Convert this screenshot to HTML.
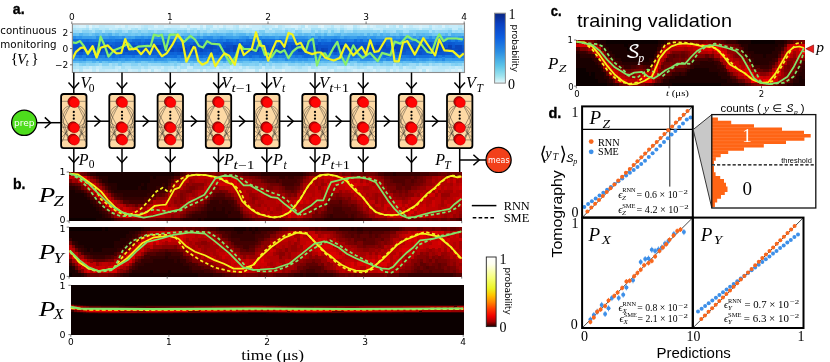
<!DOCTYPE html>
<html><head><meta charset="utf-8"><title>figure</title>
<style>html,body{margin:0;padding:0;background:#fff;}body{width:830px;height:362px;overflow:hidden;}svg{display:block;}</style>
</head><body>
<svg width="830" height="362" viewBox="0 0 830 362">
<rect width="830" height="362" fill="#fff"/>
<text x="12.8" y="13.5" font-family='"Liberation Sans", "DejaVu Sans", sans-serif' font-size="15.5" font-weight="bold" textLength="11.8" lengthAdjust="spacingAndGlyphs" stroke="#000" stroke-width="0.35">a.</text>
<g shape-rendering="crispEdges"><path fill="#c6ecfa" d="M72.4 24.5h3.6v3.3h-3.6zM92.0 24.5h3.6v3.3h-3.6zM105.1 24.5h10.1v3.3h-10.1zM157.4 24.5h6.8v3.3h-6.8zM170.4 24.5h10.1v3.3h-10.1zM216.2 24.5h3.6v3.3h-3.6zM252.1 24.5h10.1v3.3h-10.1zM271.7 24.5h3.6v3.3h-3.6zM297.9 24.5h3.6v3.3h-3.6zM307.7 24.5h3.6v3.3h-3.6zM324.0 24.5h6.8v3.3h-6.8zM356.7 24.5h3.6v3.3h-3.6zM366.5 24.5h3.6v3.3h-3.6zM435.1 24.5h3.6v3.3h-3.6zM448.2 24.5h10.1v3.3h-10.1zM88.7 27.5h3.6v3.3h-3.6zM108.3 27.5h3.6v3.3h-3.6zM127.9 27.5h3.6v3.3h-3.6zM147.6 27.5h3.6v3.3h-3.6zM186.8 27.5h3.6v3.3h-3.6zM252.1 27.5h6.8v3.3h-6.8zM268.5 27.5h3.6v3.3h-3.6zM294.6 27.5h3.6v3.3h-3.6zM301.1 27.5h3.6v3.3h-3.6zM307.7 27.5h3.6v3.3h-3.6zM346.9 27.5h6.8v3.3h-6.8zM373.0 27.5h6.8v3.3h-6.8zM418.8 27.5h3.6v3.3h-3.6zM431.8 27.5h3.6v3.3h-3.6zM451.4 27.5h6.8v3.3h-6.8zM88.7 66.1h3.6v3.3h-3.6zM95.3 66.1h3.6v3.3h-3.6zM118.1 66.1h3.6v3.3h-3.6zM160.6 66.1h3.6v3.3h-3.6zM186.8 66.1h6.8v3.3h-6.8zM216.2 66.1h3.6v3.3h-3.6zM229.2 66.1h3.6v3.3h-3.6zM239.0 66.1h3.6v3.3h-3.6zM261.9 66.1h3.6v3.3h-3.6zM307.7 66.1h3.6v3.3h-3.6zM337.1 66.1h6.8v3.3h-6.8zM346.9 66.1h3.6v3.3h-3.6zM366.5 66.1h6.8v3.3h-6.8zM402.4 66.1h3.6v3.3h-3.6zM422.0 66.1h10.1v3.3h-10.1zM454.7 66.1h3.6v3.3h-3.6zM72.4 69.0h3.6v3.3h-3.6zM105.1 69.0h10.1v3.3h-10.1zM131.2 69.0h6.8v3.3h-6.8zM144.3 69.0h3.6v3.3h-3.6zM167.2 69.0h6.8v3.3h-6.8zM193.3 69.0h3.6v3.3h-3.6zM209.6 69.0h3.6v3.3h-3.6zM219.4 69.0h3.6v3.3h-3.6zM235.8 69.0h3.6v3.3h-3.6zM271.7 69.0h3.6v3.3h-3.6zM284.8 69.0h6.8v3.3h-6.8zM294.6 69.0h3.6v3.3h-3.6zM314.2 69.0h3.6v3.3h-3.6zM350.1 69.0h3.6v3.3h-3.6zM363.2 69.0h3.6v3.3h-3.6zM369.7 69.0h3.6v3.3h-3.6zM402.4 69.0h16.6v3.3h-16.6zM448.2 69.0h3.6v3.3h-3.6z"/>
<path fill="#ceeffb" d="M75.7 24.5h3.6v3.3h-3.6zM95.3 24.5h3.6v3.3h-3.6zM118.1 24.5h3.6v3.3h-3.6zM127.9 24.5h6.8v3.3h-6.8zM137.8 24.5h3.6v3.3h-3.6zM167.2 24.5h3.6v3.3h-3.6zM226.0 24.5h6.8v3.3h-6.8zM242.3 24.5h3.6v3.3h-3.6zM248.8 24.5h3.6v3.3h-3.6zM284.8 24.5h6.8v3.3h-6.8zM333.8 24.5h6.8v3.3h-6.8zM343.6 24.5h3.6v3.3h-3.6zM373.0 24.5h3.6v3.3h-3.6zM405.7 24.5h3.6v3.3h-3.6zM412.2 24.5h6.8v3.3h-6.8zM422.0 24.5h6.8v3.3h-6.8zM431.8 24.5h3.6v3.3h-3.6zM461.2 24.5h3.6v3.3h-3.6zM75.7 69.0h3.6v3.3h-3.6zM114.9 69.0h3.6v3.3h-3.6zM127.9 69.0h3.6v3.3h-3.6zM141.0 69.0h3.6v3.3h-3.6zM157.4 69.0h3.6v3.3h-3.6zM173.7 69.0h3.6v3.3h-3.6zM180.2 69.0h3.6v3.3h-3.6zM196.6 69.0h3.6v3.3h-3.6zM212.9 69.0h6.8v3.3h-6.8zM226.0 69.0h3.6v3.3h-3.6zM232.5 69.0h3.6v3.3h-3.6zM242.3 69.0h3.6v3.3h-3.6zM261.9 69.0h3.6v3.3h-3.6zM268.5 69.0h3.6v3.3h-3.6zM275.0 69.0h6.8v3.3h-6.8zM317.5 69.0h3.6v3.3h-3.6zM327.3 69.0h3.6v3.3h-3.6zM356.7 69.0h3.6v3.3h-3.6zM379.5 69.0h6.8v3.3h-6.8zM395.9 69.0h3.6v3.3h-3.6zM428.6 69.0h3.6v3.3h-3.6zM444.9 69.0h3.6v3.3h-3.6zM454.7 69.0h3.6v3.3h-3.6z"/>
<path fill="#d6f2fc" d="M78.9 24.5h6.8v3.3h-6.8zM114.9 24.5h3.6v3.3h-3.6zM121.4 24.5h3.6v3.3h-3.6zM134.5 24.5h3.6v3.3h-3.6zM154.1 24.5h3.6v3.3h-3.6zM163.9 24.5h3.6v3.3h-3.6zM180.2 24.5h6.8v3.3h-6.8zM190.0 24.5h10.1v3.3h-10.1zM203.1 24.5h3.6v3.3h-3.6zM212.9 24.5h3.6v3.3h-3.6zM219.4 24.5h3.6v3.3h-3.6zM239.0 24.5h3.6v3.3h-3.6zM275.0 24.5h3.6v3.3h-3.6zM291.3 24.5h6.8v3.3h-6.8zM317.5 24.5h3.6v3.3h-3.6zM346.9 24.5h6.8v3.3h-6.8zM359.9 24.5h3.6v3.3h-3.6zM369.7 24.5h3.6v3.3h-3.6zM386.1 24.5h3.6v3.3h-3.6zM395.9 24.5h3.6v3.3h-3.6zM418.8 24.5h3.6v3.3h-3.6zM441.6 24.5h3.6v3.3h-3.6zM82.2 69.0h10.1v3.3h-10.1zM95.3 69.0h3.6v3.3h-3.6zM147.6 69.0h3.6v3.3h-3.6zM154.1 69.0h3.6v3.3h-3.6zM183.5 69.0h3.6v3.3h-3.6zM203.1 69.0h3.6v3.3h-3.6zM222.7 69.0h3.6v3.3h-3.6zM245.6 69.0h10.1v3.3h-10.1zM258.6 69.0h3.6v3.3h-3.6zM307.7 69.0h6.8v3.3h-6.8zM330.5 69.0h3.6v3.3h-3.6zM353.4 69.0h3.6v3.3h-3.6zM359.9 69.0h3.6v3.3h-3.6zM373.0 69.0h3.6v3.3h-3.6zM389.3 69.0h3.6v3.3h-3.6zM418.8 69.0h3.6v3.3h-3.6zM451.4 69.0h3.6v3.3h-3.6z"/>
<path fill="#bee9f9" d="M85.5 24.5h3.6v3.3h-3.6zM98.5 24.5h6.8v3.3h-6.8zM124.7 24.5h3.6v3.3h-3.6zM141.0 24.5h3.6v3.3h-3.6zM147.6 24.5h6.8v3.3h-6.8zM186.8 24.5h3.6v3.3h-3.6zM199.8 24.5h3.6v3.3h-3.6zM222.7 24.5h3.6v3.3h-3.6zM232.5 24.5h3.6v3.3h-3.6zM265.2 24.5h6.8v3.3h-6.8zM281.5 24.5h3.6v3.3h-3.6zM310.9 24.5h6.8v3.3h-6.8zM340.3 24.5h3.6v3.3h-3.6zM376.3 24.5h10.1v3.3h-10.1zM389.3 24.5h3.6v3.3h-3.6zM409.0 24.5h3.6v3.3h-3.6zM438.4 24.5h3.6v3.3h-3.6zM444.9 24.5h3.6v3.3h-3.6zM458.0 24.5h3.6v3.3h-3.6zM111.6 27.5h6.8v3.3h-6.8zM121.4 27.5h6.8v3.3h-6.8zM137.8 27.5h3.6v3.3h-3.6zM150.8 27.5h13.4v3.3h-13.4zM196.6 27.5h3.6v3.3h-3.6zM203.1 27.5h3.6v3.3h-3.6zM209.6 27.5h10.1v3.3h-10.1zM229.2 27.5h3.6v3.3h-3.6zM239.0 27.5h3.6v3.3h-3.6zM258.6 27.5h6.8v3.3h-6.8zM281.5 27.5h3.6v3.3h-3.6zM304.4 27.5h3.6v3.3h-3.6zM320.7 27.5h6.8v3.3h-6.8zM337.1 27.5h3.6v3.3h-3.6zM359.9 27.5h3.6v3.3h-3.6zM379.5 27.5h3.6v3.3h-3.6zM435.1 27.5h6.8v3.3h-6.8zM461.2 27.5h3.6v3.3h-3.6zM82.2 66.1h3.6v3.3h-3.6zM98.5 66.1h3.6v3.3h-3.6zM114.9 66.1h3.6v3.3h-3.6zM150.8 66.1h6.8v3.3h-6.8zM170.4 66.1h3.6v3.3h-3.6zM177.0 66.1h3.6v3.3h-3.6zM245.6 66.1h3.6v3.3h-3.6zM271.7 66.1h3.6v3.3h-3.6zM284.8 66.1h6.8v3.3h-6.8zM317.5 66.1h10.1v3.3h-10.1zM350.1 66.1h3.6v3.3h-3.6zM392.6 66.1h6.8v3.3h-6.8zM415.5 66.1h6.8v3.3h-6.8zM431.8 66.1h6.8v3.3h-6.8zM448.2 66.1h3.6v3.3h-3.6zM458.0 66.1h3.6v3.3h-3.6zM92.0 69.0h3.6v3.3h-3.6zM98.5 69.0h6.8v3.3h-6.8zM118.1 69.0h6.8v3.3h-6.8zM160.6 69.0h3.6v3.3h-3.6zM177.0 69.0h3.6v3.3h-3.6zM186.8 69.0h6.8v3.3h-6.8zM206.4 69.0h3.6v3.3h-3.6zM229.2 69.0h3.6v3.3h-3.6zM239.0 69.0h3.6v3.3h-3.6zM265.2 69.0h3.6v3.3h-3.6zM291.3 69.0h3.6v3.3h-3.6zM297.9 69.0h10.1v3.3h-10.1zM320.7 69.0h6.8v3.3h-6.8zM337.1 69.0h6.8v3.3h-6.8zM346.9 69.0h3.6v3.3h-3.6zM366.5 69.0h3.6v3.3h-3.6zM376.3 69.0h3.6v3.3h-3.6zM392.6 69.0h3.6v3.3h-3.6zM399.1 69.0h3.6v3.3h-3.6zM431.8 69.0h13.4v3.3h-13.4zM461.2 69.0h3.6v3.3h-3.6z"/>
<path fill="#def5fc" d="M88.7 24.5h3.6v3.3h-3.6zM245.6 24.5h3.6v3.3h-3.6zM304.4 24.5h3.6v3.3h-3.6zM320.7 24.5h3.6v3.3h-3.6zM363.2 24.5h3.6v3.3h-3.6zM402.4 24.5h3.6v3.3h-3.6zM281.5 69.0h3.6v3.3h-3.6zM425.3 69.0h3.6v3.3h-3.6zM458.0 69.0h3.6v3.3h-3.6z"/>
<path fill="#b5e6f8" d="M144.3 24.5h3.6v3.3h-3.6zM206.4 24.5h6.8v3.3h-6.8zM235.8 24.5h3.6v3.3h-3.6zM261.9 24.5h3.6v3.3h-3.6zM278.3 24.5h3.6v3.3h-3.6zM301.1 24.5h3.6v3.3h-3.6zM330.5 24.5h3.6v3.3h-3.6zM353.4 24.5h3.6v3.3h-3.6zM392.6 24.5h3.6v3.3h-3.6zM399.1 24.5h3.6v3.3h-3.6zM428.6 24.5h3.6v3.3h-3.6zM75.7 27.5h6.8v3.3h-6.8zM98.5 27.5h6.8v3.3h-6.8zM177.0 27.5h6.8v3.3h-6.8zM226.0 27.5h3.6v3.3h-3.6zM232.5 27.5h3.6v3.3h-3.6zM242.3 27.5h3.6v3.3h-3.6zM248.8 27.5h3.6v3.3h-3.6zM343.6 27.5h3.6v3.3h-3.6zM363.2 27.5h3.6v3.3h-3.6zM369.7 27.5h3.6v3.3h-3.6zM399.1 27.5h6.8v3.3h-6.8zM415.5 27.5h3.6v3.3h-3.6zM441.6 27.5h3.6v3.3h-3.6zM75.7 66.1h3.6v3.3h-3.6zM85.5 66.1h3.6v3.3h-3.6zM92.0 66.1h3.6v3.3h-3.6zM124.7 66.1h6.8v3.3h-6.8zM141.0 66.1h3.6v3.3h-3.6zM147.6 66.1h3.6v3.3h-3.6zM157.4 66.1h3.6v3.3h-3.6zM167.2 66.1h3.6v3.3h-3.6zM232.5 66.1h6.8v3.3h-6.8zM281.5 66.1h3.6v3.3h-3.6zM291.3 66.1h3.6v3.3h-3.6zM301.1 66.1h6.8v3.3h-6.8zM333.8 66.1h3.6v3.3h-3.6zM343.6 66.1h3.6v3.3h-3.6zM353.4 66.1h3.6v3.3h-3.6zM363.2 66.1h3.6v3.3h-3.6zM376.3 66.1h10.1v3.3h-10.1zM389.3 66.1h3.6v3.3h-3.6zM405.7 66.1h3.6v3.3h-3.6zM438.4 66.1h10.1v3.3h-10.1zM451.4 66.1h3.6v3.3h-3.6zM461.2 66.1h3.6v3.3h-3.6zM78.9 69.0h3.6v3.3h-3.6zM124.7 69.0h3.6v3.3h-3.6zM137.8 69.0h3.6v3.3h-3.6zM150.8 69.0h3.6v3.3h-3.6zM163.9 69.0h3.6v3.3h-3.6zM199.8 69.0h3.6v3.3h-3.6zM255.4 69.0h3.6v3.3h-3.6zM333.8 69.0h3.6v3.3h-3.6zM343.6 69.0h3.6v3.3h-3.6zM386.1 69.0h3.6v3.3h-3.6zM422.0 69.0h3.6v3.3h-3.6z"/>
<path fill="#ade3f7" d="M72.4 27.5h3.6v3.3h-3.6zM82.2 27.5h3.6v3.3h-3.6zM92.0 27.5h3.6v3.3h-3.6zM105.1 27.5h3.6v3.3h-3.6zM118.1 27.5h3.6v3.3h-3.6zM131.2 27.5h3.6v3.3h-3.6zM141.0 27.5h3.6v3.3h-3.6zM163.9 27.5h3.6v3.3h-3.6zM170.4 27.5h6.8v3.3h-6.8zM183.5 27.5h3.6v3.3h-3.6zM190.0 27.5h3.6v3.3h-3.6zM199.8 27.5h3.6v3.3h-3.6zM219.4 27.5h3.6v3.3h-3.6zM235.8 27.5h3.6v3.3h-3.6zM245.6 27.5h3.6v3.3h-3.6zM278.3 27.5h3.6v3.3h-3.6zM288.1 27.5h3.6v3.3h-3.6zM297.9 27.5h3.6v3.3h-3.6zM333.8 27.5h3.6v3.3h-3.6zM356.7 27.5h3.6v3.3h-3.6zM366.5 27.5h3.6v3.3h-3.6zM382.8 27.5h16.6v3.3h-16.6zM405.7 27.5h10.1v3.3h-10.1zM422.0 27.5h6.8v3.3h-6.8zM444.9 27.5h3.6v3.3h-3.6zM72.4 66.1h3.6v3.3h-3.6zM78.9 66.1h3.6v3.3h-3.6zM101.8 66.1h10.1v3.3h-10.1zM163.9 66.1h3.6v3.3h-3.6zM206.4 66.1h3.6v3.3h-3.6zM219.4 66.1h3.6v3.3h-3.6zM226.0 66.1h3.6v3.3h-3.6zM242.3 66.1h3.6v3.3h-3.6zM248.8 66.1h6.8v3.3h-6.8zM294.6 66.1h3.6v3.3h-3.6zM314.2 66.1h3.6v3.3h-3.6zM327.3 66.1h6.8v3.3h-6.8zM359.9 66.1h3.6v3.3h-3.6zM373.0 66.1h3.6v3.3h-3.6zM386.1 66.1h3.6v3.3h-3.6zM409.0 66.1h3.6v3.3h-3.6z"/>
<path fill="#a4dff6" d="M85.5 27.5h3.6v3.3h-3.6zM95.3 27.5h3.6v3.3h-3.6zM134.5 27.5h3.6v3.3h-3.6zM144.3 27.5h3.6v3.3h-3.6zM167.2 27.5h3.6v3.3h-3.6zM193.3 27.5h3.6v3.3h-3.6zM206.4 27.5h3.6v3.3h-3.6zM222.7 27.5h3.6v3.3h-3.6zM265.2 27.5h3.6v3.3h-3.6zM271.7 27.5h6.8v3.3h-6.8zM284.8 27.5h3.6v3.3h-3.6zM291.3 27.5h3.6v3.3h-3.6zM310.9 27.5h10.1v3.3h-10.1zM327.3 27.5h6.8v3.3h-6.8zM340.3 27.5h3.6v3.3h-3.6zM353.4 27.5h3.6v3.3h-3.6zM428.6 27.5h3.6v3.3h-3.6zM448.2 27.5h3.6v3.3h-3.6zM458.0 27.5h3.6v3.3h-3.6zM78.9 30.4h3.6v3.3h-3.6zM92.0 30.4h3.6v3.3h-3.6zM101.8 30.4h3.6v3.3h-3.6zM124.7 30.4h3.6v3.3h-3.6zM167.2 30.4h3.6v3.3h-3.6zM206.4 30.4h6.8v3.3h-6.8zM245.6 30.4h3.6v3.3h-3.6zM252.1 30.4h3.6v3.3h-3.6zM265.2 30.4h3.6v3.3h-3.6zM271.7 30.4h3.6v3.3h-3.6zM291.3 30.4h3.6v3.3h-3.6zM301.1 30.4h10.1v3.3h-10.1zM314.2 30.4h3.6v3.3h-3.6zM327.3 30.4h3.6v3.3h-3.6zM337.1 30.4h3.6v3.3h-3.6zM379.5 30.4h3.6v3.3h-3.6zM392.6 30.4h3.6v3.3h-3.6zM402.4 30.4h6.8v3.3h-6.8zM428.6 30.4h3.6v3.3h-3.6zM451.4 30.4h3.6v3.3h-3.6zM458.0 30.4h3.6v3.3h-3.6zM75.7 63.1h3.6v3.3h-3.6zM98.5 63.1h3.6v3.3h-3.6zM108.3 63.1h3.6v3.3h-3.6zM180.2 63.1h3.6v3.3h-3.6zM186.8 63.1h3.6v3.3h-3.6zM229.2 63.1h3.6v3.3h-3.6zM235.8 63.1h3.6v3.3h-3.6zM284.8 63.1h3.6v3.3h-3.6zM392.6 63.1h3.6v3.3h-3.6zM418.8 63.1h3.6v3.3h-3.6zM428.6 63.1h3.6v3.3h-3.6zM438.4 63.1h3.6v3.3h-3.6zM111.6 66.1h3.6v3.3h-3.6zM121.4 66.1h3.6v3.3h-3.6zM131.2 66.1h10.1v3.3h-10.1zM144.3 66.1h3.6v3.3h-3.6zM173.7 66.1h3.6v3.3h-3.6zM180.2 66.1h6.8v3.3h-6.8zM193.3 66.1h13.4v3.3h-13.4zM209.6 66.1h6.8v3.3h-6.8zM222.7 66.1h3.6v3.3h-3.6zM255.4 66.1h6.8v3.3h-6.8zM265.2 66.1h6.8v3.3h-6.8zM275.0 66.1h6.8v3.3h-6.8zM297.9 66.1h3.6v3.3h-3.6zM310.9 66.1h3.6v3.3h-3.6zM356.7 66.1h3.6v3.3h-3.6zM399.1 66.1h3.6v3.3h-3.6zM412.2 66.1h3.6v3.3h-3.6z"/>
<path fill="#9adaf6" d="M72.4 30.4h6.8v3.3h-6.8zM111.6 30.4h3.6v3.3h-3.6zM121.4 30.4h3.6v3.3h-3.6zM154.1 30.4h3.6v3.3h-3.6zM170.4 30.4h3.6v3.3h-3.6zM186.8 30.4h3.6v3.3h-3.6zM193.3 30.4h3.6v3.3h-3.6zM199.8 30.4h3.6v3.3h-3.6zM216.2 30.4h3.6v3.3h-3.6zM242.3 30.4h3.6v3.3h-3.6zM248.8 30.4h3.6v3.3h-3.6zM255.4 30.4h3.6v3.3h-3.6zM268.5 30.4h3.6v3.3h-3.6zM281.5 30.4h3.6v3.3h-3.6zM288.1 30.4h3.6v3.3h-3.6zM320.7 30.4h3.6v3.3h-3.6zM333.8 30.4h3.6v3.3h-3.6zM343.6 30.4h3.6v3.3h-3.6zM350.1 30.4h3.6v3.3h-3.6zM389.3 30.4h3.6v3.3h-3.6zM435.1 30.4h3.6v3.3h-3.6zM454.7 30.4h3.6v3.3h-3.6zM461.2 30.4h3.6v3.3h-3.6zM72.4 63.1h3.6v3.3h-3.6zM114.9 63.1h3.6v3.3h-3.6zM121.4 63.1h10.1v3.3h-10.1zM137.8 63.1h3.6v3.3h-3.6zM147.6 63.1h3.6v3.3h-3.6zM183.5 63.1h3.6v3.3h-3.6zM193.3 63.1h3.6v3.3h-3.6zM209.6 63.1h3.6v3.3h-3.6zM222.7 63.1h3.6v3.3h-3.6zM232.5 63.1h3.6v3.3h-3.6zM258.6 63.1h3.6v3.3h-3.6zM265.2 63.1h3.6v3.3h-3.6zM271.7 63.1h3.6v3.3h-3.6zM281.5 63.1h3.6v3.3h-3.6zM314.2 63.1h3.6v3.3h-3.6zM346.9 63.1h3.6v3.3h-3.6zM353.4 63.1h3.6v3.3h-3.6zM409.0 63.1h6.8v3.3h-6.8zM435.1 63.1h3.6v3.3h-3.6zM444.9 63.1h6.8v3.3h-6.8zM461.2 63.1h3.6v3.3h-3.6z"/>
<path fill="#86d2f4" d="M82.2 30.4h6.8v3.3h-6.8zM95.3 30.4h3.6v3.3h-3.6zM105.1 30.4h6.8v3.3h-6.8zM114.9 30.4h3.6v3.3h-3.6zM150.8 30.4h3.6v3.3h-3.6zM157.4 30.4h6.8v3.3h-6.8zM180.2 30.4h3.6v3.3h-3.6zM190.0 30.4h3.6v3.3h-3.6zM212.9 30.4h3.6v3.3h-3.6zM226.0 30.4h3.6v3.3h-3.6zM235.8 30.4h3.6v3.3h-3.6zM297.9 30.4h3.6v3.3h-3.6zM310.9 30.4h3.6v3.3h-3.6zM317.5 30.4h3.6v3.3h-3.6zM324.0 30.4h3.6v3.3h-3.6zM356.7 30.4h16.6v3.3h-16.6zM376.3 30.4h3.6v3.3h-3.6zM399.1 30.4h3.6v3.3h-3.6zM409.0 30.4h6.8v3.3h-6.8zM431.8 30.4h3.6v3.3h-3.6zM78.9 63.1h3.6v3.3h-3.6zM88.7 63.1h6.8v3.3h-6.8zM101.8 63.1h6.8v3.3h-6.8zM131.2 63.1h6.8v3.3h-6.8zM141.0 63.1h6.8v3.3h-6.8zM160.6 63.1h10.1v3.3h-10.1zM203.1 63.1h3.6v3.3h-3.6zM212.9 63.1h10.1v3.3h-10.1zM248.8 63.1h6.8v3.3h-6.8zM268.5 63.1h3.6v3.3h-3.6zM288.1 63.1h6.8v3.3h-6.8zM297.9 63.1h3.6v3.3h-3.6zM320.7 63.1h6.8v3.3h-6.8zM350.1 63.1h3.6v3.3h-3.6zM356.7 63.1h3.6v3.3h-3.6zM366.5 63.1h10.1v3.3h-10.1zM382.8 63.1h3.6v3.3h-3.6zM395.9 63.1h3.6v3.3h-3.6zM405.7 63.1h3.6v3.3h-3.6zM415.5 63.1h3.6v3.3h-3.6zM425.3 63.1h3.6v3.3h-3.6zM451.4 63.1h3.6v3.3h-3.6zM458.0 63.1h3.6v3.3h-3.6z"/>
<path fill="#90d6f5" d="M88.7 30.4h3.6v3.3h-3.6zM131.2 30.4h6.8v3.3h-6.8zM141.0 30.4h6.8v3.3h-6.8zM163.9 30.4h3.6v3.3h-3.6zM173.7 30.4h3.6v3.3h-3.6zM203.1 30.4h3.6v3.3h-3.6zM219.4 30.4h6.8v3.3h-6.8zM232.5 30.4h3.6v3.3h-3.6zM239.0 30.4h3.6v3.3h-3.6zM275.0 30.4h6.8v3.3h-6.8zM346.9 30.4h3.6v3.3h-3.6zM373.0 30.4h3.6v3.3h-3.6zM386.1 30.4h3.6v3.3h-3.6zM438.4 30.4h10.1v3.3h-10.1zM85.5 63.1h3.6v3.3h-3.6zM95.3 63.1h3.6v3.3h-3.6zM111.6 63.1h3.6v3.3h-3.6zM150.8 63.1h10.1v3.3h-10.1zM170.4 63.1h3.6v3.3h-3.6zM177.0 63.1h3.6v3.3h-3.6zM196.6 63.1h6.8v3.3h-6.8zM226.0 63.1h3.6v3.3h-3.6zM239.0 63.1h3.6v3.3h-3.6zM275.0 63.1h6.8v3.3h-6.8zM294.6 63.1h3.6v3.3h-3.6zM304.4 63.1h3.6v3.3h-3.6zM310.9 63.1h3.6v3.3h-3.6zM327.3 63.1h10.1v3.3h-10.1zM359.9 63.1h3.6v3.3h-3.6zM376.3 63.1h3.6v3.3h-3.6zM399.1 63.1h3.6v3.3h-3.6zM422.0 63.1h3.6v3.3h-3.6zM431.8 63.1h3.6v3.3h-3.6zM441.6 63.1h3.6v3.3h-3.6z"/>
<path fill="#7dcef3" d="M98.5 30.4h3.6v3.3h-3.6zM118.1 30.4h3.6v3.3h-3.6zM127.9 30.4h3.6v3.3h-3.6zM137.8 30.4h3.6v3.3h-3.6zM147.6 30.4h3.6v3.3h-3.6zM177.0 30.4h3.6v3.3h-3.6zM183.5 30.4h3.6v3.3h-3.6zM196.6 30.4h3.6v3.3h-3.6zM229.2 30.4h3.6v3.3h-3.6zM258.6 30.4h6.8v3.3h-6.8zM284.8 30.4h3.6v3.3h-3.6zM294.6 30.4h3.6v3.3h-3.6zM330.5 30.4h3.6v3.3h-3.6zM340.3 30.4h3.6v3.3h-3.6zM353.4 30.4h3.6v3.3h-3.6zM382.8 30.4h3.6v3.3h-3.6zM395.9 30.4h3.6v3.3h-3.6zM415.5 30.4h13.4v3.3h-13.4zM448.2 30.4h3.6v3.3h-3.6zM82.2 63.1h3.6v3.3h-3.6zM118.1 63.1h3.6v3.3h-3.6zM173.7 63.1h3.6v3.3h-3.6zM190.0 63.1h3.6v3.3h-3.6zM206.4 63.1h3.6v3.3h-3.6zM242.3 63.1h6.8v3.3h-6.8zM255.4 63.1h3.6v3.3h-3.6zM261.9 63.1h3.6v3.3h-3.6zM301.1 63.1h3.6v3.3h-3.6zM307.7 63.1h3.6v3.3h-3.6zM317.5 63.1h3.6v3.3h-3.6zM337.1 63.1h10.1v3.3h-10.1zM363.2 63.1h3.6v3.3h-3.6zM379.5 63.1h3.6v3.3h-3.6zM386.1 63.1h6.8v3.3h-6.8zM402.4 63.1h3.6v3.3h-3.6zM454.7 63.1h3.6v3.3h-3.6z"/>
<path fill="#63bff1" d="M72.4 33.4h3.6v3.3h-3.6zM82.2 33.4h6.8v3.3h-6.8zM92.0 33.4h3.6v3.3h-3.6zM98.5 33.4h3.6v3.3h-3.6zM124.7 33.4h3.6v3.3h-3.6zM141.0 33.4h3.6v3.3h-3.6zM147.6 33.4h3.6v3.3h-3.6zM163.9 33.4h3.6v3.3h-3.6zM180.2 33.4h3.6v3.3h-3.6zM222.7 33.4h3.6v3.3h-3.6zM261.9 33.4h3.6v3.3h-3.6zM275.0 33.4h3.6v3.3h-3.6zM284.8 33.4h6.8v3.3h-6.8zM307.7 33.4h3.6v3.3h-3.6zM343.6 33.4h3.6v3.3h-3.6zM356.7 33.4h3.6v3.3h-3.6zM392.6 33.4h3.6v3.3h-3.6zM405.7 33.4h3.6v3.3h-3.6zM428.6 33.4h3.6v3.3h-3.6zM438.4 33.4h6.8v3.3h-6.8zM105.1 60.1h3.6v3.3h-3.6zM111.6 60.1h6.8v3.3h-6.8zM124.7 60.1h6.8v3.3h-6.8zM167.2 60.1h3.6v3.3h-3.6zM190.0 60.1h3.6v3.3h-3.6zM229.2 60.1h3.6v3.3h-3.6zM235.8 60.1h3.6v3.3h-3.6zM248.8 60.1h3.6v3.3h-3.6zM261.9 60.1h3.6v3.3h-3.6zM281.5 60.1h3.6v3.3h-3.6zM301.1 60.1h3.6v3.3h-3.6zM314.2 60.1h3.6v3.3h-3.6zM320.7 60.1h3.6v3.3h-3.6zM327.3 60.1h3.6v3.3h-3.6zM366.5 60.1h3.6v3.3h-3.6zM395.9 60.1h3.6v3.3h-3.6zM402.4 60.1h3.6v3.3h-3.6zM425.3 60.1h3.6v3.3h-3.6zM431.8 60.1h3.6v3.3h-3.6zM454.7 60.1h10.1v3.3h-10.1z"/>
<path fill="#6bc4f1" d="M75.7 33.4h3.6v3.3h-3.6zM111.6 33.4h3.6v3.3h-3.6zM121.4 33.4h3.6v3.3h-3.6zM127.9 33.4h3.6v3.3h-3.6zM134.5 33.4h3.6v3.3h-3.6zM144.3 33.4h3.6v3.3h-3.6zM190.0 33.4h6.8v3.3h-6.8zM206.4 33.4h3.6v3.3h-3.6zM232.5 33.4h3.6v3.3h-3.6zM245.6 33.4h3.6v3.3h-3.6zM252.1 33.4h3.6v3.3h-3.6zM265.2 33.4h3.6v3.3h-3.6zM271.7 33.4h3.6v3.3h-3.6zM278.3 33.4h6.8v3.3h-6.8zM291.3 33.4h6.8v3.3h-6.8zM301.1 33.4h3.6v3.3h-3.6zM320.7 33.4h3.6v3.3h-3.6zM330.5 33.4h3.6v3.3h-3.6zM340.3 33.4h3.6v3.3h-3.6zM369.7 33.4h3.6v3.3h-3.6zM376.3 33.4h3.6v3.3h-3.6zM389.3 33.4h3.6v3.3h-3.6zM395.9 33.4h3.6v3.3h-3.6zM402.4 33.4h3.6v3.3h-3.6zM85.5 60.1h6.8v3.3h-6.8zM95.3 60.1h3.6v3.3h-3.6zM101.8 60.1h3.6v3.3h-3.6zM118.1 60.1h3.6v3.3h-3.6zM131.2 60.1h3.6v3.3h-3.6zM144.3 60.1h3.6v3.3h-3.6zM170.4 60.1h3.6v3.3h-3.6zM196.6 60.1h3.6v3.3h-3.6zM206.4 60.1h10.1v3.3h-10.1zM219.4 60.1h3.6v3.3h-3.6zM226.0 60.1h3.6v3.3h-3.6zM242.3 60.1h6.8v3.3h-6.8zM330.5 60.1h3.6v3.3h-3.6zM373.0 60.1h3.6v3.3h-3.6zM386.1 60.1h6.8v3.3h-6.8zM428.6 60.1h3.6v3.3h-3.6z"/>
<path fill="#54b5ef" d="M78.9 33.4h3.6v3.3h-3.6zM95.3 33.4h3.6v3.3h-3.6zM101.8 33.4h3.6v3.3h-3.6zM150.8 33.4h3.6v3.3h-3.6zM160.6 33.4h3.6v3.3h-3.6zM173.7 33.4h3.6v3.3h-3.6zM186.8 33.4h3.6v3.3h-3.6zM216.2 33.4h3.6v3.3h-3.6zM226.0 33.4h6.8v3.3h-6.8zM239.0 33.4h6.8v3.3h-6.8zM255.4 33.4h3.6v3.3h-3.6zM314.2 33.4h3.6v3.3h-3.6zM324.0 33.4h3.6v3.3h-3.6zM337.1 33.4h3.6v3.3h-3.6zM366.5 33.4h3.6v3.3h-3.6zM373.0 33.4h3.6v3.3h-3.6zM386.1 33.4h3.6v3.3h-3.6zM399.1 33.4h3.6v3.3h-3.6zM415.5 33.4h3.6v3.3h-3.6zM422.0 33.4h3.6v3.3h-3.6zM444.9 33.4h3.6v3.3h-3.6zM454.7 33.4h6.8v3.3h-6.8zM78.9 60.1h3.6v3.3h-3.6zM92.0 60.1h3.6v3.3h-3.6zM108.3 60.1h3.6v3.3h-3.6zM121.4 60.1h3.6v3.3h-3.6zM134.5 60.1h3.6v3.3h-3.6zM154.1 60.1h3.6v3.3h-3.6zM160.6 60.1h3.6v3.3h-3.6zM186.8 60.1h3.6v3.3h-3.6zM193.3 60.1h3.6v3.3h-3.6zM232.5 60.1h3.6v3.3h-3.6zM258.6 60.1h3.6v3.3h-3.6zM275.0 60.1h3.6v3.3h-3.6zM297.9 60.1h3.6v3.3h-3.6zM304.4 60.1h6.8v3.3h-6.8zM340.3 60.1h3.6v3.3h-3.6zM346.9 60.1h3.6v3.3h-3.6zM356.7 60.1h10.1v3.3h-10.1zM399.1 60.1h3.6v3.3h-3.6zM422.0 60.1h3.6v3.3h-3.6zM435.1 60.1h3.6v3.3h-3.6zM441.6 60.1h3.6v3.3h-3.6zM448.2 60.1h3.6v3.3h-3.6z"/>
<path fill="#73c9f2" d="M88.7 33.4h3.6v3.3h-3.6zM118.1 33.4h3.6v3.3h-3.6zM131.2 33.4h3.6v3.3h-3.6zM137.8 33.4h3.6v3.3h-3.6zM170.4 33.4h3.6v3.3h-3.6zM177.0 33.4h3.6v3.3h-3.6zM199.8 33.4h3.6v3.3h-3.6zM258.6 33.4h3.6v3.3h-3.6zM268.5 33.4h3.6v3.3h-3.6zM310.9 33.4h3.6v3.3h-3.6zM327.3 33.4h3.6v3.3h-3.6zM363.2 33.4h3.6v3.3h-3.6zM412.2 33.4h3.6v3.3h-3.6zM431.8 33.4h6.8v3.3h-6.8zM448.2 33.4h3.6v3.3h-3.6zM141.0 60.1h3.6v3.3h-3.6zM173.7 60.1h3.6v3.3h-3.6zM252.1 60.1h6.8v3.3h-6.8zM268.5 60.1h3.6v3.3h-3.6zM343.6 60.1h3.6v3.3h-3.6zM350.1 60.1h6.8v3.3h-6.8zM382.8 60.1h3.6v3.3h-3.6z"/>
<path fill="#5cbaf0" d="M105.1 33.4h3.6v3.3h-3.6zM114.9 33.4h3.6v3.3h-3.6zM154.1 33.4h6.8v3.3h-6.8zM167.2 33.4h3.6v3.3h-3.6zM183.5 33.4h3.6v3.3h-3.6zM196.6 33.4h3.6v3.3h-3.6zM203.1 33.4h3.6v3.3h-3.6zM209.6 33.4h6.8v3.3h-6.8zM219.4 33.4h3.6v3.3h-3.6zM235.8 33.4h3.6v3.3h-3.6zM248.8 33.4h3.6v3.3h-3.6zM297.9 33.4h3.6v3.3h-3.6zM304.4 33.4h3.6v3.3h-3.6zM317.5 33.4h3.6v3.3h-3.6zM333.8 33.4h3.6v3.3h-3.6zM346.9 33.4h10.1v3.3h-10.1zM359.9 33.4h3.6v3.3h-3.6zM382.8 33.4h3.6v3.3h-3.6zM409.0 33.4h3.6v3.3h-3.6zM418.8 33.4h3.6v3.3h-3.6zM425.3 33.4h3.6v3.3h-3.6zM461.2 33.4h3.6v3.3h-3.6zM72.4 60.1h6.8v3.3h-6.8zM82.2 60.1h3.6v3.3h-3.6zM137.8 60.1h3.6v3.3h-3.6zM147.6 60.1h6.8v3.3h-6.8zM157.4 60.1h3.6v3.3h-3.6zM177.0 60.1h3.6v3.3h-3.6zM183.5 60.1h3.6v3.3h-3.6zM199.8 60.1h3.6v3.3h-3.6zM216.2 60.1h3.6v3.3h-3.6zM239.0 60.1h3.6v3.3h-3.6zM265.2 60.1h3.6v3.3h-3.6zM271.7 60.1h3.6v3.3h-3.6zM278.3 60.1h3.6v3.3h-3.6zM284.8 60.1h6.8v3.3h-6.8zM294.6 60.1h3.6v3.3h-3.6zM310.9 60.1h3.6v3.3h-3.6zM317.5 60.1h3.6v3.3h-3.6zM324.0 60.1h3.6v3.3h-3.6zM333.8 60.1h6.8v3.3h-6.8zM369.7 60.1h3.6v3.3h-3.6zM405.7 60.1h6.8v3.3h-6.8zM418.8 60.1h3.6v3.3h-3.6zM438.4 60.1h3.6v3.3h-3.6zM444.9 60.1h3.6v3.3h-3.6zM451.4 60.1h3.6v3.3h-3.6z"/>
<path fill="#4db0ee" d="M108.3 33.4h3.6v3.3h-3.6zM379.5 33.4h3.6v3.3h-3.6zM451.4 33.4h3.6v3.3h-3.6zM98.5 60.1h3.6v3.3h-3.6zM163.9 60.1h3.6v3.3h-3.6zM180.2 60.1h3.6v3.3h-3.6zM203.1 60.1h3.6v3.3h-3.6zM222.7 60.1h3.6v3.3h-3.6zM291.3 60.1h3.6v3.3h-3.6zM376.3 60.1h6.8v3.3h-6.8zM392.6 60.1h3.6v3.3h-3.6zM412.2 60.1h6.8v3.3h-6.8z"/>
<path fill="#298fe9" d="M72.4 36.4h3.6v3.3h-3.6zM95.3 36.4h3.6v3.3h-3.6zM108.3 36.4h6.8v3.3h-6.8zM121.4 36.4h3.6v3.3h-3.6zM141.0 36.4h3.6v3.3h-3.6zM147.6 36.4h3.6v3.3h-3.6zM157.4 36.4h3.6v3.3h-3.6zM180.2 36.4h3.6v3.3h-3.6zM206.4 36.4h6.8v3.3h-6.8zM219.4 36.4h3.6v3.3h-3.6zM245.6 36.4h3.6v3.3h-3.6zM255.4 36.4h6.8v3.3h-6.8zM310.9 36.4h3.6v3.3h-3.6zM317.5 36.4h3.6v3.3h-3.6zM333.8 36.4h3.6v3.3h-3.6zM399.1 36.4h6.8v3.3h-6.8zM428.6 36.4h3.6v3.3h-3.6zM438.4 36.4h3.6v3.3h-3.6zM461.2 36.4h3.6v3.3h-3.6zM82.2 57.2h3.6v3.3h-3.6zM95.3 57.2h3.6v3.3h-3.6zM111.6 57.2h6.8v3.3h-6.8zM154.1 57.2h3.6v3.3h-3.6zM177.0 57.2h3.6v3.3h-3.6zM196.6 57.2h3.6v3.3h-3.6zM209.6 57.2h3.6v3.3h-3.6zM222.7 57.2h3.6v3.3h-3.6zM252.1 57.2h3.6v3.3h-3.6zM261.9 57.2h3.6v3.3h-3.6zM317.5 57.2h3.6v3.3h-3.6zM340.3 57.2h3.6v3.3h-3.6zM350.1 57.2h3.6v3.3h-3.6zM359.9 57.2h10.1v3.3h-10.1zM376.3 57.2h6.8v3.3h-6.8zM389.3 57.2h3.6v3.3h-3.6zM399.1 57.2h6.8v3.3h-6.8zM409.0 57.2h3.6v3.3h-3.6z"/>
<path fill="#349aeb" d="M75.7 36.4h3.6v3.3h-3.6zM101.8 36.4h6.8v3.3h-6.8zM118.1 36.4h3.6v3.3h-3.6zM144.3 36.4h3.6v3.3h-3.6zM186.8 36.4h6.8v3.3h-6.8zM216.2 36.4h3.6v3.3h-3.6zM222.7 36.4h3.6v3.3h-3.6zM239.0 36.4h3.6v3.3h-3.6zM252.1 36.4h3.6v3.3h-3.6zM261.9 36.4h3.6v3.3h-3.6zM268.5 36.4h6.8v3.3h-6.8zM278.3 36.4h6.8v3.3h-6.8zM291.3 36.4h3.6v3.3h-3.6zM304.4 36.4h3.6v3.3h-3.6zM346.9 36.4h3.6v3.3h-3.6zM359.9 36.4h3.6v3.3h-3.6zM386.1 36.4h6.8v3.3h-6.8zM444.9 36.4h6.8v3.3h-6.8zM458.0 36.4h3.6v3.3h-3.6zM72.4 57.2h3.6v3.3h-3.6zM78.9 57.2h3.6v3.3h-3.6zM92.0 57.2h3.6v3.3h-3.6zM98.5 57.2h3.6v3.3h-3.6zM108.3 57.2h3.6v3.3h-3.6zM118.1 57.2h3.6v3.3h-3.6zM127.9 57.2h3.6v3.3h-3.6zM134.5 57.2h16.6v3.3h-16.6zM163.9 57.2h3.6v3.3h-3.6zM170.4 57.2h6.8v3.3h-6.8zM180.2 57.2h3.6v3.3h-3.6zM190.0 57.2h3.6v3.3h-3.6zM203.1 57.2h3.6v3.3h-3.6zM248.8 57.2h3.6v3.3h-3.6zM288.1 57.2h6.8v3.3h-6.8zM301.1 57.2h3.6v3.3h-3.6zM373.0 57.2h3.6v3.3h-3.6zM382.8 57.2h3.6v3.3h-3.6zM395.9 57.2h3.6v3.3h-3.6zM418.8 57.2h3.6v3.3h-3.6zM425.3 57.2h3.6v3.3h-3.6zM431.8 57.2h3.6v3.3h-3.6zM438.4 57.2h3.6v3.3h-3.6zM451.4 57.2h10.1v3.3h-10.1z"/>
<path fill="#2f95ea" d="M78.9 36.4h3.6v3.3h-3.6zM98.5 36.4h3.6v3.3h-3.6zM114.9 36.4h3.6v3.3h-3.6zM134.5 36.4h6.8v3.3h-6.8zM150.8 36.4h6.8v3.3h-6.8zM160.6 36.4h10.1v3.3h-10.1zM196.6 36.4h3.6v3.3h-3.6zM203.1 36.4h3.6v3.3h-3.6zM242.3 36.4h3.6v3.3h-3.6zM265.2 36.4h3.6v3.3h-3.6zM294.6 36.4h10.1v3.3h-10.1zM324.0 36.4h10.1v3.3h-10.1zM337.1 36.4h3.6v3.3h-3.6zM343.6 36.4h3.6v3.3h-3.6zM356.7 36.4h3.6v3.3h-3.6zM363.2 36.4h3.6v3.3h-3.6zM369.7 36.4h6.8v3.3h-6.8zM392.6 36.4h3.6v3.3h-3.6zM412.2 36.4h3.6v3.3h-3.6zM418.8 36.4h3.6v3.3h-3.6zM435.1 36.4h3.6v3.3h-3.6zM441.6 36.4h3.6v3.3h-3.6zM101.8 57.2h6.8v3.3h-6.8zM124.7 57.2h3.6v3.3h-3.6zM157.4 57.2h6.8v3.3h-6.8zM193.3 57.2h3.6v3.3h-3.6zM199.8 57.2h3.6v3.3h-3.6zM216.2 57.2h6.8v3.3h-6.8zM229.2 57.2h3.6v3.3h-3.6zM255.4 57.2h6.8v3.3h-6.8zM265.2 57.2h3.6v3.3h-3.6zM297.9 57.2h3.6v3.3h-3.6zM304.4 57.2h3.6v3.3h-3.6zM327.3 57.2h10.1v3.3h-10.1zM343.6 57.2h6.8v3.3h-6.8zM369.7 57.2h3.6v3.3h-3.6zM392.6 57.2h3.6v3.3h-3.6zM405.7 57.2h3.6v3.3h-3.6zM412.2 57.2h3.6v3.3h-3.6zM422.0 57.2h3.6v3.3h-3.6zM435.1 57.2h3.6v3.3h-3.6zM461.2 57.2h3.6v3.3h-3.6z"/>
<path fill="#3aa0eb" d="M82.2 36.4h10.1v3.3h-10.1zM127.9 36.4h3.6v3.3h-3.6zM170.4 36.4h6.8v3.3h-6.8zM183.5 36.4h3.6v3.3h-3.6zM193.3 36.4h3.6v3.3h-3.6zM212.9 36.4h3.6v3.3h-3.6zM226.0 36.4h6.8v3.3h-6.8zM284.8 36.4h3.6v3.3h-3.6zM314.2 36.4h3.6v3.3h-3.6zM320.7 36.4h3.6v3.3h-3.6zM350.1 36.4h6.8v3.3h-6.8zM366.5 36.4h3.6v3.3h-3.6zM376.3 36.4h6.8v3.3h-6.8zM395.9 36.4h3.6v3.3h-3.6zM405.7 36.4h3.6v3.3h-3.6zM425.3 36.4h3.6v3.3h-3.6zM451.4 36.4h3.6v3.3h-3.6zM75.7 57.2h3.6v3.3h-3.6zM85.5 57.2h6.8v3.3h-6.8zM121.4 57.2h3.6v3.3h-3.6zM131.2 57.2h3.6v3.3h-3.6zM232.5 57.2h10.1v3.3h-10.1zM268.5 57.2h10.1v3.3h-10.1zM281.5 57.2h3.6v3.3h-3.6zM294.6 57.2h3.6v3.3h-3.6zM353.4 57.2h3.6v3.3h-3.6zM444.9 57.2h6.8v3.3h-6.8z"/>
<path fill="#3fa5ec" d="M92.0 36.4h3.6v3.3h-3.6zM124.7 36.4h3.6v3.3h-3.6zM131.2 36.4h3.6v3.3h-3.6zM177.0 36.4h3.6v3.3h-3.6zM199.8 36.4h3.6v3.3h-3.6zM232.5 36.4h6.8v3.3h-6.8zM248.8 36.4h3.6v3.3h-3.6zM275.0 36.4h3.6v3.3h-3.6zM288.1 36.4h3.6v3.3h-3.6zM307.7 36.4h3.6v3.3h-3.6zM340.3 36.4h3.6v3.3h-3.6zM382.8 36.4h3.6v3.3h-3.6zM409.0 36.4h3.6v3.3h-3.6zM415.5 36.4h3.6v3.3h-3.6zM422.0 36.4h3.6v3.3h-3.6zM431.8 36.4h3.6v3.3h-3.6zM454.7 36.4h3.6v3.3h-3.6zM150.8 57.2h3.6v3.3h-3.6zM167.2 57.2h3.6v3.3h-3.6zM183.5 57.2h6.8v3.3h-6.8zM212.9 57.2h3.6v3.3h-3.6zM226.0 57.2h3.6v3.3h-3.6zM242.3 57.2h6.8v3.3h-6.8zM278.3 57.2h3.6v3.3h-3.6zM307.7 57.2h6.8v3.3h-6.8zM320.7 57.2h6.8v3.3h-6.8zM356.7 57.2h3.6v3.3h-3.6zM415.5 57.2h3.6v3.3h-3.6zM428.6 57.2h3.6v3.3h-3.6z"/>
<path fill="#0f6ede" d="M72.4 39.3h6.8v3.3h-6.8zM85.5 39.3h3.6v3.3h-3.6zM134.5 39.3h6.8v3.3h-6.8zM144.3 39.3h13.4v3.3h-13.4zM163.9 39.3h3.6v3.3h-3.6zM173.7 39.3h3.6v3.3h-3.6zM183.5 39.3h3.6v3.3h-3.6zM199.8 39.3h3.6v3.3h-3.6zM226.0 39.3h3.6v3.3h-3.6zM245.6 39.3h3.6v3.3h-3.6zM261.9 39.3h3.6v3.3h-3.6zM278.3 39.3h3.6v3.3h-3.6zM314.2 39.3h3.6v3.3h-3.6zM330.5 39.3h6.8v3.3h-6.8zM353.4 39.3h3.6v3.3h-3.6zM359.9 39.3h3.6v3.3h-3.6zM382.8 39.3h3.6v3.3h-3.6zM405.7 39.3h3.6v3.3h-3.6zM412.2 39.3h6.8v3.3h-6.8zM422.0 39.3h3.6v3.3h-3.6zM438.4 39.3h3.6v3.3h-3.6zM444.9 39.3h6.8v3.3h-6.8zM454.7 39.3h3.6v3.3h-3.6zM461.2 39.3h3.6v3.3h-3.6zM85.5 54.2h3.6v3.3h-3.6zM105.1 54.2h3.6v3.3h-3.6zM111.6 54.2h3.6v3.3h-3.6zM118.1 54.2h3.6v3.3h-3.6zM144.3 54.2h3.6v3.3h-3.6zM163.9 54.2h3.6v3.3h-3.6zM173.7 54.2h3.6v3.3h-3.6zM199.8 54.2h3.6v3.3h-3.6zM219.4 54.2h3.6v3.3h-3.6zM232.5 54.2h3.6v3.3h-3.6zM258.6 54.2h3.6v3.3h-3.6zM307.7 54.2h3.6v3.3h-3.6zM320.7 54.2h3.6v3.3h-3.6zM340.3 54.2h3.6v3.3h-3.6zM369.7 54.2h6.8v3.3h-6.8zM382.8 54.2h3.6v3.3h-3.6zM399.1 54.2h3.6v3.3h-3.6zM412.2 54.2h3.6v3.3h-3.6zM435.1 54.2h3.6v3.3h-3.6zM441.6 54.2h3.6v3.3h-3.6z"/>
<path fill="#1677e1" d="M78.9 39.3h3.6v3.3h-3.6zM88.7 39.3h3.6v3.3h-3.6zM98.5 39.3h3.6v3.3h-3.6zM105.1 39.3h6.8v3.3h-6.8zM124.7 39.3h3.6v3.3h-3.6zM141.0 39.3h3.6v3.3h-3.6zM180.2 39.3h3.6v3.3h-3.6zM186.8 39.3h6.8v3.3h-6.8zM196.6 39.3h3.6v3.3h-3.6zM203.1 39.3h3.6v3.3h-3.6zM216.2 39.3h6.8v3.3h-6.8zM229.2 39.3h3.6v3.3h-3.6zM284.8 39.3h3.6v3.3h-3.6zM324.0 39.3h3.6v3.3h-3.6zM340.3 39.3h6.8v3.3h-6.8zM389.3 39.3h3.6v3.3h-3.6zM441.6 39.3h3.6v3.3h-3.6zM108.3 54.2h3.6v3.3h-3.6zM114.9 54.2h3.6v3.3h-3.6zM121.4 54.2h3.6v3.3h-3.6zM150.8 54.2h6.8v3.3h-6.8zM183.5 54.2h6.8v3.3h-6.8zM203.1 54.2h3.6v3.3h-3.6zM212.9 54.2h3.6v3.3h-3.6zM226.0 54.2h3.6v3.3h-3.6zM242.3 54.2h6.8v3.3h-6.8zM252.1 54.2h3.6v3.3h-3.6zM265.2 54.2h6.8v3.3h-6.8zM275.0 54.2h3.6v3.3h-3.6zM294.6 54.2h3.6v3.3h-3.6zM317.5 54.2h3.6v3.3h-3.6zM337.1 54.2h3.6v3.3h-3.6zM350.1 54.2h3.6v3.3h-3.6zM363.2 54.2h6.8v3.3h-6.8zM405.7 54.2h3.6v3.3h-3.6zM415.5 54.2h3.6v3.3h-3.6zM428.6 54.2h3.6v3.3h-3.6zM458.0 54.2h3.6v3.3h-3.6z"/>
<path fill="#1372e0" d="M82.2 39.3h3.6v3.3h-3.6zM101.8 39.3h3.6v3.3h-3.6zM114.9 39.3h10.1v3.3h-10.1zM131.2 39.3h3.6v3.3h-3.6zM157.4 39.3h6.8v3.3h-6.8zM167.2 39.3h6.8v3.3h-6.8zM235.8 39.3h3.6v3.3h-3.6zM248.8 39.3h3.6v3.3h-3.6zM265.2 39.3h10.1v3.3h-10.1zM294.6 39.3h3.6v3.3h-3.6zM310.9 39.3h3.6v3.3h-3.6zM320.7 39.3h3.6v3.3h-3.6zM337.1 39.3h3.6v3.3h-3.6zM366.5 39.3h6.8v3.3h-6.8zM386.1 39.3h3.6v3.3h-3.6zM402.4 39.3h3.6v3.3h-3.6zM78.9 54.2h3.6v3.3h-3.6zM88.7 54.2h3.6v3.3h-3.6zM131.2 54.2h3.6v3.3h-3.6zM141.0 54.2h3.6v3.3h-3.6zM167.2 54.2h6.8v3.3h-6.8zM180.2 54.2h3.6v3.3h-3.6zM206.4 54.2h3.6v3.3h-3.6zM216.2 54.2h3.6v3.3h-3.6zM229.2 54.2h3.6v3.3h-3.6zM235.8 54.2h6.8v3.3h-6.8zM261.9 54.2h3.6v3.3h-3.6zM301.1 54.2h3.6v3.3h-3.6zM310.9 54.2h3.6v3.3h-3.6zM353.4 54.2h3.6v3.3h-3.6zM376.3 54.2h3.6v3.3h-3.6zM395.9 54.2h3.6v3.3h-3.6zM409.0 54.2h3.6v3.3h-3.6zM418.8 54.2h10.1v3.3h-10.1zM451.4 54.2h3.6v3.3h-3.6z"/>
<path fill="#197ce3" d="M92.0 39.3h6.8v3.3h-6.8zM111.6 39.3h3.6v3.3h-3.6zM177.0 39.3h3.6v3.3h-3.6zM193.3 39.3h3.6v3.3h-3.6zM206.4 39.3h6.8v3.3h-6.8zM232.5 39.3h3.6v3.3h-3.6zM252.1 39.3h3.6v3.3h-3.6zM258.6 39.3h3.6v3.3h-3.6zM291.3 39.3h3.6v3.3h-3.6zM301.1 39.3h6.8v3.3h-6.8zM356.7 39.3h3.6v3.3h-3.6zM373.0 39.3h6.8v3.3h-6.8zM399.1 39.3h3.6v3.3h-3.6zM425.3 39.3h3.6v3.3h-3.6zM451.4 39.3h3.6v3.3h-3.6zM75.7 54.2h3.6v3.3h-3.6zM98.5 54.2h3.6v3.3h-3.6zM124.7 54.2h6.8v3.3h-6.8zM147.6 54.2h3.6v3.3h-3.6zM196.6 54.2h3.6v3.3h-3.6zM209.6 54.2h3.6v3.3h-3.6zM222.7 54.2h3.6v3.3h-3.6zM255.4 54.2h3.6v3.3h-3.6zM281.5 54.2h10.1v3.3h-10.1zM324.0 54.2h13.4v3.3h-13.4zM346.9 54.2h3.6v3.3h-3.6zM356.7 54.2h3.6v3.3h-3.6zM379.5 54.2h3.6v3.3h-3.6zM389.3 54.2h6.8v3.3h-6.8zM402.4 54.2h3.6v3.3h-3.6zM431.8 54.2h3.6v3.3h-3.6zM438.4 54.2h3.6v3.3h-3.6zM444.9 54.2h6.8v3.3h-6.8zM461.2 54.2h3.6v3.3h-3.6z"/>
<path fill="#1d80e5" d="M127.9 39.3h3.6v3.3h-3.6zM212.9 39.3h3.6v3.3h-3.6zM222.7 39.3h3.6v3.3h-3.6zM239.0 39.3h6.8v3.3h-6.8zM255.4 39.3h3.6v3.3h-3.6zM275.0 39.3h3.6v3.3h-3.6zM281.5 39.3h3.6v3.3h-3.6zM288.1 39.3h3.6v3.3h-3.6zM297.9 39.3h3.6v3.3h-3.6zM307.7 39.3h3.6v3.3h-3.6zM317.5 39.3h3.6v3.3h-3.6zM327.3 39.3h3.6v3.3h-3.6zM346.9 39.3h6.8v3.3h-6.8zM363.2 39.3h3.6v3.3h-3.6zM379.5 39.3h3.6v3.3h-3.6zM392.6 39.3h6.8v3.3h-6.8zM409.0 39.3h3.6v3.3h-3.6zM418.8 39.3h3.6v3.3h-3.6zM428.6 39.3h10.1v3.3h-10.1zM458.0 39.3h3.6v3.3h-3.6zM72.4 54.2h3.6v3.3h-3.6zM82.2 54.2h3.6v3.3h-3.6zM95.3 54.2h3.6v3.3h-3.6zM101.8 54.2h3.6v3.3h-3.6zM134.5 54.2h6.8v3.3h-6.8zM160.6 54.2h3.6v3.3h-3.6zM177.0 54.2h3.6v3.3h-3.6zM190.0 54.2h6.8v3.3h-6.8zM271.7 54.2h3.6v3.3h-3.6zM278.3 54.2h3.6v3.3h-3.6zM291.3 54.2h3.6v3.3h-3.6zM297.9 54.2h3.6v3.3h-3.6zM343.6 54.2h3.6v3.3h-3.6zM359.9 54.2h3.6v3.3h-3.6zM454.7 54.2h3.6v3.3h-3.6z"/>
<path fill="#0e66da" d="M72.4 42.3h3.6v3.3h-3.6zM108.3 42.3h3.6v3.3h-3.6zM134.5 42.3h3.6v3.3h-3.6zM141.0 42.3h3.6v3.3h-3.6zM157.4 42.3h3.6v3.3h-3.6zM167.2 42.3h3.6v3.3h-3.6zM183.5 42.3h3.6v3.3h-3.6zM190.0 42.3h3.6v3.3h-3.6zM203.1 42.3h6.8v3.3h-6.8zM216.2 42.3h6.8v3.3h-6.8zM232.5 42.3h3.6v3.3h-3.6zM242.3 42.3h3.6v3.3h-3.6zM252.1 42.3h3.6v3.3h-3.6zM265.2 42.3h6.8v3.3h-6.8zM310.9 42.3h6.8v3.3h-6.8zM373.0 42.3h3.6v3.3h-3.6zM392.6 42.3h3.6v3.3h-3.6zM399.1 42.3h3.6v3.3h-3.6zM425.3 42.3h3.6v3.3h-3.6zM431.8 42.3h3.6v3.3h-3.6zM461.2 42.3h3.6v3.3h-3.6zM82.2 51.2h3.6v3.3h-3.6zM114.9 51.2h3.6v3.3h-3.6zM167.2 51.2h3.6v3.3h-3.6zM173.7 51.2h3.6v3.3h-3.6zM206.4 51.2h3.6v3.3h-3.6zM229.2 51.2h3.6v3.3h-3.6zM261.9 51.2h3.6v3.3h-3.6zM271.7 51.2h3.6v3.3h-3.6zM291.3 51.2h3.6v3.3h-3.6zM317.5 51.2h3.6v3.3h-3.6zM330.5 51.2h3.6v3.3h-3.6zM337.1 51.2h3.6v3.3h-3.6zM353.4 51.2h3.6v3.3h-3.6zM373.0 51.2h3.6v3.3h-3.6zM392.6 51.2h3.6v3.3h-3.6z"/>
<path fill="#0c5ed5" d="M75.7 42.3h3.6v3.3h-3.6zM88.7 42.3h3.6v3.3h-3.6zM144.3 42.3h3.6v3.3h-3.6zM170.4 42.3h3.6v3.3h-3.6zM177.0 42.3h6.8v3.3h-6.8zM199.8 42.3h3.6v3.3h-3.6zM209.6 42.3h3.6v3.3h-3.6zM261.9 42.3h3.6v3.3h-3.6zM284.8 42.3h3.6v3.3h-3.6zM291.3 42.3h10.1v3.3h-10.1zM307.7 42.3h3.6v3.3h-3.6zM324.0 42.3h6.8v3.3h-6.8zM363.2 42.3h3.6v3.3h-3.6zM409.0 42.3h3.6v3.3h-3.6zM444.9 42.3h3.6v3.3h-3.6zM72.4 51.2h6.8v3.3h-6.8zM88.7 51.2h3.6v3.3h-3.6zM101.8 51.2h3.6v3.3h-3.6zM111.6 51.2h3.6v3.3h-3.6zM124.7 51.2h3.6v3.3h-3.6zM141.0 51.2h3.6v3.3h-3.6zM147.6 51.2h3.6v3.3h-3.6zM154.1 51.2h6.8v3.3h-6.8zM163.9 51.2h3.6v3.3h-3.6zM177.0 51.2h3.6v3.3h-3.6zM186.8 51.2h3.6v3.3h-3.6zM196.6 51.2h3.6v3.3h-3.6zM203.1 51.2h3.6v3.3h-3.6zM212.9 51.2h3.6v3.3h-3.6zM222.7 51.2h3.6v3.3h-3.6zM232.5 51.2h6.8v3.3h-6.8zM242.3 51.2h3.6v3.3h-3.6zM255.4 51.2h3.6v3.3h-3.6zM275.0 51.2h3.6v3.3h-3.6zM297.9 51.2h3.6v3.3h-3.6zM343.6 51.2h3.6v3.3h-3.6zM350.1 51.2h3.6v3.3h-3.6zM366.5 51.2h6.8v3.3h-6.8zM382.8 51.2h3.6v3.3h-3.6zM389.3 51.2h3.6v3.3h-3.6zM425.3 51.2h3.6v3.3h-3.6zM454.7 51.2h3.6v3.3h-3.6z"/>
<path fill="#0b5bd3" d="M78.9 42.3h3.6v3.3h-3.6zM92.0 42.3h3.6v3.3h-3.6zM98.5 42.3h3.6v3.3h-3.6zM114.9 42.3h6.8v3.3h-6.8zM124.7 42.3h10.1v3.3h-10.1zM137.8 42.3h3.6v3.3h-3.6zM147.6 42.3h3.6v3.3h-3.6zM163.9 42.3h3.6v3.3h-3.6zM196.6 42.3h3.6v3.3h-3.6zM229.2 42.3h3.6v3.3h-3.6zM248.8 42.3h3.6v3.3h-3.6zM255.4 42.3h6.8v3.3h-6.8zM288.1 42.3h3.6v3.3h-3.6zM343.6 42.3h3.6v3.3h-3.6zM350.1 42.3h10.1v3.3h-10.1zM376.3 42.3h3.6v3.3h-3.6zM438.4 42.3h3.6v3.3h-3.6zM451.4 42.3h3.6v3.3h-3.6zM92.0 45.3h3.6v3.3h-3.6zM147.6 45.3h3.6v3.3h-3.6zM170.4 45.3h3.6v3.3h-3.6zM252.1 45.3h6.8v3.3h-6.8zM261.9 45.3h3.6v3.3h-3.6zM268.5 45.3h3.6v3.3h-3.6zM337.1 45.3h3.6v3.3h-3.6zM415.5 45.3h3.6v3.3h-3.6zM72.4 48.2h3.6v3.3h-3.6zM111.6 48.2h3.6v3.3h-3.6zM167.2 48.2h3.6v3.3h-3.6zM212.9 48.2h3.6v3.3h-3.6zM346.9 48.2h3.6v3.3h-3.6zM389.3 48.2h6.8v3.3h-6.8zM405.7 48.2h3.6v3.3h-3.6zM418.8 48.2h3.6v3.3h-3.6zM95.3 51.2h3.6v3.3h-3.6zM108.3 51.2h3.6v3.3h-3.6zM190.0 51.2h3.6v3.3h-3.6zM199.8 51.2h3.6v3.3h-3.6zM239.0 51.2h3.6v3.3h-3.6zM245.6 51.2h3.6v3.3h-3.6zM268.5 51.2h3.6v3.3h-3.6zM278.3 51.2h3.6v3.3h-3.6zM301.1 51.2h13.4v3.3h-13.4zM324.0 51.2h3.6v3.3h-3.6zM333.8 51.2h3.6v3.3h-3.6zM346.9 51.2h3.6v3.3h-3.6zM376.3 51.2h6.8v3.3h-6.8zM395.9 51.2h3.6v3.3h-3.6zM402.4 51.2h3.6v3.3h-3.6zM415.5 51.2h3.6v3.3h-3.6zM422.0 51.2h3.6v3.3h-3.6zM444.9 51.2h6.8v3.3h-6.8zM458.0 51.2h6.8v3.3h-6.8z"/>
<path fill="#0a57d1" d="M82.2 42.3h6.8v3.3h-6.8zM95.3 42.3h3.6v3.3h-3.6zM105.1 42.3h3.6v3.3h-3.6zM121.4 42.3h3.6v3.3h-3.6zM150.8 42.3h3.6v3.3h-3.6zM160.6 42.3h3.6v3.3h-3.6zM173.7 42.3h3.6v3.3h-3.6zM193.3 42.3h3.6v3.3h-3.6zM212.9 42.3h3.6v3.3h-3.6zM222.7 42.3h6.8v3.3h-6.8zM239.0 42.3h3.6v3.3h-3.6zM278.3 42.3h3.6v3.3h-3.6zM304.4 42.3h3.6v3.3h-3.6zM317.5 42.3h3.6v3.3h-3.6zM330.5 42.3h3.6v3.3h-3.6zM337.1 42.3h3.6v3.3h-3.6zM346.9 42.3h3.6v3.3h-3.6zM359.9 42.3h3.6v3.3h-3.6zM369.7 42.3h3.6v3.3h-3.6zM382.8 42.3h3.6v3.3h-3.6zM389.3 42.3h3.6v3.3h-3.6zM395.9 42.3h3.6v3.3h-3.6zM418.8 42.3h3.6v3.3h-3.6zM428.6 42.3h3.6v3.3h-3.6zM441.6 42.3h3.6v3.3h-3.6zM448.2 42.3h3.6v3.3h-3.6zM72.4 45.3h10.1v3.3h-10.1zM85.5 45.3h3.6v3.3h-3.6zM98.5 45.3h3.6v3.3h-3.6zM111.6 45.3h10.1v3.3h-10.1zM124.7 45.3h3.6v3.3h-3.6zM141.0 45.3h3.6v3.3h-3.6zM150.8 45.3h3.6v3.3h-3.6zM173.7 45.3h3.6v3.3h-3.6zM183.5 45.3h6.8v3.3h-6.8zM196.6 45.3h3.6v3.3h-3.6zM216.2 45.3h3.6v3.3h-3.6zM222.7 45.3h3.6v3.3h-3.6zM239.0 45.3h3.6v3.3h-3.6zM248.8 45.3h3.6v3.3h-3.6zM258.6 45.3h3.6v3.3h-3.6zM275.0 45.3h3.6v3.3h-3.6zM281.5 45.3h3.6v3.3h-3.6zM288.1 45.3h3.6v3.3h-3.6zM307.7 45.3h6.8v3.3h-6.8zM327.3 45.3h3.6v3.3h-3.6zM343.6 45.3h3.6v3.3h-3.6zM359.9 45.3h3.6v3.3h-3.6zM369.7 45.3h3.6v3.3h-3.6zM386.1 45.3h6.8v3.3h-6.8zM412.2 45.3h3.6v3.3h-3.6zM431.8 45.3h3.6v3.3h-3.6zM444.9 45.3h3.6v3.3h-3.6zM451.4 45.3h3.6v3.3h-3.6zM461.2 45.3h3.6v3.3h-3.6zM82.2 48.2h6.8v3.3h-6.8zM131.2 48.2h3.6v3.3h-3.6zM150.8 48.2h3.6v3.3h-3.6zM157.4 48.2h3.6v3.3h-3.6zM186.8 48.2h3.6v3.3h-3.6zM206.4 48.2h3.6v3.3h-3.6zM216.2 48.2h3.6v3.3h-3.6zM245.6 48.2h3.6v3.3h-3.6zM258.6 48.2h3.6v3.3h-3.6zM288.1 48.2h3.6v3.3h-3.6zM294.6 48.2h3.6v3.3h-3.6zM310.9 48.2h3.6v3.3h-3.6zM327.3 48.2h3.6v3.3h-3.6zM337.1 48.2h3.6v3.3h-3.6zM350.1 48.2h3.6v3.3h-3.6zM359.9 48.2h3.6v3.3h-3.6zM373.0 48.2h6.8v3.3h-6.8zM409.0 48.2h3.6v3.3h-3.6zM415.5 48.2h3.6v3.3h-3.6zM422.0 48.2h3.6v3.3h-3.6zM441.6 48.2h3.6v3.3h-3.6zM78.9 51.2h3.6v3.3h-3.6zM85.5 51.2h3.6v3.3h-3.6zM98.5 51.2h3.6v3.3h-3.6zM121.4 51.2h3.6v3.3h-3.6zM127.9 51.2h10.1v3.3h-10.1zM144.3 51.2h3.6v3.3h-3.6zM150.8 51.2h3.6v3.3h-3.6zM183.5 51.2h3.6v3.3h-3.6zM193.3 51.2h3.6v3.3h-3.6zM209.6 51.2h3.6v3.3h-3.6zM216.2 51.2h3.6v3.3h-3.6zM226.0 51.2h3.6v3.3h-3.6zM265.2 51.2h3.6v3.3h-3.6zM284.8 51.2h6.8v3.3h-6.8zM356.7 51.2h10.1v3.3h-10.1zM399.1 51.2h3.6v3.3h-3.6zM412.2 51.2h3.6v3.3h-3.6zM428.6 51.2h16.6v3.3h-16.6z"/>
<path fill="#0d62d7" d="M101.8 42.3h3.6v3.3h-3.6zM111.6 42.3h3.6v3.3h-3.6zM154.1 42.3h3.6v3.3h-3.6zM186.8 42.3h3.6v3.3h-3.6zM235.8 42.3h3.6v3.3h-3.6zM245.6 42.3h3.6v3.3h-3.6zM271.7 42.3h6.8v3.3h-6.8zM281.5 42.3h3.6v3.3h-3.6zM301.1 42.3h3.6v3.3h-3.6zM320.7 42.3h3.6v3.3h-3.6zM333.8 42.3h3.6v3.3h-3.6zM340.3 42.3h3.6v3.3h-3.6zM366.5 42.3h3.6v3.3h-3.6zM379.5 42.3h3.6v3.3h-3.6zM386.1 42.3h3.6v3.3h-3.6zM402.4 42.3h6.8v3.3h-6.8zM412.2 42.3h6.8v3.3h-6.8zM422.0 42.3h3.6v3.3h-3.6zM435.1 42.3h3.6v3.3h-3.6zM454.7 42.3h6.8v3.3h-6.8zM118.1 51.2h3.6v3.3h-3.6zM137.8 51.2h3.6v3.3h-3.6zM160.6 51.2h3.6v3.3h-3.6zM170.4 51.2h3.6v3.3h-3.6zM180.2 51.2h3.6v3.3h-3.6zM219.4 51.2h3.6v3.3h-3.6zM248.8 51.2h6.8v3.3h-6.8zM258.6 51.2h3.6v3.3h-3.6zM281.5 51.2h3.6v3.3h-3.6zM294.6 51.2h3.6v3.3h-3.6zM314.2 51.2h3.6v3.3h-3.6zM320.7 51.2h3.6v3.3h-3.6zM327.3 51.2h3.6v3.3h-3.6zM340.3 51.2h3.6v3.3h-3.6zM386.1 51.2h3.6v3.3h-3.6zM405.7 51.2h6.8v3.3h-6.8zM451.4 51.2h3.6v3.3h-3.6z"/>
<path fill="#0a52cb" d="M82.2 45.3h3.6v3.3h-3.6zM101.8 45.3h6.8v3.3h-6.8zM177.0 45.3h6.8v3.3h-6.8zM193.3 45.3h3.6v3.3h-3.6zM203.1 45.3h3.6v3.3h-3.6zM219.4 45.3h3.6v3.3h-3.6zM242.3 45.3h6.8v3.3h-6.8zM265.2 45.3h3.6v3.3h-3.6zM271.7 45.3h3.6v3.3h-3.6zM317.5 45.3h10.1v3.3h-10.1zM330.5 45.3h6.8v3.3h-6.8zM356.7 45.3h3.6v3.3h-3.6zM366.5 45.3h3.6v3.3h-3.6zM399.1 45.3h10.1v3.3h-10.1zM428.6 45.3h3.6v3.3h-3.6zM435.1 45.3h3.6v3.3h-3.6zM75.7 48.2h3.6v3.3h-3.6zM92.0 48.2h3.6v3.3h-3.6zM101.8 48.2h3.6v3.3h-3.6zM121.4 48.2h3.6v3.3h-3.6zM127.9 48.2h3.6v3.3h-3.6zM137.8 48.2h3.6v3.3h-3.6zM154.1 48.2h3.6v3.3h-3.6zM160.6 48.2h3.6v3.3h-3.6zM173.7 48.2h3.6v3.3h-3.6zM190.0 48.2h3.6v3.3h-3.6zM196.6 48.2h3.6v3.3h-3.6zM203.1 48.2h3.6v3.3h-3.6zM229.2 48.2h3.6v3.3h-3.6zM239.0 48.2h3.6v3.3h-3.6zM252.1 48.2h3.6v3.3h-3.6zM265.2 48.2h6.8v3.3h-6.8zM275.0 48.2h3.6v3.3h-3.6zM291.3 48.2h3.6v3.3h-3.6zM301.1 48.2h3.6v3.3h-3.6zM307.7 48.2h3.6v3.3h-3.6zM317.5 48.2h3.6v3.3h-3.6zM343.6 48.2h3.6v3.3h-3.6zM353.4 48.2h6.8v3.3h-6.8zM363.2 48.2h6.8v3.3h-6.8zM379.5 48.2h6.8v3.3h-6.8zM399.1 48.2h6.8v3.3h-6.8zM461.2 48.2h3.6v3.3h-3.6zM92.0 51.2h3.6v3.3h-3.6zM105.1 51.2h3.6v3.3h-3.6zM418.8 51.2h3.6v3.3h-3.6z"/>
<path fill="#094dc4" d="M88.7 45.3h3.6v3.3h-3.6zM131.2 45.3h10.1v3.3h-10.1zM160.6 45.3h6.8v3.3h-6.8zM199.8 45.3h3.6v3.3h-3.6zM206.4 45.3h3.6v3.3h-3.6zM212.9 45.3h3.6v3.3h-3.6zM226.0 45.3h6.8v3.3h-6.8zM235.8 45.3h3.6v3.3h-3.6zM278.3 45.3h3.6v3.3h-3.6zM284.8 45.3h3.6v3.3h-3.6zM291.3 45.3h3.6v3.3h-3.6zM297.9 45.3h6.8v3.3h-6.8zM314.2 45.3h3.6v3.3h-3.6zM346.9 45.3h3.6v3.3h-3.6zM363.2 45.3h3.6v3.3h-3.6zM373.0 45.3h3.6v3.3h-3.6zM379.5 45.3h6.8v3.3h-6.8zM409.0 45.3h3.6v3.3h-3.6zM422.0 45.3h6.8v3.3h-6.8zM438.4 45.3h3.6v3.3h-3.6zM88.7 48.2h3.6v3.3h-3.6zM95.3 48.2h3.6v3.3h-3.6zM114.9 48.2h3.6v3.3h-3.6zM134.5 48.2h3.6v3.3h-3.6zM147.6 48.2h3.6v3.3h-3.6zM177.0 48.2h3.6v3.3h-3.6zM209.6 48.2h3.6v3.3h-3.6zM219.4 48.2h3.6v3.3h-3.6zM235.8 48.2h3.6v3.3h-3.6zM242.3 48.2h3.6v3.3h-3.6zM278.3 48.2h10.1v3.3h-10.1zM304.4 48.2h3.6v3.3h-3.6zM386.1 48.2h3.6v3.3h-3.6zM425.3 48.2h3.6v3.3h-3.6zM431.8 48.2h3.6v3.3h-3.6zM438.4 48.2h3.6v3.3h-3.6zM451.4 48.2h6.8v3.3h-6.8z"/>
<path fill="#0847be" d="M95.3 45.3h3.6v3.3h-3.6zM108.3 45.3h3.6v3.3h-3.6zM121.4 45.3h3.6v3.3h-3.6zM127.9 45.3h3.6v3.3h-3.6zM144.3 45.3h3.6v3.3h-3.6zM209.6 45.3h3.6v3.3h-3.6zM294.6 45.3h3.6v3.3h-3.6zM350.1 45.3h6.8v3.3h-6.8zM376.3 45.3h3.6v3.3h-3.6zM395.9 45.3h3.6v3.3h-3.6zM441.6 45.3h3.6v3.3h-3.6zM454.7 45.3h6.8v3.3h-6.8zM105.1 48.2h3.6v3.3h-3.6zM118.1 48.2h3.6v3.3h-3.6zM124.7 48.2h3.6v3.3h-3.6zM141.0 48.2h6.8v3.3h-6.8zM163.9 48.2h3.6v3.3h-3.6zM170.4 48.2h3.6v3.3h-3.6zM183.5 48.2h3.6v3.3h-3.6zM193.3 48.2h3.6v3.3h-3.6zM199.8 48.2h3.6v3.3h-3.6zM222.7 48.2h6.8v3.3h-6.8zM255.4 48.2h3.6v3.3h-3.6zM261.9 48.2h3.6v3.3h-3.6zM297.9 48.2h3.6v3.3h-3.6zM324.0 48.2h3.6v3.3h-3.6zM330.5 48.2h3.6v3.3h-3.6zM340.3 48.2h3.6v3.3h-3.6zM369.7 48.2h3.6v3.3h-3.6zM395.9 48.2h3.6v3.3h-3.6zM412.2 48.2h3.6v3.3h-3.6zM428.6 48.2h3.6v3.3h-3.6zM458.0 48.2h3.6v3.3h-3.6z"/>
<path fill="#0842b8" d="M154.1 45.3h6.8v3.3h-6.8zM167.2 45.3h3.6v3.3h-3.6zM190.0 45.3h3.6v3.3h-3.6zM232.5 45.3h3.6v3.3h-3.6zM304.4 45.3h3.6v3.3h-3.6zM340.3 45.3h3.6v3.3h-3.6zM392.6 45.3h3.6v3.3h-3.6zM418.8 45.3h3.6v3.3h-3.6zM448.2 45.3h3.6v3.3h-3.6zM78.9 48.2h3.6v3.3h-3.6zM98.5 48.2h3.6v3.3h-3.6zM108.3 48.2h3.6v3.3h-3.6zM180.2 48.2h3.6v3.3h-3.6zM232.5 48.2h3.6v3.3h-3.6zM248.8 48.2h3.6v3.3h-3.6zM271.7 48.2h3.6v3.3h-3.6zM314.2 48.2h3.6v3.3h-3.6zM320.7 48.2h3.6v3.3h-3.6zM333.8 48.2h3.6v3.3h-3.6zM435.1 48.2h3.6v3.3h-3.6zM444.9 48.2h6.8v3.3h-6.8z"/>
<path fill="#0e6adc" d="M92.0 54.2h3.6v3.3h-3.6zM157.4 54.2h3.6v3.3h-3.6zM248.8 54.2h3.6v3.3h-3.6zM304.4 54.2h3.6v3.3h-3.6zM314.2 54.2h3.6v3.3h-3.6zM386.1 54.2h3.6v3.3h-3.6z"/>
<path fill="#248ae8" d="M206.4 57.2h3.6v3.3h-3.6zM284.8 57.2h3.6v3.3h-3.6zM314.2 57.2h3.6v3.3h-3.6zM337.1 57.2h3.6v3.3h-3.6zM386.1 57.2h3.6v3.3h-3.6zM441.6 57.2h3.6v3.3h-3.6z"/></g>
<polyline points="72.5,42.3 76.0,43.0 80.0,41.1 84.0,46.2 87.9,54.2 92.6,47.0 96.6,57.4 100.6,36.7 104.6,45.4 108.5,56.6 114.0,50.2 120.5,47.8 128.4,43.5 133.2,49.4 138.0,46.7 147.5,45.9 150.6,46.2 153.9,34.6 158.6,35.9 161.8,34.6 165.8,50.2 169.7,34.6 177.7,34.6 184.0,41.9 190.4,35.9 195.0,39.5 199.0,46.0 203.0,47.6 207.2,41.1 211.3,43.6 219.4,44.4 224.3,53.3 230.8,63.9 235.7,56.6 239.7,44.4 243.8,49.0 251.1,49.0 256.0,50.9 260.0,41.1 264.9,55.0 268.2,53.3 271.4,57.4 276.3,50.1 280.4,52.5 284.4,50.1 288.5,58.2 292.6,51.7 297.4,47.6 301.5,46.8 305.6,51.7 308.8,41.1 312.9,38.7 317.0,65.5 321.0,54.1 325.0,53.3 328.0,58.0 333.0,48.7 337.3,41.9 341.5,56.3 345.7,64.7 353.3,45.3 357.5,52.9 362.6,57.9 370.2,52.9 377.7,61.3 382.0,52.9 390.4,55.4 394.6,41.6 400.5,43.6 407.3,36.0 412.3,39.4 415.7,39.9 420.7,43.6 427.5,52.0 431.7,52.9 436.0,40.2 439.3,34.3 443.5,41.1 447.7,38.5 456.2,38.5 462.9,39.4" fill="none" stroke="#86ee6c" stroke-width="2.2" stroke-linejoin="round"/>
<polyline points="72.5,59.0 76.0,51.8 80.7,47.8 84.0,47.3 87.9,53.4 92.6,46.2 96.6,57.4 100.6,47.8 107.7,45.4 112.5,50.2 116.5,53.4 121.3,53.0 125.2,39.0 129.2,49.4 136.4,48.6 141.1,54.2 145.9,48.6 149.9,54.2 153.9,44.6 161.8,56.2 166.6,53.4 172.9,43.8 177.7,34.6 182.5,41.5 186.4,61.7 193.6,47.0 195.0,47.6 198.3,60.7 202.3,64.7 207.2,62.3 211.3,53.3 215.3,66.3 219.4,59.8 224.3,53.3 229.1,55.8 234.8,64.7 239.7,44.4 243.8,55.0 251.9,48.5 256.0,32.2 260.0,45.7 264.1,46.0 268.2,60.7 273.0,48.5 276.3,41.1 280.4,41.1 284.4,46.8 288.5,33.0 292.6,34.6 296.6,44.4 300.7,42.8 305.6,51.7 312.1,54.1 317.0,52.5 321.0,52.5 325.0,57.4 328.0,58.8 333.9,60.5 339.8,58.0 345.7,44.5 353.3,55.4 361.7,47.0 366.0,54.6 370.2,40.2 374.4,52.0 378.6,51.2 386.2,38.5 391.2,38.5 394.6,61.3 398.8,61.3 403.0,42.8 407.3,41.1 414.8,54.6 423.3,38.2 429.2,47.0 435.1,55.4 439.3,39.4 444.4,50.4 452.8,51.2 459.5,57.1 463.8,53.4" fill="none" stroke="#f4f41c" stroke-width="2.2" stroke-linejoin="round"/>
<rect x="72.4" y="24.0" width="392.1" height="48.5" fill="none" stroke="#8c8c8c" stroke-width="1.1"/>
<text x="71.8" y="19.6" font-family='"DejaVu Sans", "Liberation Sans", sans-serif' font-size="9" text-anchor="middle">0</text>
<line x1="71.8" y1="21.5" x2="71.8" y2="24" stroke="#555" stroke-width="0.8"/>
<text x="169.9" y="19.6" font-family='"DejaVu Sans", "Liberation Sans", sans-serif' font-size="9" text-anchor="middle">1</text>
<line x1="169.9" y1="21.5" x2="169.9" y2="24" stroke="#555" stroke-width="0.8"/>
<text x="268.0" y="19.6" font-family='"DejaVu Sans", "Liberation Sans", sans-serif' font-size="9" text-anchor="middle">2</text>
<line x1="268.0" y1="21.5" x2="268.0" y2="24" stroke="#555" stroke-width="0.8"/>
<text x="366.1" y="19.6" font-family='"DejaVu Sans", "Liberation Sans", sans-serif' font-size="9" text-anchor="middle">3</text>
<line x1="366.1" y1="21.5" x2="366.1" y2="24" stroke="#555" stroke-width="0.8"/>
<text x="464.2" y="19.6" font-family='"DejaVu Sans", "Liberation Sans", sans-serif' font-size="9" text-anchor="middle">4</text>
<line x1="464.2" y1="21.5" x2="464.2" y2="24" stroke="#555" stroke-width="0.8"/>
<text x="68.3" y="35.8" font-family='"DejaVu Sans", "Liberation Sans", sans-serif' font-size="9" text-anchor="end">2</text>
<text x="68.3" y="51.7" font-family='"DejaVu Sans", "Liberation Sans", sans-serif' font-size="9" text-anchor="end">0</text>
<text x="68.3" y="68.2" font-family='"DejaVu Sans", "Liberation Sans", sans-serif' font-size="9" text-anchor="end">−2</text>
<line x1="70" y1="32.4" x2="72.4" y2="32.4" stroke="#555" stroke-width="0.8"/>
<line x1="70" y1="48.6" x2="72.4" y2="48.6" stroke="#555" stroke-width="0.8"/>
<line x1="70" y1="64.8" x2="72.4" y2="64.8" stroke="#555" stroke-width="0.8"/>
<text x="0.3" y="34.3" font-family='"DejaVu Sans", "Liberation Sans", sans-serif' font-size="10" textLength="56.3" lengthAdjust="spacingAndGlyphs">continuous</text>
<text x="0.3" y="47.6" font-family='"DejaVu Sans", "Liberation Sans", sans-serif' font-size="10" textLength="56.3" lengthAdjust="spacingAndGlyphs">monitoring</text>
<text x="10.8" y="63.2" font-family='"Liberation Serif", "DejaVu Serif", serif' font-size="15.5">{</text>
<text x="17.0" y="63.8" font-family='"Liberation Serif", "DejaVu Serif", serif' font-size="15.5" font-style="italic">V</text>
<text x="25.8" y="65.7" font-family='"Liberation Serif", "DejaVu Serif", serif' font-size="10.5" font-style="italic">t</text>
<text x="31.2" y="63.2" font-family='"Liberation Serif", "DejaVu Serif", serif' font-size="15.5">}</text>
<defs><linearGradient id="gb" x1="0" y1="0" x2="0" y2="1"><stop offset="0" stop-color="#0a2580"/><stop offset="0.15" stop-color="#0a3fc0"/><stop offset="0.35" stop-color="#0d5fe0"/><stop offset="0.55" stop-color="#2a8de2"/><stop offset="0.75" stop-color="#5cc4e8"/><stop offset="0.9" stop-color="#a0e4ee"/><stop offset="1" stop-color="#e4f8fc"/></linearGradient>
<linearGradient id="gh" x1="0" y1="0" x2="0" y2="1"><stop offset="0" stop-color="#ffffff"/><stop offset="0.1" stop-color="#fffff0"/><stop offset="0.3" stop-color="#f6ff78"/><stop offset="0.45" stop-color="#ecf424"/><stop offset="0.55" stop-color="#ffc400"/><stop offset="0.65" stop-color="#ff8400"/><stop offset="0.75" stop-color="#ff3800"/><stop offset="0.85" stop-color="#f00000"/><stop offset="0.93" stop-color="#a80000"/><stop offset="1" stop-color="#200000"/></linearGradient></defs>
<rect x="494.6" y="13.2" width="10.8" height="69.9" fill="url(#gb)" stroke="#8c8c8c" stroke-width="1"/>
<text x="508.4" y="18.6" font-family='"Liberation Serif", "DejaVu Serif", serif' font-size="14">1</text>
<text x="508.0" y="88.6" font-family='"Liberation Serif", "DejaVu Serif", serif' font-size="14">0</text>
<text x="0.0" y="0.0" font-family='"DejaVu Sans", "Liberation Sans", sans-serif' font-size="9" textLength="47.4" lengthAdjust="spacingAndGlyphs" transform="translate(511.8,24.6) rotate(90)">probability</text>
<line x1="73.8" y1="72.5" x2="73.8" y2="94" stroke="#000" stroke-width="1.5"/>
<polyline points="68.5,82.6 73.8,88.4 79.1,82.6" fill="none" stroke="#000" stroke-width="1.5"/>
<line x1="73.8" y1="148" x2="73.8" y2="172.3" stroke="#000" stroke-width="1.5"/>
<polyline points="68.5,156.6 73.8,162.4 79.1,156.6" fill="none" stroke="#000" stroke-width="1.5"/>
<line x1="86.5" y1="121.2" x2="109.3" y2="121.2" stroke="#000" stroke-width="1.5"/>
<polyline points="94.4,115.9 100.2,121.2 94.4,126.5" fill="none" stroke="#000" stroke-width="1.5"/>
<rect x="61.1" y="94" width="25.4" height="54.2" rx="2.6" fill="#fdd9a5" stroke="#000" stroke-width="1.8"/>
<g fill="none" stroke="#1a1a1a" stroke-width="0.4"><line x1="61.9" y1="101.3" x2="85.7" y2="101.3"/><line x1="61.9" y1="127.2" x2="85.7" y2="127.2"/><line x1="61.9" y1="139.9" x2="85.7" y2="139.9"/><path d="M70.3 105.5 Q63.2 107.0 62.2 113.0"/><path d="M70.3 105.5 Q63.2 112.0 62.2 118.0"/><path d="M70.3 105.5 Q63.6 117.0 62.6 123.0"/><path d="M62.2 113 L68.8 126 M62.2 118 L68.8 138.5 M62.6 123 L68.8 127"/><path d="M62.0 124 L69.3 141.5 M62.0 142 L69.3 124.5 M62.0 131 L68.8 136.5 M62.0 137 L68.8 130"/><path d="M77.3 105.5 Q84.4 107.0 85.4 113.0"/><path d="M77.3 105.5 Q84.4 112.0 85.4 118.0"/><path d="M77.3 105.5 Q84.0 117.0 85.0 123.0"/><path d="M85.4 113 L78.8 126 M85.4 118 L78.8 138.5 M85.0 123 L78.8 127"/><path d="M85.6 124 L78.3 141.5 M85.6 142 L78.3 124.5 M85.6 131 L78.8 136.5 M85.6 137 L78.8 130"/></g>
<circle cx="73.0" cy="101.7" r="5.1" fill="#d00000" stroke="#500000" stroke-width="0.7"/>
<circle cx="74.5" cy="102.7" r="5.0" fill="#ff0505" stroke="#900000" stroke-width="0.3"/>
<circle cx="73.0" cy="126.9" r="5.1" fill="#d00000" stroke="#500000" stroke-width="0.7"/>
<circle cx="74.5" cy="127.9" r="5.0" fill="#ff0505" stroke="#900000" stroke-width="0.3"/>
<circle cx="73.0" cy="139.2" r="5.1" fill="#d00000" stroke="#500000" stroke-width="0.7"/>
<circle cx="74.5" cy="140.2" r="5.0" fill="#ff0505" stroke="#900000" stroke-width="0.3"/>
<circle cx="73.8" cy="111.9" r="1.1" fill="#000"/>
<circle cx="73.8" cy="115.3" r="1.1" fill="#000"/>
<circle cx="73.8" cy="118.7" r="1.1" fill="#000"/>
<line x1="122.0" y1="72.5" x2="122.0" y2="94" stroke="#000" stroke-width="1.5"/>
<polyline points="116.7,82.6 122.0,88.4 127.3,82.6" fill="none" stroke="#000" stroke-width="1.5"/>
<line x1="122.0" y1="148" x2="122.0" y2="172.3" stroke="#000" stroke-width="1.5"/>
<polyline points="116.7,156.6 122.0,162.4 127.3,156.6" fill="none" stroke="#000" stroke-width="1.5"/>
<line x1="134.7" y1="121.2" x2="157.6" y2="121.2" stroke="#000" stroke-width="1.5"/>
<polyline points="142.7,115.9 148.5,121.2 142.7,126.5" fill="none" stroke="#000" stroke-width="1.5"/>
<rect x="109.3" y="94" width="25.4" height="54.2" rx="2.6" fill="#fdd9a5" stroke="#000" stroke-width="1.8"/>
<g fill="none" stroke="#1a1a1a" stroke-width="0.4"><line x1="110.1" y1="101.3" x2="133.9" y2="101.3"/><line x1="110.1" y1="127.2" x2="133.9" y2="127.2"/><line x1="110.1" y1="139.9" x2="133.9" y2="139.9"/><path d="M118.5 105.5 Q111.4 107.0 110.4 113.0"/><path d="M118.5 105.5 Q111.4 112.0 110.4 118.0"/><path d="M118.5 105.5 Q111.8 117.0 110.8 123.0"/><path d="M110.4 113 L117.0 126 M110.4 118 L117.0 138.5 M110.8 123 L117.0 127"/><path d="M110.2 124 L117.5 141.5 M110.2 142 L117.5 124.5 M110.2 131 L117.0 136.5 M110.2 137 L117.0 130"/><path d="M125.5 105.5 Q132.6 107.0 133.6 113.0"/><path d="M125.5 105.5 Q132.6 112.0 133.6 118.0"/><path d="M125.5 105.5 Q132.2 117.0 133.2 123.0"/><path d="M133.6 113 L127.0 126 M133.6 118 L127.0 138.5 M133.2 123 L127.0 127"/><path d="M133.8 124 L126.5 141.5 M133.8 142 L126.5 124.5 M133.8 131 L127.0 136.5 M133.8 137 L127.0 130"/></g>
<circle cx="121.2" cy="101.7" r="5.1" fill="#d00000" stroke="#500000" stroke-width="0.7"/>
<circle cx="122.7" cy="102.7" r="5.0" fill="#ff0505" stroke="#900000" stroke-width="0.3"/>
<circle cx="121.2" cy="126.9" r="5.1" fill="#d00000" stroke="#500000" stroke-width="0.7"/>
<circle cx="122.7" cy="127.9" r="5.0" fill="#ff0505" stroke="#900000" stroke-width="0.3"/>
<circle cx="121.2" cy="139.2" r="5.1" fill="#d00000" stroke="#500000" stroke-width="0.7"/>
<circle cx="122.7" cy="140.2" r="5.0" fill="#ff0505" stroke="#900000" stroke-width="0.3"/>
<circle cx="122.0" cy="111.9" r="1.1" fill="#000"/>
<circle cx="122.0" cy="115.3" r="1.1" fill="#000"/>
<circle cx="122.0" cy="118.7" r="1.1" fill="#000"/>
<line x1="170.3" y1="72.5" x2="170.3" y2="94" stroke="#000" stroke-width="1.5"/>
<polyline points="165.0,82.6 170.3,88.4 175.6,82.6" fill="none" stroke="#000" stroke-width="1.5"/>
<line x1="170.3" y1="148" x2="170.3" y2="172.3" stroke="#000" stroke-width="1.5"/>
<polyline points="165.0,156.6 170.3,162.4 175.6,156.6" fill="none" stroke="#000" stroke-width="1.5"/>
<line x1="183.0" y1="121.2" x2="205.8" y2="121.2" stroke="#000" stroke-width="1.5"/>
<polyline points="190.9,115.9 196.7,121.2 190.9,126.5" fill="none" stroke="#000" stroke-width="1.5"/>
<rect x="157.6" y="94" width="25.4" height="54.2" rx="2.6" fill="#fdd9a5" stroke="#000" stroke-width="1.8"/>
<g fill="none" stroke="#1a1a1a" stroke-width="0.4"><line x1="158.4" y1="101.3" x2="182.2" y2="101.3"/><line x1="158.4" y1="127.2" x2="182.2" y2="127.2"/><line x1="158.4" y1="139.9" x2="182.2" y2="139.9"/><path d="M166.8 105.5 Q159.7 107.0 158.7 113.0"/><path d="M166.8 105.5 Q159.7 112.0 158.7 118.0"/><path d="M166.8 105.5 Q160.1 117.0 159.1 123.0"/><path d="M158.7 113 L165.3 126 M158.7 118 L165.3 138.5 M159.1 123 L165.3 127"/><path d="M158.5 124 L165.8 141.5 M158.5 142 L165.8 124.5 M158.5 131 L165.3 136.5 M158.5 137 L165.3 130"/><path d="M173.8 105.5 Q180.9 107.0 181.9 113.0"/><path d="M173.8 105.5 Q180.9 112.0 181.9 118.0"/><path d="M173.8 105.5 Q180.5 117.0 181.5 123.0"/><path d="M181.9 113 L175.3 126 M181.9 118 L175.3 138.5 M181.5 123 L175.3 127"/><path d="M182.1 124 L174.8 141.5 M182.1 142 L174.8 124.5 M182.1 131 L175.3 136.5 M182.1 137 L175.3 130"/></g>
<circle cx="169.5" cy="101.7" r="5.1" fill="#d00000" stroke="#500000" stroke-width="0.7"/>
<circle cx="171.0" cy="102.7" r="5.0" fill="#ff0505" stroke="#900000" stroke-width="0.3"/>
<circle cx="169.5" cy="126.9" r="5.1" fill="#d00000" stroke="#500000" stroke-width="0.7"/>
<circle cx="171.0" cy="127.9" r="5.0" fill="#ff0505" stroke="#900000" stroke-width="0.3"/>
<circle cx="169.5" cy="139.2" r="5.1" fill="#d00000" stroke="#500000" stroke-width="0.7"/>
<circle cx="171.0" cy="140.2" r="5.0" fill="#ff0505" stroke="#900000" stroke-width="0.3"/>
<circle cx="170.3" cy="111.9" r="1.1" fill="#000"/>
<circle cx="170.3" cy="115.3" r="1.1" fill="#000"/>
<circle cx="170.3" cy="118.7" r="1.1" fill="#000"/>
<line x1="218.5" y1="72.5" x2="218.5" y2="94" stroke="#000" stroke-width="1.5"/>
<polyline points="213.2,82.6 218.5,88.4 223.8,82.6" fill="none" stroke="#000" stroke-width="1.5"/>
<line x1="218.5" y1="148" x2="218.5" y2="172.3" stroke="#000" stroke-width="1.5"/>
<polyline points="213.2,156.6 218.5,162.4 223.8,156.6" fill="none" stroke="#000" stroke-width="1.5"/>
<line x1="231.2" y1="121.2" x2="254.1" y2="121.2" stroke="#000" stroke-width="1.5"/>
<polyline points="239.1,115.9 244.9,121.2 239.1,126.5" fill="none" stroke="#000" stroke-width="1.5"/>
<rect x="205.8" y="94" width="25.4" height="54.2" rx="2.6" fill="#fdd9a5" stroke="#000" stroke-width="1.8"/>
<g fill="none" stroke="#1a1a1a" stroke-width="0.4"><line x1="206.6" y1="101.3" x2="230.4" y2="101.3"/><line x1="206.6" y1="127.2" x2="230.4" y2="127.2"/><line x1="206.6" y1="139.9" x2="230.4" y2="139.9"/><path d="M215.0 105.5 Q207.9 107.0 206.9 113.0"/><path d="M215.0 105.5 Q207.9 112.0 206.9 118.0"/><path d="M215.0 105.5 Q208.3 117.0 207.3 123.0"/><path d="M206.9 113 L213.5 126 M206.9 118 L213.5 138.5 M207.3 123 L213.5 127"/><path d="M206.7 124 L214.0 141.5 M206.7 142 L214.0 124.5 M206.7 131 L213.5 136.5 M206.7 137 L213.5 130"/><path d="M222.0 105.5 Q229.1 107.0 230.1 113.0"/><path d="M222.0 105.5 Q229.1 112.0 230.1 118.0"/><path d="M222.0 105.5 Q228.7 117.0 229.7 123.0"/><path d="M230.1 113 L223.5 126 M230.1 118 L223.5 138.5 M229.7 123 L223.5 127"/><path d="M230.3 124 L223.0 141.5 M230.3 142 L223.0 124.5 M230.3 131 L223.5 136.5 M230.3 137 L223.5 130"/></g>
<circle cx="217.7" cy="101.7" r="5.1" fill="#d00000" stroke="#500000" stroke-width="0.7"/>
<circle cx="219.2" cy="102.7" r="5.0" fill="#ff0505" stroke="#900000" stroke-width="0.3"/>
<circle cx="217.7" cy="126.9" r="5.1" fill="#d00000" stroke="#500000" stroke-width="0.7"/>
<circle cx="219.2" cy="127.9" r="5.0" fill="#ff0505" stroke="#900000" stroke-width="0.3"/>
<circle cx="217.7" cy="139.2" r="5.1" fill="#d00000" stroke="#500000" stroke-width="0.7"/>
<circle cx="219.2" cy="140.2" r="5.0" fill="#ff0505" stroke="#900000" stroke-width="0.3"/>
<circle cx="218.5" cy="111.9" r="1.1" fill="#000"/>
<circle cx="218.5" cy="115.3" r="1.1" fill="#000"/>
<circle cx="218.5" cy="118.7" r="1.1" fill="#000"/>
<line x1="266.8" y1="72.5" x2="266.8" y2="94" stroke="#000" stroke-width="1.5"/>
<polyline points="261.5,82.6 266.8,88.4 272.1,82.6" fill="none" stroke="#000" stroke-width="1.5"/>
<line x1="266.8" y1="148" x2="266.8" y2="172.3" stroke="#000" stroke-width="1.5"/>
<polyline points="261.5,156.6 266.8,162.4 272.1,156.6" fill="none" stroke="#000" stroke-width="1.5"/>
<line x1="279.5" y1="121.2" x2="302.3" y2="121.2" stroke="#000" stroke-width="1.5"/>
<polyline points="287.4,115.9 293.2,121.2 287.4,126.5" fill="none" stroke="#000" stroke-width="1.5"/>
<rect x="254.1" y="94" width="25.4" height="54.2" rx="2.6" fill="#fdd9a5" stroke="#000" stroke-width="1.8"/>
<g fill="none" stroke="#1a1a1a" stroke-width="0.4"><line x1="254.9" y1="101.3" x2="278.7" y2="101.3"/><line x1="254.9" y1="127.2" x2="278.7" y2="127.2"/><line x1="254.9" y1="139.9" x2="278.7" y2="139.9"/><path d="M263.3 105.5 Q256.2 107.0 255.2 113.0"/><path d="M263.3 105.5 Q256.2 112.0 255.2 118.0"/><path d="M263.3 105.5 Q256.6 117.0 255.6 123.0"/><path d="M255.2 113 L261.8 126 M255.2 118 L261.8 138.5 M255.6 123 L261.8 127"/><path d="M255.0 124 L262.3 141.5 M255.0 142 L262.3 124.5 M255.0 131 L261.8 136.5 M255.0 137 L261.8 130"/><path d="M270.3 105.5 Q277.4 107.0 278.4 113.0"/><path d="M270.3 105.5 Q277.4 112.0 278.4 118.0"/><path d="M270.3 105.5 Q277.0 117.0 278.0 123.0"/><path d="M278.4 113 L271.8 126 M278.4 118 L271.8 138.5 M278.0 123 L271.8 127"/><path d="M278.6 124 L271.3 141.5 M278.6 142 L271.3 124.5 M278.6 131 L271.8 136.5 M278.6 137 L271.8 130"/></g>
<circle cx="266.0" cy="101.7" r="5.1" fill="#d00000" stroke="#500000" stroke-width="0.7"/>
<circle cx="267.5" cy="102.7" r="5.0" fill="#ff0505" stroke="#900000" stroke-width="0.3"/>
<circle cx="266.0" cy="126.9" r="5.1" fill="#d00000" stroke="#500000" stroke-width="0.7"/>
<circle cx="267.5" cy="127.9" r="5.0" fill="#ff0505" stroke="#900000" stroke-width="0.3"/>
<circle cx="266.0" cy="139.2" r="5.1" fill="#d00000" stroke="#500000" stroke-width="0.7"/>
<circle cx="267.5" cy="140.2" r="5.0" fill="#ff0505" stroke="#900000" stroke-width="0.3"/>
<circle cx="266.8" cy="111.9" r="1.1" fill="#000"/>
<circle cx="266.8" cy="115.3" r="1.1" fill="#000"/>
<circle cx="266.8" cy="118.7" r="1.1" fill="#000"/>
<line x1="315.0" y1="72.5" x2="315.0" y2="94" stroke="#000" stroke-width="1.5"/>
<polyline points="309.7,82.6 315.0,88.4 320.3,82.6" fill="none" stroke="#000" stroke-width="1.5"/>
<line x1="315.0" y1="148" x2="315.0" y2="172.3" stroke="#000" stroke-width="1.5"/>
<polyline points="309.7,156.6 315.0,162.4 320.3,156.6" fill="none" stroke="#000" stroke-width="1.5"/>
<line x1="327.7" y1="121.2" x2="350.5" y2="121.2" stroke="#000" stroke-width="1.5"/>
<polyline points="335.6,115.9 341.4,121.2 335.6,126.5" fill="none" stroke="#000" stroke-width="1.5"/>
<rect x="302.3" y="94" width="25.4" height="54.2" rx="2.6" fill="#fdd9a5" stroke="#000" stroke-width="1.8"/>
<g fill="none" stroke="#1a1a1a" stroke-width="0.4"><line x1="303.1" y1="101.3" x2="326.9" y2="101.3"/><line x1="303.1" y1="127.2" x2="326.9" y2="127.2"/><line x1="303.1" y1="139.9" x2="326.9" y2="139.9"/><path d="M311.5 105.5 Q304.4 107.0 303.4 113.0"/><path d="M311.5 105.5 Q304.4 112.0 303.4 118.0"/><path d="M311.5 105.5 Q304.8 117.0 303.8 123.0"/><path d="M303.4 113 L310.0 126 M303.4 118 L310.0 138.5 M303.8 123 L310.0 127"/><path d="M303.2 124 L310.5 141.5 M303.2 142 L310.5 124.5 M303.2 131 L310.0 136.5 M303.2 137 L310.0 130"/><path d="M318.5 105.5 Q325.6 107.0 326.6 113.0"/><path d="M318.5 105.5 Q325.6 112.0 326.6 118.0"/><path d="M318.5 105.5 Q325.2 117.0 326.2 123.0"/><path d="M326.6 113 L320.0 126 M326.6 118 L320.0 138.5 M326.2 123 L320.0 127"/><path d="M326.8 124 L319.5 141.5 M326.8 142 L319.5 124.5 M326.8 131 L320.0 136.5 M326.8 137 L320.0 130"/></g>
<circle cx="314.2" cy="101.7" r="5.1" fill="#d00000" stroke="#500000" stroke-width="0.7"/>
<circle cx="315.7" cy="102.7" r="5.0" fill="#ff0505" stroke="#900000" stroke-width="0.3"/>
<circle cx="314.2" cy="126.9" r="5.1" fill="#d00000" stroke="#500000" stroke-width="0.7"/>
<circle cx="315.7" cy="127.9" r="5.0" fill="#ff0505" stroke="#900000" stroke-width="0.3"/>
<circle cx="314.2" cy="139.2" r="5.1" fill="#d00000" stroke="#500000" stroke-width="0.7"/>
<circle cx="315.7" cy="140.2" r="5.0" fill="#ff0505" stroke="#900000" stroke-width="0.3"/>
<circle cx="315.0" cy="111.9" r="1.1" fill="#000"/>
<circle cx="315.0" cy="115.3" r="1.1" fill="#000"/>
<circle cx="315.0" cy="118.7" r="1.1" fill="#000"/>
<line x1="363.2" y1="72.5" x2="363.2" y2="94" stroke="#000" stroke-width="1.5"/>
<polyline points="357.9,82.6 363.2,88.4 368.5,82.6" fill="none" stroke="#000" stroke-width="1.5"/>
<line x1="363.2" y1="148" x2="363.2" y2="172.3" stroke="#000" stroke-width="1.5"/>
<polyline points="357.9,156.6 363.2,162.4 368.5,156.6" fill="none" stroke="#000" stroke-width="1.5"/>
<line x1="375.9" y1="121.2" x2="398.8" y2="121.2" stroke="#000" stroke-width="1.5"/>
<polyline points="383.9,115.9 389.7,121.2 383.9,126.5" fill="none" stroke="#000" stroke-width="1.5"/>
<rect x="350.5" y="94" width="25.4" height="54.2" rx="2.6" fill="#fdd9a5" stroke="#000" stroke-width="1.8"/>
<g fill="none" stroke="#1a1a1a" stroke-width="0.4"><line x1="351.3" y1="101.3" x2="375.1" y2="101.3"/><line x1="351.3" y1="127.2" x2="375.1" y2="127.2"/><line x1="351.3" y1="139.9" x2="375.1" y2="139.9"/><path d="M359.7 105.5 Q352.6 107.0 351.6 113.0"/><path d="M359.7 105.5 Q352.6 112.0 351.6 118.0"/><path d="M359.7 105.5 Q353.0 117.0 352.0 123.0"/><path d="M351.6 113 L358.2 126 M351.6 118 L358.2 138.5 M352.0 123 L358.2 127"/><path d="M351.4 124 L358.7 141.5 M351.4 142 L358.7 124.5 M351.4 131 L358.2 136.5 M351.4 137 L358.2 130"/><path d="M366.7 105.5 Q373.8 107.0 374.8 113.0"/><path d="M366.7 105.5 Q373.8 112.0 374.8 118.0"/><path d="M366.7 105.5 Q373.4 117.0 374.4 123.0"/><path d="M374.8 113 L368.2 126 M374.8 118 L368.2 138.5 M374.4 123 L368.2 127"/><path d="M375.0 124 L367.7 141.5 M375.0 142 L367.7 124.5 M375.0 131 L368.2 136.5 M375.0 137 L368.2 130"/></g>
<circle cx="362.4" cy="101.7" r="5.1" fill="#d00000" stroke="#500000" stroke-width="0.7"/>
<circle cx="363.9" cy="102.7" r="5.0" fill="#ff0505" stroke="#900000" stroke-width="0.3"/>
<circle cx="362.4" cy="126.9" r="5.1" fill="#d00000" stroke="#500000" stroke-width="0.7"/>
<circle cx="363.9" cy="127.9" r="5.0" fill="#ff0505" stroke="#900000" stroke-width="0.3"/>
<circle cx="362.4" cy="139.2" r="5.1" fill="#d00000" stroke="#500000" stroke-width="0.7"/>
<circle cx="363.9" cy="140.2" r="5.0" fill="#ff0505" stroke="#900000" stroke-width="0.3"/>
<circle cx="363.2" cy="111.9" r="1.1" fill="#000"/>
<circle cx="363.2" cy="115.3" r="1.1" fill="#000"/>
<circle cx="363.2" cy="118.7" r="1.1" fill="#000"/>
<line x1="411.5" y1="72.5" x2="411.5" y2="94" stroke="#000" stroke-width="1.5"/>
<polyline points="406.2,82.6 411.5,88.4 416.8,82.6" fill="none" stroke="#000" stroke-width="1.5"/>
<line x1="411.5" y1="148" x2="411.5" y2="172.3" stroke="#000" stroke-width="1.5"/>
<polyline points="406.2,156.6 411.5,162.4 416.8,156.6" fill="none" stroke="#000" stroke-width="1.5"/>
<line x1="424.2" y1="121.2" x2="447.0" y2="121.2" stroke="#000" stroke-width="1.5"/>
<polyline points="432.1,115.9 437.9,121.2 432.1,126.5" fill="none" stroke="#000" stroke-width="1.5"/>
<rect x="398.8" y="94" width="25.4" height="54.2" rx="2.6" fill="#fdd9a5" stroke="#000" stroke-width="1.8"/>
<g fill="none" stroke="#1a1a1a" stroke-width="0.4"><line x1="399.6" y1="101.3" x2="423.4" y2="101.3"/><line x1="399.6" y1="127.2" x2="423.4" y2="127.2"/><line x1="399.6" y1="139.9" x2="423.4" y2="139.9"/><path d="M408.0 105.5 Q400.9 107.0 399.9 113.0"/><path d="M408.0 105.5 Q400.9 112.0 399.9 118.0"/><path d="M408.0 105.5 Q401.3 117.0 400.3 123.0"/><path d="M399.9 113 L406.5 126 M399.9 118 L406.5 138.5 M400.3 123 L406.5 127"/><path d="M399.7 124 L407.0 141.5 M399.7 142 L407.0 124.5 M399.7 131 L406.5 136.5 M399.7 137 L406.5 130"/><path d="M415.0 105.5 Q422.1 107.0 423.1 113.0"/><path d="M415.0 105.5 Q422.1 112.0 423.1 118.0"/><path d="M415.0 105.5 Q421.7 117.0 422.7 123.0"/><path d="M423.1 113 L416.5 126 M423.1 118 L416.5 138.5 M422.7 123 L416.5 127"/><path d="M423.3 124 L416.0 141.5 M423.3 142 L416.0 124.5 M423.3 131 L416.5 136.5 M423.3 137 L416.5 130"/></g>
<circle cx="410.7" cy="101.7" r="5.1" fill="#d00000" stroke="#500000" stroke-width="0.7"/>
<circle cx="412.2" cy="102.7" r="5.0" fill="#ff0505" stroke="#900000" stroke-width="0.3"/>
<circle cx="410.7" cy="126.9" r="5.1" fill="#d00000" stroke="#500000" stroke-width="0.7"/>
<circle cx="412.2" cy="127.9" r="5.0" fill="#ff0505" stroke="#900000" stroke-width="0.3"/>
<circle cx="410.7" cy="139.2" r="5.1" fill="#d00000" stroke="#500000" stroke-width="0.7"/>
<circle cx="412.2" cy="140.2" r="5.0" fill="#ff0505" stroke="#900000" stroke-width="0.3"/>
<circle cx="411.5" cy="111.9" r="1.1" fill="#000"/>
<circle cx="411.5" cy="115.3" r="1.1" fill="#000"/>
<circle cx="411.5" cy="118.7" r="1.1" fill="#000"/>
<line x1="459.7" y1="72.5" x2="459.7" y2="94" stroke="#000" stroke-width="1.5"/>
<polyline points="454.4,82.6 459.7,88.4 465.0,82.6" fill="none" stroke="#000" stroke-width="1.5"/>
<line x1="459.7" y1="148" x2="459.7" y2="172.3" stroke="#000" stroke-width="1.5"/>
<rect x="447.0" y="94" width="25.4" height="54.2" rx="2.6" fill="#fdd9a5" stroke="#000" stroke-width="1.8"/>
<g fill="none" stroke="#1a1a1a" stroke-width="0.4"><line x1="447.8" y1="101.3" x2="471.6" y2="101.3"/><line x1="447.8" y1="127.2" x2="471.6" y2="127.2"/><line x1="447.8" y1="139.9" x2="471.6" y2="139.9"/><path d="M456.2 105.5 Q449.1 107.0 448.1 113.0"/><path d="M456.2 105.5 Q449.1 112.0 448.1 118.0"/><path d="M456.2 105.5 Q449.5 117.0 448.5 123.0"/><path d="M448.1 113 L454.7 126 M448.1 118 L454.7 138.5 M448.5 123 L454.7 127"/><path d="M447.9 124 L455.2 141.5 M447.9 142 L455.2 124.5 M447.9 131 L454.7 136.5 M447.9 137 L454.7 130"/><path d="M463.2 105.5 Q470.3 107.0 471.3 113.0"/><path d="M463.2 105.5 Q470.3 112.0 471.3 118.0"/><path d="M463.2 105.5 Q469.9 117.0 470.9 123.0"/><path d="M471.3 113 L464.7 126 M471.3 118 L464.7 138.5 M470.9 123 L464.7 127"/><path d="M471.5 124 L464.2 141.5 M471.5 142 L464.2 124.5 M471.5 131 L464.7 136.5 M471.5 137 L464.7 130"/></g>
<circle cx="458.9" cy="101.7" r="5.1" fill="#d00000" stroke="#500000" stroke-width="0.7"/>
<circle cx="460.4" cy="102.7" r="5.0" fill="#ff0505" stroke="#900000" stroke-width="0.3"/>
<circle cx="458.9" cy="126.9" r="5.1" fill="#d00000" stroke="#500000" stroke-width="0.7"/>
<circle cx="460.4" cy="127.9" r="5.0" fill="#ff0505" stroke="#900000" stroke-width="0.3"/>
<circle cx="458.9" cy="139.2" r="5.1" fill="#d00000" stroke="#500000" stroke-width="0.7"/>
<circle cx="460.4" cy="140.2" r="5.0" fill="#ff0505" stroke="#900000" stroke-width="0.3"/>
<circle cx="459.7" cy="111.9" r="1.1" fill="#000"/>
<circle cx="459.7" cy="115.3" r="1.1" fill="#000"/>
<circle cx="459.7" cy="118.7" r="1.1" fill="#000"/>
<line x1="37" y1="122.7" x2="61" y2="122.7" stroke="#000" stroke-width="1.5"/>
<polyline points="44.8,117.4 50.6,122.7 44.8,128.0" fill="none" stroke="#000" stroke-width="1.5"/>
<circle cx="24.2" cy="122.8" r="12.6" fill="#4ddd1c" stroke="#000" stroke-width="1.2"/>
<text x="24.2" y="126.2" font-family='"DejaVu Sans", "Liberation Sans", sans-serif' font-size="9.5" fill="#fff" textLength="20.5" lengthAdjust="spacingAndGlyphs" text-anchor="middle">prep</text>
<line x1="459.7" y1="160" x2="486" y2="160" stroke="#000" stroke-width="1.5"/>
<polyline points="473.4,154.7 479.2,160.0 473.4,165.3" fill="none" stroke="#000" stroke-width="1.5"/>
<circle cx="498.6" cy="159.9" r="12.6" fill="#f2401a" stroke="#000" stroke-width="1.2"/>
<text x="498.8" y="163.0" font-family='"DejaVu Sans", "Liberation Sans", sans-serif' font-size="8.5" fill="#fff" textLength="21.5" lengthAdjust="spacingAndGlyphs" text-anchor="middle">meas</text>
<text x="80.4" y="88.4" font-family='"Liberation Serif", "DejaVu Serif", serif' font-size="16" font-style="italic">V</text><text x="88.8" y="91.6" font-family='"Liberation Serif", "DejaVu Serif", serif' font-size="11.5">0</text>
<text x="221.6" y="88.4" font-family='"Liberation Serif", "DejaVu Serif", serif' font-size="16" font-style="italic">V</text><text x="231.4" y="91.6" font-family='"Liberation Serif", "DejaVu Serif", serif' font-size="11.5" textLength="21.0" lengthAdjust="spacingAndGlyphs"><tspan font-style="italic">t</tspan>−1</text>
<text x="271.4" y="88.4" font-family='"Liberation Serif", "DejaVu Serif", serif' font-size="16" font-style="italic">V</text><text x="282.0" y="91.6" font-family='"Liberation Serif", "DejaVu Serif", serif' font-size="11.5" font-style="italic">t</text>
<text x="319.2" y="88.4" font-family='"Liberation Serif", "DejaVu Serif", serif' font-size="16" font-style="italic">V</text><text x="329.2" y="91.6" font-family='"Liberation Serif", "DejaVu Serif", serif' font-size="11.5" textLength="20.0" lengthAdjust="spacingAndGlyphs"><tspan font-style="italic">t</tspan>+1</text>
<text x="466.0" y="88.4" font-family='"Liberation Serif", "DejaVu Serif", serif' font-size="16" font-style="italic">V</text><text x="476.4" y="91.6" font-family='"Liberation Serif", "DejaVu Serif", serif' font-size="11.5" font-style="italic">T</text>
<text x="78.8" y="164.9" font-family='"Liberation Serif", "DejaVu Serif", serif' font-size="16" font-style="italic">P</text><text x="88.8" y="168.3" font-family='"Liberation Serif", "DejaVu Serif", serif' font-size="11.5">0</text>
<text x="223.9" y="164.9" font-family='"Liberation Serif", "DejaVu Serif", serif' font-size="16" font-style="italic">P</text><text x="233.6" y="169.4" font-family='"Liberation Serif", "DejaVu Serif", serif' font-size="11.5" textLength="21.0" lengthAdjust="spacingAndGlyphs"><tspan font-style="italic">t</tspan>−1</text>
<text x="273.1" y="164.9" font-family='"Liberation Serif", "DejaVu Serif", serif' font-size="16" font-style="italic">P</text><text x="283.6" y="169.4" font-family='"Liberation Serif", "DejaVu Serif", serif' font-size="11.5" font-style="italic">t</text>
<text x="321.0" y="164.9" font-family='"Liberation Serif", "DejaVu Serif", serif' font-size="16" font-style="italic">P</text><text x="330.6" y="169.4" font-family='"Liberation Serif", "DejaVu Serif", serif' font-size="11.5" textLength="19.5" lengthAdjust="spacingAndGlyphs"><tspan font-style="italic">t</tspan>+1</text>
<text x="435.2" y="164.9" font-family='"Liberation Serif", "DejaVu Serif", serif' font-size="16" font-style="italic">P</text><text x="444.2" y="168.6" font-family='"Liberation Serif", "DejaVu Serif", serif' font-size="11.5" font-style="italic">T</text>
<text x="13.0" y="189.2" font-family='"Liberation Sans", "DejaVu Sans", sans-serif' font-size="15.5" font-weight="bold" textLength="12.5" lengthAdjust="spacingAndGlyphs" stroke="#000" stroke-width="0.35">b.</text>
<g shape-rendering="crispEdges"><path fill="#7a0000" d="M69.1 172.0h6.3v3.8h-6.3zM78.1 172.0h3.3v3.8h-3.3zM210.0 172.0h3.3v3.8h-3.3zM216.0 172.0h3.3v3.8h-3.3zM221.9 172.0h3.3v3.8h-3.3zM332.8 172.0h3.3v3.8h-3.3zM344.8 172.0h6.3v3.8h-6.3zM90.1 175.5h3.3v3.8h-3.3zM180.0 175.5h3.3v3.8h-3.3zM248.9 175.5h6.3v3.8h-6.3zM380.8 175.5h3.3v3.8h-3.3zM422.7 175.5h3.3v3.8h-3.3zM69.1 179.0h3.3v3.8h-3.3zM174.0 179.0h6.3v3.8h-6.3zM422.7 179.0h3.3v3.8h-3.3zM99.1 182.5h3.3v3.8h-3.3zM171.0 182.5h3.3v3.8h-3.3zM266.9 182.5h3.3v3.8h-3.3zM299.9 182.5h3.3v3.8h-3.3zM383.8 182.5h3.3v3.8h-3.3zM419.7 182.5h3.3v3.8h-3.3zM102.1 186.0h3.3v3.8h-3.3zM189.0 186.0h6.3v3.8h-6.3zM266.9 186.0h6.3v3.8h-6.3zM278.9 186.0h3.3v3.8h-3.3zM386.8 186.0h9.3v3.8h-9.3zM410.8 186.0h6.3v3.8h-6.3zM87.1 189.5h3.3v3.8h-3.3zM168.0 189.5h3.3v3.8h-3.3zM186.0 189.5h6.3v3.8h-6.3zM213.0 189.5h6.3v3.8h-6.3zM221.9 189.5h6.3v3.8h-6.3zM281.9 189.5h3.3v3.8h-3.3zM389.8 189.5h3.3v3.8h-3.3zM395.8 189.5h3.3v3.8h-3.3zM401.8 189.5h3.3v3.8h-3.3zM165.0 193.0h3.3v3.8h-3.3zM180.0 193.0h3.3v3.8h-3.3zM210.0 193.0h3.3v3.8h-3.3zM287.9 193.0h3.3v3.8h-3.3zM293.9 193.0h3.3v3.8h-3.3zM335.8 193.0h3.3v3.8h-3.3zM398.8 193.0h3.3v3.8h-3.3zM404.8 193.0h3.3v3.8h-3.3zM180.0 196.5h3.3v3.8h-3.3zM207.0 196.5h3.3v3.8h-3.3zM329.8 196.5h6.3v3.8h-6.3zM341.8 196.5h3.3v3.8h-3.3zM347.8 196.5h3.3v3.8h-3.3zM120.0 200.0h3.3v3.8h-3.3zM347.8 200.0h3.3v3.8h-3.3zM102.1 203.5h3.3v3.8h-3.3zM126.0 203.5h3.3v3.8h-3.3zM132.0 203.5h3.3v3.8h-3.3zM138.0 203.5h3.3v3.8h-3.3zM105.1 207.0h3.3v3.8h-3.3zM192.0 207.0h3.3v3.8h-3.3zM239.9 207.0h3.3v3.8h-3.3zM323.8 207.0h3.3v3.8h-3.3zM356.8 207.0h3.3v3.8h-3.3zM180.0 214.0h3.3v3.8h-3.3zM245.9 214.0h3.3v3.8h-3.3zM365.8 214.0h3.3v3.8h-3.3zM132.0 217.5h9.3v3.8h-9.3zM386.8 217.5h3.3v3.8h-3.3zM392.8 217.5h9.3v3.8h-9.3zM404.8 217.5h3.3v3.8h-3.3z"/>
<path fill="#6c0000" d="M75.1 172.0h3.3v3.8h-3.3zM81.1 172.0h3.3v3.8h-3.3zM186.0 172.0h6.3v3.8h-6.3zM195.0 172.0h15.3v3.8h-15.3zM224.9 172.0h9.3v3.8h-9.3zM317.8 172.0h3.3v3.8h-3.3zM323.8 172.0h9.3v3.8h-9.3zM335.8 172.0h3.3v3.8h-3.3zM341.8 172.0h3.3v3.8h-3.3zM353.8 172.0h9.3v3.8h-9.3zM365.8 172.0h9.3v3.8h-9.3zM440.7 172.0h6.3v3.8h-6.3zM449.7 172.0h12.3v3.8h-12.3zM254.9 175.5h3.3v3.8h-3.3zM302.9 175.5h3.3v3.8h-3.3zM419.7 175.5h3.3v3.8h-3.3zM96.1 179.0h3.3v3.8h-3.3zM260.9 179.0h3.3v3.8h-3.3zM383.8 179.0h6.3v3.8h-6.3zM416.7 179.0h6.3v3.8h-6.3zM78.1 182.5h3.3v3.8h-3.3zM269.9 182.5h9.3v3.8h-9.3zM386.8 182.5h9.3v3.8h-9.3zM413.7 182.5h6.3v3.8h-6.3zM81.1 186.0h3.3v3.8h-3.3zM281.9 186.0h3.3v3.8h-3.3zM296.9 186.0h3.3v3.8h-3.3zM401.8 186.0h3.3v3.8h-3.3zM218.9 189.5h3.3v3.8h-3.3zM284.9 189.5h6.3v3.8h-6.3zM293.9 189.5h3.3v3.8h-3.3zM392.8 189.5h3.3v3.8h-3.3zM398.8 189.5h3.3v3.8h-3.3zM404.8 189.5h3.3v3.8h-3.3zM224.9 193.0h6.3v3.8h-6.3zM153.0 196.5h3.3v3.8h-3.3zM335.8 196.5h6.3v3.8h-6.3zM147.0 200.0h3.3v3.8h-3.3zM204.0 200.0h3.3v3.8h-3.3zM326.8 200.0h3.3v3.8h-3.3zM341.8 200.0h6.3v3.8h-6.3zM141.0 203.5h3.3v3.8h-3.3zM198.0 203.5h6.3v3.8h-6.3zM236.9 203.5h3.3v3.8h-3.3zM347.8 203.5h3.3v3.8h-3.3zM353.8 203.5h3.3v3.8h-3.3zM195.0 207.0h3.3v3.8h-3.3zM108.1 210.5h3.3v3.8h-3.3zM186.0 210.5h3.3v3.8h-3.3zM314.8 210.5h3.3v3.8h-3.3zM320.8 210.5h3.3v3.8h-3.3zM359.8 210.5h3.3v3.8h-3.3zM111.1 214.0h3.3v3.8h-3.3zM183.0 214.0h3.3v3.8h-3.3zM242.9 214.0h3.3v3.8h-3.3zM311.9 214.0h9.3v3.8h-9.3zM362.8 214.0h3.3v3.8h-3.3zM123.0 217.5h9.3v3.8h-9.3zM141.0 217.5h15.3v3.8h-15.3zM269.9 217.5h3.3v3.8h-3.3zM275.9 217.5h3.3v3.8h-3.3zM284.9 217.5h6.3v3.8h-6.3zM296.9 217.5h3.3v3.8h-3.3zM377.8 217.5h9.3v3.8h-9.3zM389.8 217.5h3.3v3.8h-3.3zM401.8 217.5h3.3v3.8h-3.3zM407.8 217.5h18.3v3.8h-18.3zM428.7 217.5h3.3v3.8h-3.3zM437.7 217.5h3.3v3.8h-3.3zM446.7 217.5h3.3v3.8h-3.3z"/>
<path fill="#5e0000" d="M84.1 172.0h3.3v3.8h-3.3zM192.0 172.0h3.3v3.8h-3.3zM233.9 172.0h6.3v3.8h-6.3zM311.9 172.0h6.3v3.8h-6.3zM320.8 172.0h3.3v3.8h-3.3zM350.8 172.0h3.3v3.8h-3.3zM362.8 172.0h3.3v3.8h-3.3zM374.8 172.0h3.3v3.8h-3.3zM437.7 172.0h3.3v3.8h-3.3zM446.7 172.0h3.3v3.8h-3.3zM93.1 175.5h3.3v3.8h-3.3zM257.9 175.5h3.3v3.8h-3.3zM383.8 175.5h6.3v3.8h-6.3zM410.8 175.5h3.3v3.8h-3.3zM416.7 175.5h3.3v3.8h-3.3zM263.9 179.0h3.3v3.8h-3.3zM299.9 179.0h3.3v3.8h-3.3zM389.8 179.0h3.3v3.8h-3.3zM404.8 179.0h6.3v3.8h-6.3zM413.7 179.0h3.3v3.8h-3.3zM75.1 182.5h3.3v3.8h-3.3zM278.9 182.5h3.3v3.8h-3.3zM395.8 182.5h6.3v3.8h-6.3zM404.8 182.5h9.3v3.8h-9.3zM168.0 186.0h3.3v3.8h-3.3zM293.9 186.0h3.3v3.8h-3.3zM395.8 186.0h6.3v3.8h-6.3zM404.8 186.0h6.3v3.8h-6.3zM290.9 189.5h3.3v3.8h-3.3zM90.1 193.0h3.3v3.8h-3.3zM111.1 193.0h3.3v3.8h-3.3zM156.0 193.0h3.3v3.8h-3.3zM162.0 193.0h3.3v3.8h-3.3zM213.0 193.0h3.3v3.8h-3.3zM114.1 196.5h3.3v3.8h-3.3zM150.0 196.5h3.3v3.8h-3.3zM230.9 196.5h3.3v3.8h-3.3zM96.1 200.0h3.3v3.8h-3.3zM233.9 200.0h3.3v3.8h-3.3zM329.8 200.0h9.3v3.8h-9.3zM135.0 203.5h3.3v3.8h-3.3zM326.8 203.5h3.3v3.8h-3.3zM341.8 203.5h6.3v3.8h-6.3zM350.8 203.5h3.3v3.8h-3.3zM198.0 207.0h3.3v3.8h-3.3zM350.8 207.0h6.3v3.8h-6.3zM189.0 210.5h3.3v3.8h-3.3zM239.9 210.5h3.3v3.8h-3.3zM323.8 210.5h3.3v3.8h-3.3zM356.8 210.5h3.3v3.8h-3.3zM320.8 214.0h3.3v3.8h-3.3zM356.8 214.0h6.3v3.8h-6.3zM120.0 217.5h3.3v3.8h-3.3zM156.0 217.5h9.3v3.8h-9.3zM254.9 217.5h15.3v3.8h-15.3zM272.9 217.5h3.3v3.8h-3.3zM278.9 217.5h6.3v3.8h-6.3zM290.9 217.5h6.3v3.8h-6.3zM299.9 217.5h3.3v3.8h-3.3zM371.8 217.5h6.3v3.8h-6.3zM425.7 217.5h3.3v3.8h-3.3zM431.7 217.5h6.3v3.8h-6.3zM440.7 217.5h6.3v3.8h-6.3zM449.7 217.5h6.3v3.8h-6.3z"/>
<path fill="#420000" d="M87.1 172.0h3.3v3.8h-3.3zM180.0 172.0h3.3v3.8h-3.3zM242.9 172.0h6.3v3.8h-6.3zM305.9 172.0h3.3v3.8h-3.3zM377.8 172.0h6.3v3.8h-6.3zM419.7 172.0h9.3v3.8h-9.3zM96.1 175.5h3.3v3.8h-3.3zM269.9 175.5h9.3v3.8h-9.3zM284.9 175.5h3.3v3.8h-3.3zM293.9 175.5h6.3v3.8h-6.3zM99.1 179.0h3.3v3.8h-3.3zM275.9 179.0h3.3v3.8h-3.3zM281.9 179.0h15.3v3.8h-15.3zM69.1 182.5h3.3v3.8h-3.3zM168.0 182.5h3.3v3.8h-3.3zM281.9 182.5h12.3v3.8h-12.3zM78.1 186.0h3.3v3.8h-3.3zM159.0 189.5h9.3v3.8h-9.3zM87.1 193.0h3.3v3.8h-3.3zM114.1 193.0h3.3v3.8h-3.3zM153.0 193.0h3.3v3.8h-3.3zM90.1 196.5h3.3v3.8h-3.3zM120.0 196.5h3.3v3.8h-3.3zM144.0 196.5h6.3v3.8h-6.3zM213.0 196.5h12.3v3.8h-12.3zM129.0 200.0h15.3v3.8h-15.3zM218.9 200.0h3.3v3.8h-3.3zM227.9 200.0h6.3v3.8h-6.3zM230.9 203.5h3.3v3.8h-3.3zM204.0 207.0h3.3v3.8h-3.3zM233.9 207.0h3.3v3.8h-3.3zM332.8 207.0h9.3v3.8h-9.3zM105.1 210.5h3.3v3.8h-3.3zM195.0 210.5h6.3v3.8h-6.3zM332.8 210.5h12.3v3.8h-12.3zM108.1 214.0h3.3v3.8h-3.3zM189.0 214.0h3.3v3.8h-3.3zM239.9 214.0h3.3v3.8h-3.3zM326.8 214.0h3.3v3.8h-3.3zM332.8 214.0h15.3v3.8h-15.3zM350.8 214.0h3.3v3.8h-3.3zM114.1 217.5h3.3v3.8h-3.3zM171.0 217.5h9.3v3.8h-9.3zM248.9 217.5h3.3v3.8h-3.3zM308.9 217.5h6.3v3.8h-6.3zM362.8 217.5h9.3v3.8h-9.3zM458.7 217.5h3.3v3.8h-3.3z"/>
<path fill="#270000" d="M90.1 172.0h6.3v3.8h-6.3zM174.0 172.0h6.3v3.8h-6.3zM260.9 172.0h42.3v3.8h-42.3zM392.8 172.0h3.3v3.8h-3.3zM99.1 175.5h9.3v3.8h-9.3zM150.0 175.5h3.3v3.8h-3.3zM156.0 175.5h15.3v3.8h-15.3zM102.1 179.0h6.3v3.8h-6.3zM150.0 179.0h18.3v3.8h-18.3zM108.1 182.5h9.3v3.8h-9.3zM141.0 182.5h3.3v3.8h-3.3zM147.0 182.5h15.3v3.8h-15.3zM165.0 182.5h3.3v3.8h-3.3zM69.1 186.0h6.3v3.8h-6.3zM111.1 186.0h6.3v3.8h-6.3zM138.0 186.0h3.3v3.8h-3.3zM147.0 186.0h9.3v3.8h-9.3zM75.1 189.5h6.3v3.8h-6.3zM114.1 189.5h36.3v3.8h-36.3zM84.1 193.0h3.3v3.8h-3.3zM123.0 193.0h24.3v3.8h-24.3zM87.1 196.5h3.3v3.8h-3.3zM90.1 200.0h3.3v3.8h-3.3zM93.1 203.5h3.3v3.8h-3.3zM96.1 207.0h3.3v3.8h-3.3zM213.0 207.0h3.3v3.8h-3.3zM221.9 207.0h3.3v3.8h-3.3zM99.1 210.5h3.3v3.8h-3.3zM207.0 210.5h18.3v3.8h-18.3zM227.9 210.5h3.3v3.8h-3.3zM102.1 214.0h3.3v3.8h-3.3zM207.0 214.0h21.3v3.8h-21.3zM111.1 217.5h3.3v3.8h-3.3zM183.0 217.5h15.3v3.8h-15.3zM201.0 217.5h3.3v3.8h-3.3zM239.9 217.5h3.3v3.8h-3.3zM323.8 217.5h30.3v3.8h-30.3z"/>
<path fill="#190000" d="M96.1 172.0h78.2v3.8h-78.2zM108.1 175.5h42.3v3.8h-42.3zM153.0 175.5h3.3v3.8h-3.3zM108.1 179.0h42.3v3.8h-42.3zM117.1 182.5h24.3v3.8h-24.3zM144.0 182.5h3.3v3.8h-3.3zM117.1 186.0h21.3v3.8h-21.3zM141.0 186.0h6.3v3.8h-6.3zM69.1 189.5h6.3v3.8h-6.3zM69.1 193.0h15.3v3.8h-15.3zM69.1 196.5h18.3v3.8h-18.3zM69.1 200.0h21.3v3.8h-21.3zM69.1 203.5h24.3v3.8h-24.3zM69.1 207.0h27.3v3.8h-27.3zM69.1 210.5h30.3v3.8h-30.3zM69.1 214.0h33.3v3.8h-33.3zM96.1 217.5h15.3v3.8h-15.3zM198.0 217.5h3.3v3.8h-3.3zM204.0 217.5h36.3v3.8h-36.3z"/>
<path fill="#500000" d="M183.0 172.0h3.3v3.8h-3.3zM239.9 172.0h3.3v3.8h-3.3zM308.9 172.0h3.3v3.8h-3.3zM428.7 172.0h9.3v3.8h-9.3zM174.0 175.5h6.3v3.8h-6.3zM260.9 175.5h9.3v3.8h-9.3zM299.9 175.5h3.3v3.8h-3.3zM389.8 175.5h21.3v3.8h-21.3zM413.7 175.5h3.3v3.8h-3.3zM171.0 179.0h3.3v3.8h-3.3zM266.9 179.0h9.3v3.8h-9.3zM278.9 179.0h3.3v3.8h-3.3zM296.9 179.0h3.3v3.8h-3.3zM392.8 179.0h12.3v3.8h-12.3zM410.8 179.0h3.3v3.8h-3.3zM72.1 182.5h3.3v3.8h-3.3zM102.1 182.5h3.3v3.8h-3.3zM293.9 182.5h6.3v3.8h-6.3zM401.8 182.5h3.3v3.8h-3.3zM105.1 186.0h3.3v3.8h-3.3zM284.9 186.0h9.3v3.8h-9.3zM84.1 189.5h3.3v3.8h-3.3zM108.1 189.5h3.3v3.8h-3.3zM159.0 193.0h3.3v3.8h-3.3zM216.0 193.0h9.3v3.8h-9.3zM93.1 196.5h3.3v3.8h-3.3zM117.1 196.5h3.3v3.8h-3.3zM210.0 196.5h3.3v3.8h-3.3zM224.9 196.5h6.3v3.8h-6.3zM123.0 200.0h6.3v3.8h-6.3zM144.0 200.0h3.3v3.8h-3.3zM207.0 200.0h3.3v3.8h-3.3zM338.8 200.0h3.3v3.8h-3.3zM99.1 203.5h3.3v3.8h-3.3zM204.0 203.5h3.3v3.8h-3.3zM233.9 203.5h3.3v3.8h-3.3zM329.8 203.5h12.3v3.8h-12.3zM102.1 207.0h3.3v3.8h-3.3zM201.0 207.0h3.3v3.8h-3.3zM236.9 207.0h3.3v3.8h-3.3zM326.8 207.0h6.3v3.8h-6.3zM341.8 207.0h9.3v3.8h-9.3zM192.0 210.5h3.3v3.8h-3.3zM326.8 210.5h6.3v3.8h-6.3zM344.8 210.5h12.3v3.8h-12.3zM186.0 214.0h3.3v3.8h-3.3zM323.8 214.0h3.3v3.8h-3.3zM347.8 214.0h3.3v3.8h-3.3zM353.8 214.0h3.3v3.8h-3.3zM117.1 217.5h3.3v3.8h-3.3zM165.0 217.5h6.3v3.8h-6.3zM251.9 217.5h3.3v3.8h-3.3zM302.9 217.5h6.3v3.8h-6.3zM455.7 217.5h3.3v3.8h-3.3z"/>
<path fill="#880000" d="M213.0 172.0h3.3v3.8h-3.3zM218.9 172.0h3.3v3.8h-3.3zM338.8 172.0h3.3v3.8h-3.3zM242.9 175.5h6.3v3.8h-6.3zM305.9 175.5h3.3v3.8h-3.3zM377.8 175.5h3.3v3.8h-3.3zM425.7 175.5h6.3v3.8h-6.3zM251.9 179.0h9.3v3.8h-9.3zM302.9 179.0h3.3v3.8h-3.3zM186.0 182.5h3.3v3.8h-3.3zM192.0 182.5h12.3v3.8h-12.3zM263.9 182.5h3.3v3.8h-3.3zM422.7 182.5h3.3v3.8h-3.3zM84.1 186.0h3.3v3.8h-3.3zM171.0 186.0h3.3v3.8h-3.3zM186.0 186.0h3.3v3.8h-3.3zM195.0 186.0h3.3v3.8h-3.3zM216.0 186.0h3.3v3.8h-3.3zM272.9 186.0h6.3v3.8h-6.3zM299.9 186.0h3.3v3.8h-3.3zM416.7 186.0h3.3v3.8h-3.3zM105.1 189.5h3.3v3.8h-3.3zM180.0 189.5h6.3v3.8h-6.3zM278.9 189.5h3.3v3.8h-3.3zM296.9 189.5h3.3v3.8h-3.3zM407.8 189.5h3.3v3.8h-3.3zM183.0 193.0h3.3v3.8h-3.3zM230.9 193.0h3.3v3.8h-3.3zM284.9 193.0h3.3v3.8h-3.3zM290.9 193.0h3.3v3.8h-3.3zM329.8 193.0h6.3v3.8h-6.3zM338.8 193.0h3.3v3.8h-3.3zM392.8 193.0h6.3v3.8h-6.3zM401.8 193.0h3.3v3.8h-3.3zM407.8 193.0h6.3v3.8h-6.3zM96.1 196.5h3.3v3.8h-3.3zM156.0 196.5h9.3v3.8h-9.3zM183.0 196.5h3.3v3.8h-3.3zM233.9 196.5h3.3v3.8h-3.3zM251.9 196.5h3.3v3.8h-3.3zM344.8 196.5h3.3v3.8h-3.3zM401.8 196.5h3.3v3.8h-3.3zM99.1 200.0h3.3v3.8h-3.3zM150.0 200.0h3.3v3.8h-3.3zM174.0 200.0h3.3v3.8h-3.3zM180.0 200.0h3.3v3.8h-3.3zM198.0 200.0h3.3v3.8h-3.3zM350.8 200.0h6.3v3.8h-6.3zM129.0 203.5h3.3v3.8h-3.3zM144.0 203.5h3.3v3.8h-3.3zM195.0 203.5h3.3v3.8h-3.3zM323.8 203.5h3.3v3.8h-3.3zM356.8 203.5h3.3v3.8h-3.3zM186.0 207.0h6.3v3.8h-6.3zM314.8 207.0h6.3v3.8h-6.3zM359.8 207.0h3.3v3.8h-3.3zM183.0 210.5h3.3v3.8h-3.3zM242.9 210.5h3.3v3.8h-3.3zM317.8 210.5h3.3v3.8h-3.3zM362.8 210.5h3.3v3.8h-3.3zM171.0 214.0h3.3v3.8h-3.3zM248.9 214.0h3.3v3.8h-3.3zM458.7 214.0h3.3v3.8h-3.3z"/>
<path fill="#340000" d="M248.9 172.0h12.3v3.8h-12.3zM302.9 172.0h3.3v3.8h-3.3zM383.8 172.0h9.3v3.8h-9.3zM395.8 172.0h24.3v3.8h-24.3zM171.0 175.5h3.3v3.8h-3.3zM278.9 175.5h6.3v3.8h-6.3zM287.9 175.5h6.3v3.8h-6.3zM168.0 179.0h3.3v3.8h-3.3zM105.1 182.5h3.3v3.8h-3.3zM162.0 182.5h3.3v3.8h-3.3zM75.1 186.0h3.3v3.8h-3.3zM108.1 186.0h3.3v3.8h-3.3zM156.0 186.0h12.3v3.8h-12.3zM81.1 189.5h3.3v3.8h-3.3zM111.1 189.5h3.3v3.8h-3.3zM150.0 189.5h9.3v3.8h-9.3zM117.1 193.0h6.3v3.8h-6.3zM147.0 193.0h6.3v3.8h-6.3zM123.0 196.5h21.3v3.8h-21.3zM93.1 200.0h3.3v3.8h-3.3zM210.0 200.0h9.3v3.8h-9.3zM221.9 200.0h6.3v3.8h-6.3zM96.1 203.5h3.3v3.8h-3.3zM207.0 203.5h24.3v3.8h-24.3zM99.1 207.0h3.3v3.8h-3.3zM207.0 207.0h6.3v3.8h-6.3zM216.0 207.0h6.3v3.8h-6.3zM224.9 207.0h9.3v3.8h-9.3zM102.1 210.5h3.3v3.8h-3.3zM201.0 210.5h6.3v3.8h-6.3zM224.9 210.5h3.3v3.8h-3.3zM230.9 210.5h9.3v3.8h-9.3zM105.1 214.0h3.3v3.8h-3.3zM192.0 214.0h15.3v3.8h-15.3zM227.9 214.0h12.3v3.8h-12.3zM329.8 214.0h3.3v3.8h-3.3zM180.0 217.5h3.3v3.8h-3.3zM242.9 217.5h6.3v3.8h-6.3zM314.8 217.5h9.3v3.8h-9.3zM353.8 217.5h9.3v3.8h-9.3z"/>
<path fill="#ce0000" d="M69.1 175.5h3.3v3.8h-3.3zM323.8 175.5h9.3v3.8h-9.3zM341.8 175.5h3.3v3.8h-3.3zM78.1 179.0h6.3v3.8h-6.3zM213.0 179.0h6.3v3.8h-6.3zM227.9 179.0h6.3v3.8h-6.3zM332.8 179.0h9.3v3.8h-9.3zM344.8 179.0h3.3v3.8h-3.3zM350.8 179.0h3.3v3.8h-3.3zM356.8 179.0h3.3v3.8h-3.3zM368.8 179.0h3.3v3.8h-3.3zM446.7 179.0h3.3v3.8h-3.3zM452.7 179.0h3.3v3.8h-3.3zM84.1 182.5h6.3v3.8h-6.3zM93.1 182.5h3.3v3.8h-3.3zM218.9 182.5h15.3v3.8h-15.3zM236.9 182.5h3.3v3.8h-3.3zM332.8 182.5h3.3v3.8h-3.3zM341.8 182.5h12.3v3.8h-12.3zM356.8 182.5h3.3v3.8h-3.3zM362.8 182.5h3.3v3.8h-3.3zM87.1 186.0h9.3v3.8h-9.3zM236.9 186.0h3.3v3.8h-3.3zM323.8 186.0h3.3v3.8h-3.3zM344.8 186.0h6.3v3.8h-6.3zM353.8 186.0h3.3v3.8h-3.3zM437.7 186.0h3.3v3.8h-3.3zM458.7 186.0h3.3v3.8h-3.3zM93.1 189.5h3.3v3.8h-3.3zM236.9 189.5h3.3v3.8h-3.3zM302.9 189.5h3.3v3.8h-3.3zM350.8 189.5h3.3v3.8h-3.3zM434.7 189.5h3.3v3.8h-3.3zM96.1 193.0h3.3v3.8h-3.3zM428.7 193.0h6.3v3.8h-6.3zM275.9 196.5h3.3v3.8h-3.3zM302.9 196.5h3.3v3.8h-3.3zM314.8 196.5h3.3v3.8h-3.3zM419.7 196.5h6.3v3.8h-6.3zM455.7 196.5h6.3v3.8h-6.3zM105.1 200.0h9.3v3.8h-9.3zM165.0 200.0h3.3v3.8h-3.3zM287.9 200.0h3.3v3.8h-3.3zM293.9 200.0h3.3v3.8h-3.3zM305.9 200.0h3.3v3.8h-3.3zM386.8 200.0h3.3v3.8h-3.3zM416.7 200.0h3.3v3.8h-3.3zM431.7 200.0h3.3v3.8h-3.3zM455.7 200.0h3.3v3.8h-3.3zM105.1 203.5h3.3v3.8h-3.3zM111.1 203.5h3.3v3.8h-3.3zM153.0 203.5h6.3v3.8h-6.3zM245.9 203.5h3.3v3.8h-3.3zM281.9 203.5h3.3v3.8h-3.3zM383.8 203.5h6.3v3.8h-6.3zM392.8 203.5h9.3v3.8h-9.3zM404.8 203.5h3.3v3.8h-3.3zM416.7 203.5h3.3v3.8h-3.3zM422.7 203.5h3.3v3.8h-3.3zM431.7 203.5h3.3v3.8h-3.3zM446.7 203.5h3.3v3.8h-3.3zM123.0 207.0h3.3v3.8h-3.3zM147.0 207.0h9.3v3.8h-9.3zM168.0 207.0h3.3v3.8h-3.3zM284.9 207.0h6.3v3.8h-6.3zM293.9 207.0h3.3v3.8h-3.3zM383.8 207.0h3.3v3.8h-3.3zM392.8 207.0h3.3v3.8h-3.3zM401.8 207.0h3.3v3.8h-3.3zM419.7 207.0h6.3v3.8h-6.3zM120.0 210.5h3.3v3.8h-3.3zM135.0 210.5h3.3v3.8h-3.3zM144.0 210.5h3.3v3.8h-3.3zM156.0 210.5h9.3v3.8h-9.3zM254.9 210.5h3.3v3.8h-3.3zM281.9 210.5h3.3v3.8h-3.3zM287.9 210.5h3.3v3.8h-3.3zM380.8 210.5h3.3v3.8h-3.3zM386.8 210.5h3.3v3.8h-3.3zM392.8 210.5h3.3v3.8h-3.3zM398.8 210.5h6.3v3.8h-6.3zM416.7 210.5h3.3v3.8h-3.3zM422.7 210.5h3.3v3.8h-3.3zM123.0 214.0h3.3v3.8h-3.3zM132.0 214.0h3.3v3.8h-3.3zM266.9 214.0h3.3v3.8h-3.3zM296.9 214.0h3.3v3.8h-3.3zM386.8 214.0h9.3v3.8h-9.3zM398.8 214.0h3.3v3.8h-3.3zM416.7 214.0h9.3v3.8h-9.3z"/>
<path fill="#c00000" d="M72.1 175.5h3.3v3.8h-3.3zM78.1 175.5h3.3v3.8h-3.3zM198.0 175.5h12.3v3.8h-12.3zM216.0 175.5h6.3v3.8h-6.3zM227.9 175.5h3.3v3.8h-3.3zM314.8 175.5h9.3v3.8h-9.3zM332.8 175.5h6.3v3.8h-6.3zM350.8 175.5h3.3v3.8h-3.3zM359.8 175.5h3.3v3.8h-3.3zM368.8 175.5h3.3v3.8h-3.3zM446.7 175.5h3.3v3.8h-3.3zM458.7 175.5h3.3v3.8h-3.3zM183.0 179.0h6.3v3.8h-6.3zM210.0 179.0h3.3v3.8h-3.3zM218.9 179.0h6.3v3.8h-6.3zM323.8 179.0h3.3v3.8h-3.3zM353.8 179.0h3.3v3.8h-3.3zM362.8 179.0h3.3v3.8h-3.3zM374.8 179.0h3.3v3.8h-3.3zM90.1 182.5h3.3v3.8h-3.3zM207.0 182.5h9.3v3.8h-9.3zM239.9 182.5h6.3v3.8h-6.3zM311.9 182.5h3.3v3.8h-3.3zM329.8 182.5h3.3v3.8h-3.3zM338.8 182.5h3.3v3.8h-3.3zM359.8 182.5h3.3v3.8h-3.3zM365.8 182.5h3.3v3.8h-3.3zM374.8 182.5h6.3v3.8h-6.3zM434.7 182.5h3.3v3.8h-3.3zM452.7 182.5h3.3v3.8h-3.3zM458.7 182.5h3.3v3.8h-3.3zM204.0 186.0h3.3v3.8h-3.3zM230.9 186.0h3.3v3.8h-3.3zM254.9 186.0h3.3v3.8h-3.3zM314.8 186.0h3.3v3.8h-3.3zM329.8 186.0h3.3v3.8h-3.3zM338.8 186.0h6.3v3.8h-6.3zM371.8 186.0h3.3v3.8h-3.3zM431.7 186.0h6.3v3.8h-6.3zM443.7 186.0h3.3v3.8h-3.3zM452.7 186.0h6.3v3.8h-6.3zM96.1 189.5h3.3v3.8h-3.3zM102.1 189.5h3.3v3.8h-3.3zM201.0 189.5h9.3v3.8h-9.3zM242.9 189.5h3.3v3.8h-3.3zM251.9 189.5h6.3v3.8h-6.3zM260.9 189.5h3.3v3.8h-3.3zM314.8 189.5h3.3v3.8h-3.3zM323.8 189.5h3.3v3.8h-3.3zM359.8 189.5h3.3v3.8h-3.3zM377.8 189.5h3.3v3.8h-3.3zM452.7 189.5h3.3v3.8h-3.3zM105.1 193.0h3.3v3.8h-3.3zM198.0 193.0h3.3v3.8h-3.3zM204.0 193.0h3.3v3.8h-3.3zM260.9 193.0h3.3v3.8h-3.3zM269.9 193.0h3.3v3.8h-3.3zM302.9 193.0h9.3v3.8h-9.3zM314.8 193.0h6.3v3.8h-6.3zM323.8 193.0h3.3v3.8h-3.3zM353.8 193.0h3.3v3.8h-3.3zM362.8 193.0h3.3v3.8h-3.3zM419.7 193.0h3.3v3.8h-3.3zM437.7 193.0h3.3v3.8h-3.3zM458.7 193.0h3.3v3.8h-3.3zM99.1 196.5h12.3v3.8h-12.3zM189.0 196.5h6.3v3.8h-6.3zM239.9 196.5h3.3v3.8h-3.3zM296.9 196.5h6.3v3.8h-6.3zM305.9 196.5h3.3v3.8h-3.3zM311.9 196.5h3.3v3.8h-3.3zM317.8 196.5h6.3v3.8h-6.3zM356.8 196.5h6.3v3.8h-6.3zM365.8 196.5h3.3v3.8h-3.3zM410.8 196.5h9.3v3.8h-9.3zM425.7 196.5h3.3v3.8h-3.3zM434.7 196.5h6.3v3.8h-6.3zM452.7 196.5h3.3v3.8h-3.3zM102.1 200.0h3.3v3.8h-3.3zM186.0 200.0h3.3v3.8h-3.3zM242.9 200.0h3.3v3.8h-3.3zM275.9 200.0h9.3v3.8h-9.3zM302.9 200.0h3.3v3.8h-3.3zM308.9 200.0h6.3v3.8h-6.3zM320.8 200.0h3.3v3.8h-3.3zM362.8 200.0h3.3v3.8h-3.3zM368.8 200.0h6.3v3.8h-6.3zM392.8 200.0h9.3v3.8h-9.3zM407.8 200.0h3.3v3.8h-3.3zM413.7 200.0h3.3v3.8h-3.3zM422.7 200.0h3.3v3.8h-3.3zM434.7 200.0h6.3v3.8h-6.3zM443.7 200.0h3.3v3.8h-3.3zM117.1 203.5h6.3v3.8h-6.3zM159.0 203.5h6.3v3.8h-6.3zM183.0 203.5h3.3v3.8h-3.3zM284.9 203.5h3.3v3.8h-3.3zM314.8 203.5h3.3v3.8h-3.3zM374.8 203.5h6.3v3.8h-6.3zM413.7 203.5h3.3v3.8h-3.3zM419.7 203.5h3.3v3.8h-3.3zM428.7 203.5h3.3v3.8h-3.3zM434.7 203.5h3.3v3.8h-3.3zM449.7 203.5h3.3v3.8h-3.3zM458.7 203.5h3.3v3.8h-3.3zM126.0 207.0h3.3v3.8h-3.3zM156.0 207.0h3.3v3.8h-3.3zM171.0 207.0h6.3v3.8h-6.3zM248.9 207.0h3.3v3.8h-3.3zM263.9 207.0h3.3v3.8h-3.3zM269.9 207.0h3.3v3.8h-3.3zM281.9 207.0h3.3v3.8h-3.3zM290.9 207.0h3.3v3.8h-3.3zM296.9 207.0h6.3v3.8h-6.3zM368.8 207.0h3.3v3.8h-3.3zM389.8 207.0h3.3v3.8h-3.3zM410.8 207.0h3.3v3.8h-3.3zM416.7 207.0h3.3v3.8h-3.3zM425.7 207.0h12.3v3.8h-12.3zM440.7 207.0h9.3v3.8h-9.3zM129.0 210.5h3.3v3.8h-3.3zM138.0 210.5h3.3v3.8h-3.3zM147.0 210.5h6.3v3.8h-6.3zM165.0 210.5h3.3v3.8h-3.3zM260.9 210.5h3.3v3.8h-3.3zM266.9 210.5h3.3v3.8h-3.3zM284.9 210.5h3.3v3.8h-3.3zM296.9 210.5h3.3v3.8h-3.3zM302.9 210.5h3.3v3.8h-3.3zM374.8 210.5h3.3v3.8h-3.3zM383.8 210.5h3.3v3.8h-3.3zM389.8 210.5h3.3v3.8h-3.3zM395.8 210.5h3.3v3.8h-3.3zM404.8 210.5h3.3v3.8h-3.3zM419.7 210.5h3.3v3.8h-3.3zM428.7 210.5h3.3v3.8h-3.3zM437.7 210.5h3.3v3.8h-3.3zM443.7 210.5h3.3v3.8h-3.3zM129.0 214.0h3.3v3.8h-3.3zM135.0 214.0h3.3v3.8h-3.3zM141.0 214.0h3.3v3.8h-3.3zM147.0 214.0h6.3v3.8h-6.3zM269.9 214.0h9.3v3.8h-9.3zM281.9 214.0h3.3v3.8h-3.3zM290.9 214.0h6.3v3.8h-6.3zM299.9 214.0h3.3v3.8h-3.3zM395.8 214.0h3.3v3.8h-3.3zM404.8 214.0h3.3v3.8h-3.3zM413.7 214.0h3.3v3.8h-3.3zM428.7 214.0h6.3v3.8h-6.3z"/>
<path fill="#b20000" d="M75.1 175.5h3.3v3.8h-3.3zM183.0 175.5h15.3v3.8h-15.3zM233.9 175.5h3.3v3.8h-3.3zM353.8 175.5h6.3v3.8h-6.3zM362.8 175.5h3.3v3.8h-3.3zM437.7 175.5h3.3v3.8h-3.3zM452.7 175.5h6.3v3.8h-6.3zM195.0 179.0h9.3v3.8h-9.3zM207.0 179.0h3.3v3.8h-3.3zM236.9 179.0h6.3v3.8h-6.3zM245.9 179.0h3.3v3.8h-3.3zM311.9 179.0h3.3v3.8h-3.3zM317.8 179.0h3.3v3.8h-3.3zM326.8 179.0h3.3v3.8h-3.3zM371.8 179.0h3.3v3.8h-3.3zM431.7 179.0h3.3v3.8h-3.3zM437.7 179.0h3.3v3.8h-3.3zM443.7 179.0h3.3v3.8h-3.3zM449.7 179.0h3.3v3.8h-3.3zM458.7 179.0h3.3v3.8h-3.3zM180.0 182.5h6.3v3.8h-6.3zM216.0 182.5h3.3v3.8h-3.3zM245.9 182.5h6.3v3.8h-6.3zM305.9 182.5h6.3v3.8h-6.3zM317.8 182.5h3.3v3.8h-3.3zM368.8 182.5h3.3v3.8h-3.3zM437.7 182.5h12.3v3.8h-12.3zM455.7 182.5h3.3v3.8h-3.3zM96.1 186.0h3.3v3.8h-3.3zM174.0 186.0h3.3v3.8h-3.3zM180.0 186.0h3.3v3.8h-3.3zM207.0 186.0h3.3v3.8h-3.3zM224.9 186.0h6.3v3.8h-6.3zM233.9 186.0h3.3v3.8h-3.3zM239.9 186.0h15.3v3.8h-15.3zM302.9 186.0h12.3v3.8h-12.3zM320.8 186.0h3.3v3.8h-3.3zM332.8 186.0h6.3v3.8h-6.3zM350.8 186.0h3.3v3.8h-3.3zM356.8 186.0h6.3v3.8h-6.3zM368.8 186.0h3.3v3.8h-3.3zM374.8 186.0h6.3v3.8h-6.3zM425.7 186.0h6.3v3.8h-6.3zM440.7 186.0h3.3v3.8h-3.3zM446.7 186.0h6.3v3.8h-6.3zM198.0 189.5h3.3v3.8h-3.3zM230.9 189.5h6.3v3.8h-6.3zM263.9 189.5h3.3v3.8h-3.3zM299.9 189.5h3.3v3.8h-3.3zM305.9 189.5h9.3v3.8h-9.3zM317.8 189.5h3.3v3.8h-3.3zM326.8 189.5h3.3v3.8h-3.3zM332.8 189.5h6.3v3.8h-6.3zM341.8 189.5h3.3v3.8h-3.3zM347.8 189.5h3.3v3.8h-3.3zM353.8 189.5h3.3v3.8h-3.3zM362.8 189.5h15.3v3.8h-15.3zM380.8 189.5h6.3v3.8h-6.3zM422.7 189.5h3.3v3.8h-3.3zM440.7 189.5h3.3v3.8h-3.3zM455.7 189.5h6.3v3.8h-6.3zM168.0 193.0h9.3v3.8h-9.3zM239.9 193.0h9.3v3.8h-9.3zM257.9 193.0h3.3v3.8h-3.3zM263.9 193.0h3.3v3.8h-3.3zM272.9 193.0h6.3v3.8h-6.3zM296.9 193.0h3.3v3.8h-3.3zM311.9 193.0h3.3v3.8h-3.3zM356.8 193.0h6.3v3.8h-6.3zM368.8 193.0h3.3v3.8h-3.3zM389.8 193.0h3.3v3.8h-3.3zM422.7 193.0h6.3v3.8h-6.3zM449.7 193.0h9.3v3.8h-9.3zM168.0 196.5h3.3v3.8h-3.3zM204.0 196.5h3.3v3.8h-3.3zM242.9 196.5h6.3v3.8h-6.3zM260.9 196.5h6.3v3.8h-6.3zM269.9 196.5h6.3v3.8h-6.3zM278.9 196.5h6.3v3.8h-6.3zM308.9 196.5h3.3v3.8h-3.3zM323.8 196.5h3.3v3.8h-3.3zM362.8 196.5h3.3v3.8h-3.3zM377.8 196.5h3.3v3.8h-3.3zM386.8 196.5h3.3v3.8h-3.3zM428.7 196.5h6.3v3.8h-6.3zM446.7 196.5h6.3v3.8h-6.3zM114.1 200.0h3.3v3.8h-3.3zM153.0 200.0h3.3v3.8h-3.3zM162.0 200.0h3.3v3.8h-3.3zM168.0 200.0h3.3v3.8h-3.3zM192.0 200.0h3.3v3.8h-3.3zM239.9 200.0h3.3v3.8h-3.3zM254.9 200.0h3.3v3.8h-3.3zM263.9 200.0h12.3v3.8h-12.3zM290.9 200.0h3.3v3.8h-3.3zM296.9 200.0h3.3v3.8h-3.3zM314.8 200.0h6.3v3.8h-6.3zM323.8 200.0h3.3v3.8h-3.3zM365.8 200.0h3.3v3.8h-3.3zM377.8 200.0h3.3v3.8h-3.3zM383.8 200.0h3.3v3.8h-3.3zM389.8 200.0h3.3v3.8h-3.3zM410.8 200.0h3.3v3.8h-3.3zM419.7 200.0h3.3v3.8h-3.3zM425.7 200.0h6.3v3.8h-6.3zM446.7 200.0h9.3v3.8h-9.3zM114.1 203.5h3.3v3.8h-3.3zM150.0 203.5h3.3v3.8h-3.3zM171.0 203.5h3.3v3.8h-3.3zM180.0 203.5h3.3v3.8h-3.3zM186.0 203.5h3.3v3.8h-3.3zM239.9 203.5h6.3v3.8h-6.3zM248.9 203.5h3.3v3.8h-3.3zM260.9 203.5h3.3v3.8h-3.3zM266.9 203.5h12.3v3.8h-12.3zM290.9 203.5h3.3v3.8h-3.3zM296.9 203.5h12.3v3.8h-12.3zM311.9 203.5h3.3v3.8h-3.3zM362.8 203.5h9.3v3.8h-9.3zM389.8 203.5h3.3v3.8h-3.3zM401.8 203.5h3.3v3.8h-3.3zM407.8 203.5h6.3v3.8h-6.3zM425.7 203.5h3.3v3.8h-3.3zM437.7 203.5h3.3v3.8h-3.3zM443.7 203.5h3.3v3.8h-3.3zM108.1 207.0h3.3v3.8h-3.3zM120.0 207.0h3.3v3.8h-3.3zM129.0 207.0h3.3v3.8h-3.3zM138.0 207.0h3.3v3.8h-3.3zM177.0 207.0h6.3v3.8h-6.3zM245.9 207.0h3.3v3.8h-3.3zM254.9 207.0h9.3v3.8h-9.3zM272.9 207.0h3.3v3.8h-3.3zM305.9 207.0h3.3v3.8h-3.3zM377.8 207.0h6.3v3.8h-6.3zM386.8 207.0h3.3v3.8h-3.3zM398.8 207.0h3.3v3.8h-3.3zM404.8 207.0h3.3v3.8h-3.3zM437.7 207.0h3.3v3.8h-3.3zM449.7 207.0h6.3v3.8h-6.3zM114.1 210.5h3.3v3.8h-3.3zM141.0 210.5h3.3v3.8h-3.3zM168.0 210.5h6.3v3.8h-6.3zM248.9 210.5h6.3v3.8h-6.3zM263.9 210.5h3.3v3.8h-3.3zM272.9 210.5h9.3v3.8h-9.3zM299.9 210.5h3.3v3.8h-3.3zM368.8 210.5h3.3v3.8h-3.3zM413.7 210.5h3.3v3.8h-3.3zM434.7 210.5h3.3v3.8h-3.3zM452.7 210.5h3.3v3.8h-3.3zM117.1 214.0h6.3v3.8h-6.3zM156.0 214.0h9.3v3.8h-9.3zM257.9 214.0h9.3v3.8h-9.3zM284.9 214.0h3.3v3.8h-3.3zM374.8 214.0h9.3v3.8h-9.3zM401.8 214.0h3.3v3.8h-3.3zM410.8 214.0h3.3v3.8h-3.3zM425.7 214.0h3.3v3.8h-3.3zM434.7 214.0h6.3v3.8h-6.3zM449.7 214.0h3.3v3.8h-3.3z"/>
<path fill="#ea0000" d="M81.1 175.5h3.3v3.8h-3.3zM224.9 179.0h3.3v3.8h-3.3zM99.1 189.5h3.3v3.8h-3.3zM123.0 210.5h3.3v3.8h-3.3zM126.0 214.0h3.3v3.8h-3.3zM138.0 214.0h3.3v3.8h-3.3zM144.0 214.0h3.3v3.8h-3.3z"/>
<path fill="#dc0000" d="M84.1 175.5h3.3v3.8h-3.3zM210.0 175.5h6.3v3.8h-6.3zM221.9 175.5h6.3v3.8h-6.3zM230.9 175.5h3.3v3.8h-3.3zM338.8 175.5h3.3v3.8h-3.3zM344.8 175.5h6.3v3.8h-6.3zM84.1 179.0h6.3v3.8h-6.3zM233.9 179.0h3.3v3.8h-3.3zM329.8 179.0h3.3v3.8h-3.3zM341.8 179.0h3.3v3.8h-3.3zM347.8 179.0h3.3v3.8h-3.3zM233.9 182.5h3.3v3.8h-3.3zM326.8 182.5h3.3v3.8h-3.3zM335.8 182.5h3.3v3.8h-3.3zM353.8 182.5h3.3v3.8h-3.3zM326.8 186.0h3.3v3.8h-3.3zM356.8 189.5h3.3v3.8h-3.3zM99.1 193.0h6.3v3.8h-6.3zM299.9 200.0h3.3v3.8h-3.3zM108.1 203.5h3.3v3.8h-3.3zM165.0 203.5h3.3v3.8h-3.3zM287.9 203.5h3.3v3.8h-3.3zM293.9 203.5h3.3v3.8h-3.3zM111.1 207.0h9.3v3.8h-9.3zM159.0 207.0h9.3v3.8h-9.3zM395.8 207.0h3.3v3.8h-3.3zM407.8 207.0h3.3v3.8h-3.3zM413.7 207.0h3.3v3.8h-3.3zM117.1 210.5h3.3v3.8h-3.3zM126.0 210.5h3.3v3.8h-3.3zM132.0 210.5h3.3v3.8h-3.3zM153.0 210.5h3.3v3.8h-3.3zM290.9 210.5h6.3v3.8h-6.3zM407.8 210.5h6.3v3.8h-6.3zM287.9 214.0h3.3v3.8h-3.3zM407.8 214.0h3.3v3.8h-3.3z"/>
<path fill="#a40000" d="M87.1 175.5h3.3v3.8h-3.3zM239.9 175.5h3.3v3.8h-3.3zM308.9 175.5h6.3v3.8h-6.3zM365.8 175.5h3.3v3.8h-3.3zM371.8 175.5h3.3v3.8h-3.3zM431.7 175.5h6.3v3.8h-6.3zM440.7 175.5h6.3v3.8h-6.3zM449.7 175.5h3.3v3.8h-3.3zM72.1 179.0h3.3v3.8h-3.3zM90.1 179.0h3.3v3.8h-3.3zM180.0 179.0h3.3v3.8h-3.3zM192.0 179.0h3.3v3.8h-3.3zM204.0 179.0h3.3v3.8h-3.3zM242.9 179.0h3.3v3.8h-3.3zM248.9 179.0h3.3v3.8h-3.3zM308.9 179.0h3.3v3.8h-3.3zM314.8 179.0h3.3v3.8h-3.3zM320.8 179.0h3.3v3.8h-3.3zM359.8 179.0h3.3v3.8h-3.3zM365.8 179.0h3.3v3.8h-3.3zM434.7 179.0h3.3v3.8h-3.3zM440.7 179.0h3.3v3.8h-3.3zM455.7 179.0h3.3v3.8h-3.3zM96.1 182.5h3.3v3.8h-3.3zM174.0 182.5h6.3v3.8h-6.3zM204.0 182.5h3.3v3.8h-3.3zM302.9 182.5h3.3v3.8h-3.3zM314.8 182.5h3.3v3.8h-3.3zM323.8 182.5h3.3v3.8h-3.3zM371.8 182.5h3.3v3.8h-3.3zM380.8 182.5h3.3v3.8h-3.3zM431.7 182.5h3.3v3.8h-3.3zM449.7 182.5h3.3v3.8h-3.3zM99.1 186.0h3.3v3.8h-3.3zM210.0 186.0h6.3v3.8h-6.3zM218.9 186.0h6.3v3.8h-6.3zM257.9 186.0h6.3v3.8h-6.3zM362.8 186.0h6.3v3.8h-6.3zM380.8 186.0h3.3v3.8h-3.3zM171.0 189.5h9.3v3.8h-9.3zM195.0 189.5h3.3v3.8h-3.3zM210.0 189.5h3.3v3.8h-3.3zM227.9 189.5h3.3v3.8h-3.3zM239.9 189.5h3.3v3.8h-3.3zM245.9 189.5h6.3v3.8h-6.3zM257.9 189.5h3.3v3.8h-3.3zM272.9 189.5h6.3v3.8h-6.3zM320.8 189.5h3.3v3.8h-3.3zM329.8 189.5h3.3v3.8h-3.3zM344.8 189.5h3.3v3.8h-3.3zM416.7 189.5h6.3v3.8h-6.3zM425.7 189.5h9.3v3.8h-9.3zM437.7 189.5h3.3v3.8h-3.3zM443.7 189.5h9.3v3.8h-9.3zM189.0 193.0h3.3v3.8h-3.3zM195.0 193.0h3.3v3.8h-3.3zM201.0 193.0h3.3v3.8h-3.3zM207.0 193.0h3.3v3.8h-3.3zM233.9 193.0h6.3v3.8h-6.3zM254.9 193.0h3.3v3.8h-3.3zM266.9 193.0h3.3v3.8h-3.3zM281.9 193.0h3.3v3.8h-3.3zM299.9 193.0h3.3v3.8h-3.3zM320.8 193.0h3.3v3.8h-3.3zM326.8 193.0h3.3v3.8h-3.3zM350.8 193.0h3.3v3.8h-3.3zM365.8 193.0h3.3v3.8h-3.3zM371.8 193.0h3.3v3.8h-3.3zM377.8 193.0h12.3v3.8h-12.3zM413.7 193.0h3.3v3.8h-3.3zM434.7 193.0h3.3v3.8h-3.3zM171.0 196.5h3.3v3.8h-3.3zM186.0 196.5h3.3v3.8h-3.3zM195.0 196.5h9.3v3.8h-9.3zM248.9 196.5h3.3v3.8h-3.3zM257.9 196.5h3.3v3.8h-3.3zM266.9 196.5h3.3v3.8h-3.3zM284.9 196.5h3.3v3.8h-3.3zM290.9 196.5h6.3v3.8h-6.3zM350.8 196.5h6.3v3.8h-6.3zM368.8 196.5h6.3v3.8h-6.3zM380.8 196.5h6.3v3.8h-6.3zM389.8 196.5h6.3v3.8h-6.3zM407.8 196.5h3.3v3.8h-3.3zM440.7 196.5h6.3v3.8h-6.3zM156.0 200.0h6.3v3.8h-6.3zM171.0 200.0h3.3v3.8h-3.3zM189.0 200.0h3.3v3.8h-3.3zM195.0 200.0h3.3v3.8h-3.3zM245.9 200.0h6.3v3.8h-6.3zM257.9 200.0h6.3v3.8h-6.3zM284.9 200.0h3.3v3.8h-3.3zM356.8 200.0h6.3v3.8h-6.3zM380.8 200.0h3.3v3.8h-3.3zM401.8 200.0h6.3v3.8h-6.3zM440.7 200.0h3.3v3.8h-3.3zM458.7 200.0h3.3v3.8h-3.3zM123.0 203.5h3.3v3.8h-3.3zM147.0 203.5h3.3v3.8h-3.3zM168.0 203.5h3.3v3.8h-3.3zM174.0 203.5h3.3v3.8h-3.3zM192.0 203.5h3.3v3.8h-3.3zM251.9 203.5h6.3v3.8h-6.3zM263.9 203.5h3.3v3.8h-3.3zM278.9 203.5h3.3v3.8h-3.3zM308.9 203.5h3.3v3.8h-3.3zM317.8 203.5h3.3v3.8h-3.3zM371.8 203.5h3.3v3.8h-3.3zM380.8 203.5h3.3v3.8h-3.3zM440.7 203.5h3.3v3.8h-3.3zM452.7 203.5h6.3v3.8h-6.3zM132.0 207.0h3.3v3.8h-3.3zM141.0 207.0h6.3v3.8h-6.3zM183.0 207.0h3.3v3.8h-3.3zM242.9 207.0h3.3v3.8h-3.3zM251.9 207.0h3.3v3.8h-3.3zM266.9 207.0h3.3v3.8h-3.3zM275.9 207.0h6.3v3.8h-6.3zM302.9 207.0h3.3v3.8h-3.3zM308.9 207.0h3.3v3.8h-3.3zM362.8 207.0h3.3v3.8h-3.3zM371.8 207.0h6.3v3.8h-6.3zM455.7 207.0h6.3v3.8h-6.3zM111.1 210.5h3.3v3.8h-3.3zM177.0 210.5h3.3v3.8h-3.3zM257.9 210.5h3.3v3.8h-3.3zM269.9 210.5h3.3v3.8h-3.3zM305.9 210.5h6.3v3.8h-6.3zM371.8 210.5h3.3v3.8h-3.3zM377.8 210.5h3.3v3.8h-3.3zM425.7 210.5h3.3v3.8h-3.3zM431.7 210.5h3.3v3.8h-3.3zM440.7 210.5h3.3v3.8h-3.3zM446.7 210.5h6.3v3.8h-6.3zM455.7 210.5h3.3v3.8h-3.3zM153.0 214.0h3.3v3.8h-3.3zM165.0 214.0h6.3v3.8h-6.3zM251.9 214.0h3.3v3.8h-3.3zM278.9 214.0h3.3v3.8h-3.3zM302.9 214.0h3.3v3.8h-3.3zM383.8 214.0h3.3v3.8h-3.3zM440.7 214.0h3.3v3.8h-3.3zM446.7 214.0h3.3v3.8h-3.3zM455.7 214.0h3.3v3.8h-3.3z"/>
<path fill="#960000" d="M236.9 175.5h3.3v3.8h-3.3zM374.8 175.5h3.3v3.8h-3.3zM75.1 179.0h3.3v3.8h-3.3zM93.1 179.0h3.3v3.8h-3.3zM189.0 179.0h3.3v3.8h-3.3zM305.9 179.0h3.3v3.8h-3.3zM377.8 179.0h6.3v3.8h-6.3zM425.7 179.0h6.3v3.8h-6.3zM81.1 182.5h3.3v3.8h-3.3zM189.0 182.5h3.3v3.8h-3.3zM251.9 182.5h12.3v3.8h-12.3zM320.8 182.5h3.3v3.8h-3.3zM425.7 182.5h6.3v3.8h-6.3zM177.0 186.0h3.3v3.8h-3.3zM183.0 186.0h3.3v3.8h-3.3zM198.0 186.0h6.3v3.8h-6.3zM263.9 186.0h3.3v3.8h-3.3zM317.8 186.0h3.3v3.8h-3.3zM383.8 186.0h3.3v3.8h-3.3zM419.7 186.0h6.3v3.8h-6.3zM90.1 189.5h3.3v3.8h-3.3zM192.0 189.5h3.3v3.8h-3.3zM266.9 189.5h6.3v3.8h-6.3zM338.8 189.5h3.3v3.8h-3.3zM386.8 189.5h3.3v3.8h-3.3zM410.8 189.5h6.3v3.8h-6.3zM93.1 193.0h3.3v3.8h-3.3zM108.1 193.0h3.3v3.8h-3.3zM177.0 193.0h3.3v3.8h-3.3zM186.0 193.0h3.3v3.8h-3.3zM192.0 193.0h3.3v3.8h-3.3zM248.9 193.0h6.3v3.8h-6.3zM278.9 193.0h3.3v3.8h-3.3zM341.8 193.0h9.3v3.8h-9.3zM374.8 193.0h3.3v3.8h-3.3zM416.7 193.0h3.3v3.8h-3.3zM440.7 193.0h9.3v3.8h-9.3zM111.1 196.5h3.3v3.8h-3.3zM165.0 196.5h3.3v3.8h-3.3zM174.0 196.5h6.3v3.8h-6.3zM236.9 196.5h3.3v3.8h-3.3zM254.9 196.5h3.3v3.8h-3.3zM287.9 196.5h3.3v3.8h-3.3zM326.8 196.5h3.3v3.8h-3.3zM374.8 196.5h3.3v3.8h-3.3zM395.8 196.5h6.3v3.8h-6.3zM404.8 196.5h3.3v3.8h-3.3zM117.1 200.0h3.3v3.8h-3.3zM177.0 200.0h3.3v3.8h-3.3zM183.0 200.0h3.3v3.8h-3.3zM201.0 200.0h3.3v3.8h-3.3zM236.9 200.0h3.3v3.8h-3.3zM251.9 200.0h3.3v3.8h-3.3zM374.8 200.0h3.3v3.8h-3.3zM177.0 203.5h3.3v3.8h-3.3zM189.0 203.5h3.3v3.8h-3.3zM257.9 203.5h3.3v3.8h-3.3zM320.8 203.5h3.3v3.8h-3.3zM359.8 203.5h3.3v3.8h-3.3zM135.0 207.0h3.3v3.8h-3.3zM311.9 207.0h3.3v3.8h-3.3zM320.8 207.0h3.3v3.8h-3.3zM365.8 207.0h3.3v3.8h-3.3zM174.0 210.5h3.3v3.8h-3.3zM180.0 210.5h3.3v3.8h-3.3zM245.9 210.5h3.3v3.8h-3.3zM311.9 210.5h3.3v3.8h-3.3zM365.8 210.5h3.3v3.8h-3.3zM458.7 210.5h3.3v3.8h-3.3zM114.1 214.0h3.3v3.8h-3.3zM174.0 214.0h6.3v3.8h-6.3zM254.9 214.0h3.3v3.8h-3.3zM305.9 214.0h6.3v3.8h-6.3zM368.8 214.0h6.3v3.8h-6.3zM443.7 214.0h3.3v3.8h-3.3zM452.7 214.0h3.3v3.8h-3.3z"/>
<path fill="#0b0000" d="M69.1 217.5h27.3v3.8h-27.3z"/></g>
<g shape-rendering="crispEdges"><path fill="#0b0000" d="M69.1 227.1h33.3v3.8h-33.3zM105.1 227.1h3.3v3.8h-3.3zM69.1 272.9h3.3v3.8h-3.3z"/>
<path fill="#190000" d="M102.1 227.1h3.3v3.8h-3.3zM108.1 227.1h33.3v3.8h-33.3zM233.9 227.1h12.3v3.8h-12.3zM248.9 227.1h3.3v3.8h-3.3zM254.9 227.1h3.3v3.8h-3.3zM69.1 230.6h60.2v3.8h-60.2zM69.1 234.1h57.2v3.8h-57.2zM72.1 237.7h48.3v3.8h-48.3zM78.1 241.2h36.3v3.8h-36.3zM84.1 244.7h30.3v3.8h-30.3zM87.1 248.2h3.3v3.8h-3.3zM93.1 248.2h9.3v3.8h-9.3zM69.1 265.8h3.3v3.8h-3.3zM69.1 269.4h6.3v3.8h-6.3zM150.0 269.4h3.3v3.8h-3.3zM168.0 269.4h3.3v3.8h-3.3zM72.1 272.9h9.3v3.8h-9.3zM129.0 272.9h69.2v3.8h-69.2z"/>
<path fill="#270000" d="M141.0 227.1h3.3v3.8h-3.3zM218.9 227.1h15.3v3.8h-15.3zM245.9 227.1h3.3v3.8h-3.3zM251.9 227.1h3.3v3.8h-3.3zM257.9 227.1h12.3v3.8h-12.3zM350.8 227.1h3.3v3.8h-3.3zM356.8 227.1h6.3v3.8h-6.3zM129.0 230.6h6.3v3.8h-6.3zM236.9 230.6h6.3v3.8h-6.3zM251.9 230.6h3.3v3.8h-3.3zM126.0 234.1h6.3v3.8h-6.3zM120.0 237.7h9.3v3.8h-9.3zM75.1 241.2h3.3v3.8h-3.3zM114.1 241.2h12.3v3.8h-12.3zM78.1 244.7h6.3v3.8h-6.3zM114.1 244.7h9.3v3.8h-9.3zM84.1 248.2h3.3v3.8h-3.3zM90.1 248.2h3.3v3.8h-3.3zM102.1 248.2h15.3v3.8h-15.3zM90.1 251.8h24.3v3.8h-24.3zM165.0 255.3h3.3v3.8h-3.3zM153.0 258.8h21.3v3.8h-21.3zM177.0 258.8h3.3v3.8h-3.3zM144.0 262.3h39.3v3.8h-39.3zM72.1 265.8h3.3v3.8h-3.3zM138.0 265.8h51.2v3.8h-51.2zM75.1 269.4h3.3v3.8h-3.3zM132.0 269.4h18.3v3.8h-18.3zM153.0 269.4h15.3v3.8h-15.3zM171.0 269.4h21.3v3.8h-21.3zM81.1 272.9h3.3v3.8h-3.3zM123.0 272.9h6.3v3.8h-6.3zM198.0 272.9h15.3v3.8h-15.3zM299.9 272.9h3.3v3.8h-3.3zM305.9 272.9h12.3v3.8h-12.3z"/>
<path fill="#340000" d="M144.0 227.1h6.3v3.8h-6.3zM216.0 227.1h3.3v3.8h-3.3zM269.9 227.1h9.3v3.8h-9.3zM338.8 227.1h12.3v3.8h-12.3zM353.8 227.1h3.3v3.8h-3.3zM362.8 227.1h27.3v3.8h-27.3zM135.0 230.6h3.3v3.8h-3.3zM230.9 230.6h6.3v3.8h-6.3zM242.9 230.6h9.3v3.8h-9.3zM254.9 230.6h6.3v3.8h-6.3zM132.0 234.1h3.3v3.8h-3.3zM230.9 234.1h24.3v3.8h-24.3zM69.1 237.7h3.3v3.8h-3.3zM129.0 237.7h3.3v3.8h-3.3zM239.9 237.7h15.3v3.8h-15.3zM72.1 241.2h3.3v3.8h-3.3zM126.0 241.2h3.3v3.8h-3.3zM75.1 244.7h3.3v3.8h-3.3zM81.1 248.2h3.3v3.8h-3.3zM117.1 248.2h3.3v3.8h-3.3zM84.1 251.8h6.3v3.8h-6.3zM165.0 251.8h6.3v3.8h-6.3zM93.1 255.3h12.3v3.8h-12.3zM150.0 255.3h15.3v3.8h-15.3zM168.0 255.3h12.3v3.8h-12.3zM141.0 258.8h12.3v3.8h-12.3zM174.0 258.8h3.3v3.8h-3.3zM180.0 258.8h6.3v3.8h-6.3zM69.1 262.3h3.3v3.8h-3.3zM138.0 262.3h6.3v3.8h-6.3zM183.0 262.3h6.3v3.8h-6.3zM135.0 265.8h3.3v3.8h-3.3zM189.0 265.8h3.3v3.8h-3.3zM192.0 269.4h12.3v3.8h-12.3zM120.0 272.9h3.3v3.8h-3.3zM213.0 272.9h9.3v3.8h-9.3zM293.9 272.9h6.3v3.8h-6.3zM302.9 272.9h3.3v3.8h-3.3zM317.8 272.9h15.3v3.8h-15.3zM407.8 272.9h45.3v3.8h-45.3z"/>
<path fill="#500000" d="M150.0 227.1h15.3v3.8h-15.3zM207.0 227.1h3.3v3.8h-3.3zM281.9 227.1h6.3v3.8h-6.3zM314.8 227.1h3.3v3.8h-3.3zM320.8 227.1h6.3v3.8h-6.3zM398.8 227.1h3.3v3.8h-3.3zM218.9 230.6h6.3v3.8h-6.3zM266.9 230.6h6.3v3.8h-6.3zM347.8 230.6h9.3v3.8h-9.3zM362.8 230.6h6.3v3.8h-6.3zM371.8 230.6h12.3v3.8h-12.3zM221.9 234.1h6.3v3.8h-6.3zM263.9 234.1h6.3v3.8h-6.3zM350.8 234.1h3.3v3.8h-3.3zM356.8 234.1h3.3v3.8h-3.3zM368.8 234.1h3.3v3.8h-3.3zM374.8 234.1h3.3v3.8h-3.3zM132.0 237.7h3.3v3.8h-3.3zM227.9 237.7h3.3v3.8h-3.3zM257.9 237.7h6.3v3.8h-6.3zM362.8 237.7h3.3v3.8h-3.3zM254.9 241.2h3.3v3.8h-3.3zM126.0 244.7h3.3v3.8h-3.3zM236.9 244.7h6.3v3.8h-6.3zM248.9 244.7h6.3v3.8h-6.3zM123.0 248.2h3.3v3.8h-3.3zM165.0 248.2h3.3v3.8h-3.3zM245.9 248.2h3.3v3.8h-3.3zM81.1 251.8h3.3v3.8h-3.3zM147.0 251.8h9.3v3.8h-9.3zM180.0 251.8h3.3v3.8h-3.3zM87.1 255.3h3.3v3.8h-3.3zM111.1 255.3h3.3v3.8h-3.3zM183.0 255.3h3.3v3.8h-3.3zM138.0 258.8h3.3v3.8h-3.3zM186.0 258.8h3.3v3.8h-3.3zM195.0 262.3h3.3v3.8h-3.3zM201.0 265.8h3.3v3.8h-3.3zM308.9 265.8h12.3v3.8h-12.3zM425.7 265.8h3.3v3.8h-3.3zM210.0 269.4h3.3v3.8h-3.3zM299.9 269.4h6.3v3.8h-6.3zM314.8 269.4h6.3v3.8h-6.3zM323.8 269.4h3.3v3.8h-3.3zM416.7 269.4h6.3v3.8h-6.3zM428.7 269.4h3.3v3.8h-3.3zM117.1 272.9h3.3v3.8h-3.3zM224.9 272.9h6.3v3.8h-6.3zM275.9 272.9h12.3v3.8h-12.3zM335.8 272.9h3.3v3.8h-3.3zM455.7 272.9h6.3v3.8h-6.3z"/>
<path fill="#6c0000" d="M165.0 227.1h15.3v3.8h-15.3zM183.0 227.1h3.3v3.8h-3.3zM192.0 227.1h3.3v3.8h-3.3zM201.0 227.1h3.3v3.8h-3.3zM299.9 227.1h9.3v3.8h-9.3zM404.8 227.1h12.3v3.8h-12.3zM419.7 227.1h3.3v3.8h-3.3zM431.7 227.1h3.3v3.8h-3.3zM440.7 227.1h6.3v3.8h-6.3zM455.7 227.1h3.3v3.8h-3.3zM144.0 230.6h3.3v3.8h-3.3zM335.8 230.6h6.3v3.8h-6.3zM389.8 230.6h6.3v3.8h-6.3zM138.0 234.1h3.3v3.8h-3.3zM341.8 234.1h3.3v3.8h-3.3zM380.8 234.1h9.3v3.8h-9.3zM224.9 237.7h3.3v3.8h-3.3zM263.9 237.7h3.3v3.8h-3.3zM347.8 237.7h3.3v3.8h-3.3zM374.8 237.7h6.3v3.8h-6.3zM69.1 241.2h3.3v3.8h-3.3zM132.0 241.2h3.3v3.8h-3.3zM353.8 241.2h3.3v3.8h-3.3zM374.8 241.2h3.3v3.8h-3.3zM254.9 244.7h3.3v3.8h-3.3zM362.8 244.7h3.3v3.8h-3.3zM75.1 248.2h3.3v3.8h-3.3zM153.0 248.2h6.3v3.8h-6.3zM177.0 248.2h3.3v3.8h-3.3zM144.0 251.8h3.3v3.8h-3.3zM84.1 255.3h3.3v3.8h-3.3zM114.1 255.3h3.3v3.8h-3.3zM189.0 255.3h3.3v3.8h-3.3zM93.1 258.8h3.3v3.8h-3.3zM105.1 258.8h3.3v3.8h-3.3zM135.0 258.8h3.3v3.8h-3.3zM311.9 258.8h3.3v3.8h-3.3zM419.7 258.8h3.3v3.8h-3.3zM428.7 258.8h3.3v3.8h-3.3zM434.7 258.8h3.3v3.8h-3.3zM198.0 262.3h6.3v3.8h-6.3zM320.8 262.3h3.3v3.8h-3.3zM413.7 262.3h3.3v3.8h-3.3zM425.7 262.3h3.3v3.8h-3.3zM431.7 262.3h6.3v3.8h-6.3zM440.7 262.3h6.3v3.8h-6.3zM210.0 265.8h3.3v3.8h-3.3zM296.9 265.8h6.3v3.8h-6.3zM413.7 265.8h3.3v3.8h-3.3zM419.7 265.8h3.3v3.8h-3.3zM434.7 265.8h3.3v3.8h-3.3zM440.7 265.8h3.3v3.8h-3.3zM446.7 265.8h3.3v3.8h-3.3zM296.9 269.4h3.3v3.8h-3.3zM326.8 269.4h6.3v3.8h-6.3zM410.8 269.4h3.3v3.8h-3.3zM443.7 269.4h6.3v3.8h-6.3zM452.7 269.4h3.3v3.8h-3.3zM90.1 272.9h9.3v3.8h-9.3zM108.1 272.9h6.3v3.8h-6.3zM236.9 272.9h6.3v3.8h-6.3zM245.9 272.9h12.3v3.8h-12.3zM260.9 272.9h3.3v3.8h-3.3zM266.9 272.9h6.3v3.8h-6.3zM344.8 272.9h3.3v3.8h-3.3zM350.8 272.9h3.3v3.8h-3.3zM356.8 272.9h27.3v3.8h-27.3z"/>
<path fill="#5e0000" d="M180.0 227.1h3.3v3.8h-3.3zM186.0 227.1h6.3v3.8h-6.3zM195.0 227.1h6.3v3.8h-6.3zM204.0 227.1h3.3v3.8h-3.3zM287.9 227.1h12.3v3.8h-12.3zM308.9 227.1h6.3v3.8h-6.3zM317.8 227.1h3.3v3.8h-3.3zM401.8 227.1h3.3v3.8h-3.3zM416.7 227.1h3.3v3.8h-3.3zM449.7 227.1h6.3v3.8h-6.3zM141.0 230.6h3.3v3.8h-3.3zM216.0 230.6h3.3v3.8h-3.3zM272.9 230.6h3.3v3.8h-3.3zM341.8 230.6h6.3v3.8h-6.3zM383.8 230.6h6.3v3.8h-6.3zM344.8 234.1h6.3v3.8h-6.3zM353.8 234.1h3.3v3.8h-3.3zM359.8 234.1h9.3v3.8h-9.3zM371.8 234.1h3.3v3.8h-3.3zM377.8 234.1h3.3v3.8h-3.3zM135.0 237.7h3.3v3.8h-3.3zM353.8 237.7h9.3v3.8h-9.3zM365.8 237.7h9.3v3.8h-9.3zM380.8 237.7h3.3v3.8h-3.3zM230.9 241.2h3.3v3.8h-3.3zM257.9 241.2h3.3v3.8h-3.3zM362.8 241.2h12.3v3.8h-12.3zM233.9 244.7h3.3v3.8h-3.3zM159.0 248.2h6.3v3.8h-6.3zM168.0 248.2h9.3v3.8h-9.3zM239.9 248.2h6.3v3.8h-6.3zM248.9 248.2h6.3v3.8h-6.3zM117.1 251.8h3.3v3.8h-3.3zM141.0 255.3h3.3v3.8h-3.3zM186.0 255.3h3.3v3.8h-3.3zM69.1 258.8h3.3v3.8h-3.3zM96.1 258.8h9.3v3.8h-9.3zM189.0 258.8h3.3v3.8h-3.3zM72.1 262.3h3.3v3.8h-3.3zM132.0 262.3h3.3v3.8h-3.3zM305.9 262.3h12.3v3.8h-12.3zM419.7 262.3h6.3v3.8h-6.3zM437.7 262.3h3.3v3.8h-3.3zM75.1 265.8h3.3v3.8h-3.3zM129.0 265.8h3.3v3.8h-3.3zM204.0 265.8h6.3v3.8h-6.3zM302.9 265.8h6.3v3.8h-6.3zM320.8 265.8h3.3v3.8h-3.3zM416.7 265.8h3.3v3.8h-3.3zM422.7 265.8h3.3v3.8h-3.3zM428.7 265.8h6.3v3.8h-6.3zM437.7 265.8h3.3v3.8h-3.3zM78.1 269.4h3.3v3.8h-3.3zM126.0 269.4h3.3v3.8h-3.3zM213.0 269.4h3.3v3.8h-3.3zM320.8 269.4h3.3v3.8h-3.3zM413.7 269.4h3.3v3.8h-3.3zM422.7 269.4h6.3v3.8h-6.3zM431.7 269.4h12.3v3.8h-12.3zM87.1 272.9h3.3v3.8h-3.3zM114.1 272.9h3.3v3.8h-3.3zM230.9 272.9h6.3v3.8h-6.3zM257.9 272.9h3.3v3.8h-3.3zM263.9 272.9h3.3v3.8h-3.3zM272.9 272.9h3.3v3.8h-3.3zM338.8 272.9h6.3v3.8h-6.3zM347.8 272.9h3.3v3.8h-3.3zM353.8 272.9h3.3v3.8h-3.3zM386.8 272.9h12.3v3.8h-12.3z"/>
<path fill="#420000" d="M210.0 227.1h6.3v3.8h-6.3zM278.9 227.1h3.3v3.8h-3.3zM326.8 227.1h12.3v3.8h-12.3zM389.8 227.1h9.3v3.8h-9.3zM138.0 230.6h3.3v3.8h-3.3zM224.9 230.6h6.3v3.8h-6.3zM260.9 230.6h6.3v3.8h-6.3zM356.8 230.6h6.3v3.8h-6.3zM368.8 230.6h3.3v3.8h-3.3zM135.0 234.1h3.3v3.8h-3.3zM227.9 234.1h3.3v3.8h-3.3zM254.9 234.1h9.3v3.8h-9.3zM230.9 237.7h9.3v3.8h-9.3zM254.9 237.7h3.3v3.8h-3.3zM129.0 241.2h3.3v3.8h-3.3zM233.9 241.2h21.3v3.8h-21.3zM123.0 244.7h3.3v3.8h-3.3zM242.9 244.7h6.3v3.8h-6.3zM78.1 248.2h3.3v3.8h-3.3zM120.0 248.2h3.3v3.8h-3.3zM114.1 251.8h3.3v3.8h-3.3zM156.0 251.8h9.3v3.8h-9.3zM171.0 251.8h9.3v3.8h-9.3zM90.1 255.3h3.3v3.8h-3.3zM105.1 255.3h6.3v3.8h-6.3zM144.0 255.3h6.3v3.8h-6.3zM180.0 255.3h3.3v3.8h-3.3zM135.0 262.3h3.3v3.8h-3.3zM189.0 262.3h6.3v3.8h-6.3zM132.0 265.8h3.3v3.8h-3.3zM192.0 265.8h9.3v3.8h-9.3zM129.0 269.4h3.3v3.8h-3.3zM204.0 269.4h6.3v3.8h-6.3zM305.9 269.4h9.3v3.8h-9.3zM84.1 272.9h3.3v3.8h-3.3zM221.9 272.9h3.3v3.8h-3.3zM287.9 272.9h6.3v3.8h-6.3zM332.8 272.9h3.3v3.8h-3.3zM398.8 272.9h9.3v3.8h-9.3zM452.7 272.9h3.3v3.8h-3.3z"/>
<path fill="#7a0000" d="M422.7 227.1h9.3v3.8h-9.3zM434.7 227.1h6.3v3.8h-6.3zM446.7 227.1h3.3v3.8h-3.3zM458.7 227.1h3.3v3.8h-3.3zM213.0 230.6h3.3v3.8h-3.3zM275.9 230.6h3.3v3.8h-3.3zM218.9 234.1h3.3v3.8h-3.3zM269.9 234.1h6.3v3.8h-6.3zM338.8 234.1h3.3v3.8h-3.3zM221.9 237.7h3.3v3.8h-3.3zM266.9 237.7h3.3v3.8h-3.3zM344.8 237.7h3.3v3.8h-3.3zM350.8 237.7h3.3v3.8h-3.3zM383.8 237.7h6.3v3.8h-6.3zM227.9 241.2h3.3v3.8h-3.3zM260.9 241.2h3.3v3.8h-3.3zM347.8 241.2h6.3v3.8h-6.3zM356.8 241.2h6.3v3.8h-6.3zM377.8 241.2h3.3v3.8h-3.3zM383.8 241.2h3.3v3.8h-3.3zM72.1 244.7h3.3v3.8h-3.3zM129.0 244.7h3.3v3.8h-3.3zM174.0 244.7h3.3v3.8h-3.3zM230.9 244.7h3.3v3.8h-3.3zM257.9 244.7h3.3v3.8h-3.3zM356.8 244.7h6.3v3.8h-6.3zM365.8 244.7h9.3v3.8h-9.3zM377.8 244.7h3.3v3.8h-3.3zM126.0 248.2h3.3v3.8h-3.3zM150.0 248.2h3.3v3.8h-3.3zM180.0 248.2h3.3v3.8h-3.3zM233.9 248.2h6.3v3.8h-6.3zM120.0 251.8h3.3v3.8h-3.3zM183.0 251.8h3.3v3.8h-3.3zM239.9 251.8h15.3v3.8h-15.3zM138.0 255.3h3.3v3.8h-3.3zM425.7 255.3h3.3v3.8h-3.3zM431.7 255.3h3.3v3.8h-3.3zM437.7 255.3h3.3v3.8h-3.3zM108.1 258.8h6.3v3.8h-6.3zM192.0 258.8h6.3v3.8h-6.3zM305.9 258.8h6.3v3.8h-6.3zM314.8 258.8h6.3v3.8h-6.3zM416.7 258.8h3.3v3.8h-3.3zM425.7 258.8h3.3v3.8h-3.3zM437.7 258.8h9.3v3.8h-9.3zM204.0 262.3h3.3v3.8h-3.3zM299.9 262.3h6.3v3.8h-6.3zM317.8 262.3h3.3v3.8h-3.3zM416.7 262.3h3.3v3.8h-3.3zM428.7 262.3h3.3v3.8h-3.3zM323.8 265.8h3.3v3.8h-3.3zM410.8 265.8h3.3v3.8h-3.3zM443.7 265.8h3.3v3.8h-3.3zM449.7 265.8h6.3v3.8h-6.3zM123.0 269.4h3.3v3.8h-3.3zM216.0 269.4h6.3v3.8h-6.3zM290.9 269.4h6.3v3.8h-6.3zM332.8 269.4h3.3v3.8h-3.3zM404.8 269.4h6.3v3.8h-6.3zM449.7 269.4h3.3v3.8h-3.3zM99.1 272.9h9.3v3.8h-9.3zM242.9 272.9h3.3v3.8h-3.3zM383.8 272.9h3.3v3.8h-3.3z"/>
<path fill="#960000" d="M147.0 230.6h3.3v3.8h-3.3zM281.9 230.6h3.3v3.8h-3.3zM314.8 230.6h3.3v3.8h-3.3zM320.8 230.6h12.3v3.8h-12.3zM395.8 230.6h6.3v3.8h-6.3zM213.0 234.1h6.3v3.8h-6.3zM275.9 234.1h3.3v3.8h-3.3zM332.8 234.1h3.3v3.8h-3.3zM395.8 234.1h3.3v3.8h-3.3zM216.0 237.7h3.3v3.8h-3.3zM269.9 237.7h6.3v3.8h-6.3zM296.9 237.7h3.3v3.8h-3.3zM335.8 237.7h3.3v3.8h-3.3zM389.8 237.7h3.3v3.8h-3.3zM135.0 241.2h3.3v3.8h-3.3zM195.0 241.2h6.3v3.8h-6.3zM207.0 241.2h3.3v3.8h-3.3zM221.9 241.2h6.3v3.8h-6.3zM293.9 241.2h3.3v3.8h-3.3zM389.8 241.2h3.3v3.8h-3.3zM153.0 244.7h9.3v3.8h-9.3zM177.0 244.7h3.3v3.8h-3.3zM198.0 244.7h3.3v3.8h-3.3zM204.0 244.7h6.3v3.8h-6.3zM260.9 244.7h3.3v3.8h-3.3zM290.9 244.7h6.3v3.8h-6.3zM350.8 244.7h6.3v3.8h-6.3zM204.0 248.2h3.3v3.8h-3.3zM227.9 248.2h3.3v3.8h-3.3zM257.9 248.2h6.3v3.8h-6.3zM278.9 248.2h3.3v3.8h-3.3zM290.9 248.2h6.3v3.8h-6.3zM356.8 248.2h6.3v3.8h-6.3zM368.8 248.2h6.3v3.8h-6.3zM377.8 248.2h3.3v3.8h-3.3zM428.7 248.2h3.3v3.8h-3.3zM141.0 251.8h3.3v3.8h-3.3zM186.0 251.8h6.3v3.8h-6.3zM236.9 251.8h3.3v3.8h-3.3zM275.9 251.8h3.3v3.8h-3.3zM287.9 251.8h3.3v3.8h-3.3zM308.9 251.8h3.3v3.8h-3.3zM368.8 251.8h3.3v3.8h-3.3zM374.8 251.8h3.3v3.8h-3.3zM422.7 251.8h3.3v3.8h-3.3zM431.7 251.8h3.3v3.8h-3.3zM440.7 251.8h6.3v3.8h-6.3zM135.0 255.3h3.3v3.8h-3.3zM192.0 255.3h3.3v3.8h-3.3zM198.0 255.3h3.3v3.8h-3.3zM248.9 255.3h6.3v3.8h-6.3zM287.9 255.3h3.3v3.8h-3.3zM311.9 255.3h3.3v3.8h-3.3zM317.8 255.3h6.3v3.8h-6.3zM413.7 255.3h3.3v3.8h-3.3zM428.7 255.3h3.3v3.8h-3.3zM443.7 255.3h6.3v3.8h-6.3zM87.1 258.8h3.3v3.8h-3.3zM201.0 258.8h3.3v3.8h-3.3zM296.9 258.8h6.3v3.8h-6.3zM320.8 258.8h6.3v3.8h-6.3zM449.7 258.8h6.3v3.8h-6.3zM75.1 262.3h3.3v3.8h-3.3zM96.1 262.3h3.3v3.8h-3.3zM129.0 262.3h3.3v3.8h-3.3zM213.0 262.3h3.3v3.8h-3.3zM293.9 262.3h3.3v3.8h-3.3zM323.8 262.3h3.3v3.8h-3.3zM329.8 262.3h3.3v3.8h-3.3zM404.8 262.3h6.3v3.8h-6.3zM449.7 262.3h3.3v3.8h-3.3zM458.7 262.3h3.3v3.8h-3.3zM78.1 265.8h3.3v3.8h-3.3zM216.0 265.8h12.3v3.8h-12.3zM281.9 265.8h3.3v3.8h-3.3zM293.9 265.8h3.3v3.8h-3.3zM329.8 265.8h3.3v3.8h-3.3zM401.8 265.8h3.3v3.8h-3.3zM455.7 265.8h3.3v3.8h-3.3zM224.9 269.4h6.3v3.8h-6.3zM281.9 269.4h3.3v3.8h-3.3zM287.9 269.4h3.3v3.8h-3.3zM335.8 269.4h3.3v3.8h-3.3zM458.7 269.4h3.3v3.8h-3.3z"/>
<path fill="#b20000" d="M150.0 230.6h6.3v3.8h-6.3zM189.0 230.6h3.3v3.8h-3.3zM207.0 230.6h3.3v3.8h-3.3zM287.9 230.6h3.3v3.8h-3.3zM293.9 230.6h3.3v3.8h-3.3zM410.8 230.6h3.3v3.8h-3.3zM428.7 230.6h3.3v3.8h-3.3zM443.7 230.6h3.3v3.8h-3.3zM455.7 230.6h6.3v3.8h-6.3zM144.0 234.1h3.3v3.8h-3.3zM195.0 234.1h3.3v3.8h-3.3zM201.0 234.1h3.3v3.8h-3.3zM207.0 234.1h6.3v3.8h-6.3zM281.9 234.1h9.3v3.8h-9.3zM302.9 234.1h6.3v3.8h-6.3zM320.8 234.1h3.3v3.8h-3.3zM326.8 234.1h3.3v3.8h-3.3zM398.8 234.1h3.3v3.8h-3.3zM428.7 234.1h3.3v3.8h-3.3zM446.7 234.1h3.3v3.8h-3.3zM192.0 237.7h6.3v3.8h-6.3zM207.0 237.7h9.3v3.8h-9.3zM287.9 237.7h6.3v3.8h-6.3zM392.8 237.7h6.3v3.8h-6.3zM153.0 241.2h3.3v3.8h-3.3zM162.0 241.2h3.3v3.8h-3.3zM168.0 241.2h15.3v3.8h-15.3zM192.0 241.2h3.3v3.8h-3.3zM216.0 241.2h6.3v3.8h-6.3zM269.9 241.2h3.3v3.8h-3.3zM278.9 241.2h9.3v3.8h-9.3zM290.9 241.2h3.3v3.8h-3.3zM320.8 241.2h3.3v3.8h-3.3zM332.8 241.2h3.3v3.8h-3.3zM392.8 241.2h3.3v3.8h-3.3zM398.8 241.2h6.3v3.8h-6.3zM416.7 241.2h3.3v3.8h-3.3zM428.7 241.2h3.3v3.8h-3.3zM443.7 241.2h3.3v3.8h-3.3zM452.7 241.2h3.3v3.8h-3.3zM69.1 244.7h3.3v3.8h-3.3zM132.0 244.7h3.3v3.8h-3.3zM144.0 244.7h6.3v3.8h-6.3zM180.0 244.7h3.3v3.8h-3.3zM189.0 244.7h3.3v3.8h-3.3zM195.0 244.7h3.3v3.8h-3.3zM221.9 244.7h6.3v3.8h-6.3zM266.9 244.7h6.3v3.8h-6.3zM278.9 244.7h3.3v3.8h-3.3zM284.9 244.7h3.3v3.8h-3.3zM296.9 244.7h3.3v3.8h-3.3zM332.8 244.7h3.3v3.8h-3.3zM344.8 244.7h3.3v3.8h-3.3zM383.8 244.7h3.3v3.8h-3.3zM395.8 244.7h3.3v3.8h-3.3zM413.7 244.7h3.3v3.8h-3.3zM443.7 244.7h3.3v3.8h-3.3zM452.7 244.7h3.3v3.8h-3.3zM72.1 248.2h3.3v3.8h-3.3zM192.0 248.2h6.3v3.8h-6.3zM218.9 248.2h6.3v3.8h-6.3zM263.9 248.2h6.3v3.8h-6.3zM299.9 248.2h3.3v3.8h-3.3zM308.9 248.2h3.3v3.8h-3.3zM347.8 248.2h6.3v3.8h-6.3zM380.8 248.2h3.3v3.8h-3.3zM413.7 248.2h3.3v3.8h-3.3zM419.7 248.2h6.3v3.8h-6.3zM434.7 248.2h3.3v3.8h-3.3zM455.7 248.2h6.3v3.8h-6.3zM123.0 251.8h3.3v3.8h-3.3zM201.0 251.8h3.3v3.8h-3.3zM210.0 251.8h3.3v3.8h-3.3zM216.0 251.8h3.3v3.8h-3.3zM233.9 251.8h3.3v3.8h-3.3zM257.9 251.8h9.3v3.8h-9.3zM290.9 251.8h6.3v3.8h-6.3zM311.9 251.8h6.3v3.8h-6.3zM320.8 251.8h3.3v3.8h-3.3zM338.8 251.8h3.3v3.8h-3.3zM344.8 251.8h3.3v3.8h-3.3zM353.8 251.8h6.3v3.8h-6.3zM365.8 251.8h3.3v3.8h-3.3zM371.8 251.8h3.3v3.8h-3.3zM377.8 251.8h3.3v3.8h-3.3zM383.8 251.8h12.3v3.8h-12.3zM398.8 251.8h3.3v3.8h-3.3zM416.7 251.8h3.3v3.8h-3.3zM437.7 251.8h3.3v3.8h-3.3zM449.7 251.8h3.3v3.8h-3.3zM120.0 255.3h6.3v3.8h-6.3zM218.9 255.3h3.3v3.8h-3.3zM257.9 255.3h3.3v3.8h-3.3zM266.9 255.3h12.3v3.8h-12.3zM290.9 255.3h9.3v3.8h-9.3zM302.9 255.3h3.3v3.8h-3.3zM329.8 255.3h3.3v3.8h-3.3zM344.8 255.3h6.3v3.8h-6.3zM356.8 255.3h9.3v3.8h-9.3zM368.8 255.3h3.3v3.8h-3.3zM374.8 255.3h3.3v3.8h-3.3zM389.8 255.3h3.3v3.8h-3.3zM398.8 255.3h3.3v3.8h-3.3zM449.7 255.3h3.3v3.8h-3.3zM114.1 258.8h9.3v3.8h-9.3zM207.0 258.8h9.3v3.8h-9.3zM221.9 258.8h6.3v3.8h-6.3zM236.9 258.8h3.3v3.8h-3.3zM254.9 258.8h3.3v3.8h-3.3zM269.9 258.8h9.3v3.8h-9.3zM290.9 258.8h3.3v3.8h-3.3zM335.8 258.8h6.3v3.8h-6.3zM353.8 258.8h3.3v3.8h-3.3zM380.8 258.8h3.3v3.8h-3.3zM389.8 258.8h3.3v3.8h-3.3zM404.8 258.8h3.3v3.8h-3.3zM458.7 258.8h3.3v3.8h-3.3zM99.1 262.3h3.3v3.8h-3.3zM108.1 262.3h3.3v3.8h-3.3zM218.9 262.3h3.3v3.8h-3.3zM224.9 262.3h6.3v3.8h-6.3zM266.9 262.3h3.3v3.8h-3.3zM272.9 262.3h3.3v3.8h-3.3zM284.9 262.3h9.3v3.8h-9.3zM332.8 262.3h6.3v3.8h-6.3zM341.8 262.3h3.3v3.8h-3.3zM389.8 262.3h3.3v3.8h-3.3zM401.8 262.3h3.3v3.8h-3.3zM120.0 265.8h3.3v3.8h-3.3zM269.9 265.8h3.3v3.8h-3.3zM275.9 265.8h3.3v3.8h-3.3zM284.9 265.8h3.3v3.8h-3.3zM359.8 265.8h6.3v3.8h-6.3zM386.8 265.8h3.3v3.8h-3.3zM392.8 265.8h9.3v3.8h-9.3zM254.9 269.4h3.3v3.8h-3.3zM260.9 269.4h3.3v3.8h-3.3zM266.9 269.4h3.3v3.8h-3.3zM272.9 269.4h9.3v3.8h-9.3zM338.8 269.4h3.3v3.8h-3.3zM344.8 269.4h3.3v3.8h-3.3zM359.8 269.4h3.3v3.8h-3.3zM365.8 269.4h3.3v3.8h-3.3zM383.8 269.4h3.3v3.8h-3.3zM389.8 269.4h9.3v3.8h-9.3z"/>
<path fill="#c00000" d="M156.0 230.6h3.3v3.8h-3.3zM165.0 230.6h3.3v3.8h-3.3zM183.0 230.6h6.3v3.8h-6.3zM192.0 230.6h9.3v3.8h-9.3zM290.9 230.6h3.3v3.8h-3.3zM302.9 230.6h3.3v3.8h-3.3zM308.9 230.6h6.3v3.8h-6.3zM407.8 230.6h3.3v3.8h-3.3zM413.7 230.6h3.3v3.8h-3.3zM422.7 230.6h6.3v3.8h-6.3zM446.7 230.6h3.3v3.8h-3.3zM159.0 234.1h9.3v3.8h-9.3zM171.0 234.1h3.3v3.8h-3.3zM186.0 234.1h9.3v3.8h-9.3zM198.0 234.1h3.3v3.8h-3.3zM204.0 234.1h3.3v3.8h-3.3zM290.9 234.1h3.3v3.8h-3.3zM308.9 234.1h3.3v3.8h-3.3zM323.8 234.1h3.3v3.8h-3.3zM401.8 234.1h3.3v3.8h-3.3zM431.7 234.1h3.3v3.8h-3.3zM437.7 234.1h6.3v3.8h-6.3zM452.7 234.1h3.3v3.8h-3.3zM144.0 237.7h3.3v3.8h-3.3zM159.0 237.7h3.3v3.8h-3.3zM171.0 237.7h6.3v3.8h-6.3zM183.0 237.7h3.3v3.8h-3.3zM189.0 237.7h3.3v3.8h-3.3zM278.9 237.7h9.3v3.8h-9.3zM293.9 237.7h3.3v3.8h-3.3zM299.9 237.7h12.3v3.8h-12.3zM314.8 237.7h3.3v3.8h-3.3zM332.8 237.7h3.3v3.8h-3.3zM404.8 237.7h3.3v3.8h-3.3zM416.7 237.7h3.3v3.8h-3.3zM425.7 237.7h3.3v3.8h-3.3zM434.7 237.7h3.3v3.8h-3.3zM449.7 237.7h9.3v3.8h-9.3zM159.0 241.2h3.3v3.8h-3.3zM186.0 241.2h3.3v3.8h-3.3zM213.0 241.2h3.3v3.8h-3.3zM272.9 241.2h6.3v3.8h-6.3zM299.9 241.2h6.3v3.8h-6.3zM329.8 241.2h3.3v3.8h-3.3zM335.8 241.2h3.3v3.8h-3.3zM410.8 241.2h3.3v3.8h-3.3zM422.7 241.2h6.3v3.8h-6.3zM440.7 241.2h3.3v3.8h-3.3zM446.7 241.2h6.3v3.8h-6.3zM455.7 241.2h3.3v3.8h-3.3zM138.0 244.7h3.3v3.8h-3.3zM150.0 244.7h3.3v3.8h-3.3zM183.0 244.7h6.3v3.8h-6.3zM218.9 244.7h3.3v3.8h-3.3zM275.9 244.7h3.3v3.8h-3.3zM314.8 244.7h3.3v3.8h-3.3zM338.8 244.7h3.3v3.8h-3.3zM389.8 244.7h6.3v3.8h-6.3zM398.8 244.7h3.3v3.8h-3.3zM416.7 244.7h3.3v3.8h-3.3zM422.7 244.7h6.3v3.8h-6.3zM440.7 244.7h3.3v3.8h-3.3zM446.7 244.7h6.3v3.8h-6.3zM455.7 244.7h3.3v3.8h-3.3zM69.1 248.2h3.3v3.8h-3.3zM129.0 248.2h6.3v3.8h-6.3zM138.0 248.2h3.3v3.8h-3.3zM189.0 248.2h3.3v3.8h-3.3zM198.0 248.2h3.3v3.8h-3.3zM216.0 248.2h3.3v3.8h-3.3zM272.9 248.2h3.3v3.8h-3.3zM302.9 248.2h3.3v3.8h-3.3zM311.9 248.2h3.3v3.8h-3.3zM335.8 248.2h3.3v3.8h-3.3zM344.8 248.2h3.3v3.8h-3.3zM386.8 248.2h3.3v3.8h-3.3zM392.8 248.2h6.3v3.8h-6.3zM410.8 248.2h3.3v3.8h-3.3zM416.7 248.2h3.3v3.8h-3.3zM440.7 248.2h3.3v3.8h-3.3zM72.1 251.8h6.3v3.8h-6.3zM126.0 251.8h3.3v3.8h-3.3zM132.0 251.8h9.3v3.8h-9.3zM195.0 251.8h3.3v3.8h-3.3zM218.9 251.8h6.3v3.8h-6.3zM230.9 251.8h3.3v3.8h-3.3zM266.9 251.8h6.3v3.8h-6.3zM296.9 251.8h9.3v3.8h-9.3zM347.8 251.8h6.3v3.8h-6.3zM404.8 251.8h3.3v3.8h-3.3zM455.7 251.8h6.3v3.8h-6.3zM201.0 255.3h3.3v3.8h-3.3zM207.0 255.3h9.3v3.8h-9.3zM224.9 255.3h6.3v3.8h-6.3zM233.9 255.3h3.3v3.8h-3.3zM263.9 255.3h3.3v3.8h-3.3zM326.8 255.3h3.3v3.8h-3.3zM341.8 255.3h3.3v3.8h-3.3zM350.8 255.3h6.3v3.8h-6.3zM365.8 255.3h3.3v3.8h-3.3zM371.8 255.3h3.3v3.8h-3.3zM395.8 255.3h3.3v3.8h-3.3zM401.8 255.3h3.3v3.8h-3.3zM410.8 255.3h3.3v3.8h-3.3zM455.7 255.3h6.3v3.8h-6.3zM75.1 258.8h6.3v3.8h-6.3zM84.1 258.8h3.3v3.8h-3.3zM126.0 258.8h3.3v3.8h-3.3zM216.0 258.8h3.3v3.8h-3.3zM227.9 258.8h3.3v3.8h-3.3zM239.9 258.8h6.3v3.8h-6.3zM248.9 258.8h6.3v3.8h-6.3zM263.9 258.8h6.3v3.8h-6.3zM284.9 258.8h6.3v3.8h-6.3zM326.8 258.8h9.3v3.8h-9.3zM341.8 258.8h12.3v3.8h-12.3zM356.8 258.8h9.3v3.8h-9.3zM374.8 258.8h3.3v3.8h-3.3zM392.8 258.8h3.3v3.8h-3.3zM81.1 262.3h3.3v3.8h-3.3zM90.1 262.3h6.3v3.8h-6.3zM102.1 262.3h6.3v3.8h-6.3zM111.1 262.3h6.3v3.8h-6.3zM123.0 262.3h3.3v3.8h-3.3zM221.9 262.3h3.3v3.8h-3.3zM233.9 262.3h3.3v3.8h-3.3zM239.9 262.3h3.3v3.8h-3.3zM248.9 262.3h3.3v3.8h-3.3zM275.9 262.3h6.3v3.8h-6.3zM353.8 262.3h3.3v3.8h-3.3zM374.8 262.3h3.3v3.8h-3.3zM386.8 262.3h3.3v3.8h-3.3zM398.8 262.3h3.3v3.8h-3.3zM84.1 265.8h6.3v3.8h-6.3zM93.1 265.8h3.3v3.8h-3.3zM105.1 265.8h3.3v3.8h-3.3zM227.9 265.8h3.3v3.8h-3.3zM251.9 265.8h3.3v3.8h-3.3zM257.9 265.8h3.3v3.8h-3.3zM263.9 265.8h3.3v3.8h-3.3zM335.8 265.8h12.3v3.8h-12.3zM380.8 265.8h3.3v3.8h-3.3zM389.8 265.8h3.3v3.8h-3.3zM84.1 269.4h3.3v3.8h-3.3zM90.1 269.4h3.3v3.8h-3.3zM96.1 269.4h3.3v3.8h-3.3zM230.9 269.4h3.3v3.8h-3.3zM242.9 269.4h3.3v3.8h-3.3zM248.9 269.4h6.3v3.8h-6.3zM263.9 269.4h3.3v3.8h-3.3zM269.9 269.4h3.3v3.8h-3.3zM341.8 269.4h3.3v3.8h-3.3zM347.8 269.4h6.3v3.8h-6.3zM362.8 269.4h3.3v3.8h-3.3zM368.8 269.4h9.3v3.8h-9.3z"/>
<path fill="#ce0000" d="M159.0 230.6h6.3v3.8h-6.3zM168.0 230.6h3.3v3.8h-3.3zM174.0 230.6h3.3v3.8h-3.3zM180.0 230.6h3.3v3.8h-3.3zM416.7 230.6h3.3v3.8h-3.3zM437.7 230.6h3.3v3.8h-3.3zM452.7 230.6h3.3v3.8h-3.3zM147.0 234.1h12.3v3.8h-12.3zM168.0 234.1h3.3v3.8h-3.3zM177.0 234.1h3.3v3.8h-3.3zM183.0 234.1h3.3v3.8h-3.3zM299.9 234.1h3.3v3.8h-3.3zM311.9 234.1h6.3v3.8h-6.3zM404.8 234.1h9.3v3.8h-9.3zM416.7 234.1h3.3v3.8h-3.3zM425.7 234.1h3.3v3.8h-3.3zM434.7 234.1h3.3v3.8h-3.3zM443.7 234.1h3.3v3.8h-3.3zM449.7 234.1h3.3v3.8h-3.3zM455.7 234.1h3.3v3.8h-3.3zM141.0 237.7h3.3v3.8h-3.3zM150.0 237.7h3.3v3.8h-3.3zM162.0 237.7h6.3v3.8h-6.3zM320.8 237.7h6.3v3.8h-6.3zM410.8 237.7h3.3v3.8h-3.3zM428.7 237.7h6.3v3.8h-6.3zM437.7 237.7h9.3v3.8h-9.3zM458.7 237.7h3.3v3.8h-3.3zM144.0 241.2h6.3v3.8h-6.3zM183.0 241.2h3.3v3.8h-3.3zM305.9 241.2h9.3v3.8h-9.3zM326.8 241.2h3.3v3.8h-3.3zM395.8 241.2h3.3v3.8h-3.3zM404.8 241.2h6.3v3.8h-6.3zM431.7 241.2h6.3v3.8h-6.3zM135.0 244.7h3.3v3.8h-3.3zM141.0 244.7h3.3v3.8h-3.3zM302.9 244.7h12.3v3.8h-12.3zM317.8 244.7h3.3v3.8h-3.3zM401.8 244.7h12.3v3.8h-12.3zM419.7 244.7h3.3v3.8h-3.3zM428.7 244.7h12.3v3.8h-12.3zM135.0 248.2h3.3v3.8h-3.3zM141.0 248.2h3.3v3.8h-3.3zM269.9 248.2h3.3v3.8h-3.3zM314.8 248.2h3.3v3.8h-3.3zM320.8 248.2h15.3v3.8h-15.3zM338.8 248.2h6.3v3.8h-6.3zM389.8 248.2h3.3v3.8h-3.3zM398.8 248.2h3.3v3.8h-3.3zM446.7 248.2h3.3v3.8h-3.3zM452.7 248.2h3.3v3.8h-3.3zM129.0 251.8h3.3v3.8h-3.3zM224.9 251.8h6.3v3.8h-6.3zM317.8 251.8h3.3v3.8h-3.3zM323.8 251.8h6.3v3.8h-6.3zM335.8 251.8h3.3v3.8h-3.3zM341.8 251.8h3.3v3.8h-3.3zM395.8 251.8h3.3v3.8h-3.3zM401.8 251.8h3.3v3.8h-3.3zM407.8 251.8h6.3v3.8h-6.3zM452.7 251.8h3.3v3.8h-3.3zM75.1 255.3h3.3v3.8h-3.3zM129.0 255.3h3.3v3.8h-3.3zM221.9 255.3h3.3v3.8h-3.3zM230.9 255.3h3.3v3.8h-3.3zM260.9 255.3h3.3v3.8h-3.3zM338.8 255.3h3.3v3.8h-3.3zM383.8 255.3h6.3v3.8h-6.3zM392.8 255.3h3.3v3.8h-3.3zM230.9 258.8h3.3v3.8h-3.3zM245.9 258.8h3.3v3.8h-3.3zM257.9 258.8h3.3v3.8h-3.3zM365.8 258.8h6.3v3.8h-6.3zM377.8 258.8h3.3v3.8h-3.3zM383.8 258.8h3.3v3.8h-3.3zM395.8 258.8h6.3v3.8h-6.3zM87.1 262.3h3.3v3.8h-3.3zM126.0 262.3h3.3v3.8h-3.3zM230.9 262.3h3.3v3.8h-3.3zM236.9 262.3h3.3v3.8h-3.3zM245.9 262.3h3.3v3.8h-3.3zM257.9 262.3h9.3v3.8h-9.3zM338.8 262.3h3.3v3.8h-3.3zM344.8 262.3h6.3v3.8h-6.3zM362.8 262.3h3.3v3.8h-3.3zM368.8 262.3h3.3v3.8h-3.3zM377.8 262.3h3.3v3.8h-3.3zM395.8 262.3h3.3v3.8h-3.3zM81.1 265.8h3.3v3.8h-3.3zM96.1 265.8h9.3v3.8h-9.3zM230.9 265.8h6.3v3.8h-6.3zM245.9 265.8h3.3v3.8h-3.3zM254.9 265.8h3.3v3.8h-3.3zM260.9 265.8h3.3v3.8h-3.3zM266.9 265.8h3.3v3.8h-3.3zM347.8 265.8h3.3v3.8h-3.3zM353.8 265.8h6.3v3.8h-6.3zM368.8 265.8h3.3v3.8h-3.3zM374.8 265.8h6.3v3.8h-6.3zM383.8 265.8h3.3v3.8h-3.3zM108.1 269.4h3.3v3.8h-3.3zM236.9 269.4h6.3v3.8h-6.3zM245.9 269.4h3.3v3.8h-3.3zM353.8 269.4h6.3v3.8h-6.3zM377.8 269.4h6.3v3.8h-6.3zM386.8 269.4h3.3v3.8h-3.3z"/>
<path fill="#dc0000" d="M171.0 230.6h3.3v3.8h-3.3zM177.0 230.6h3.3v3.8h-3.3zM419.7 230.6h3.3v3.8h-3.3zM431.7 230.6h6.3v3.8h-6.3zM440.7 230.6h3.3v3.8h-3.3zM180.0 234.1h3.3v3.8h-3.3zM413.7 234.1h3.3v3.8h-3.3zM422.7 234.1h3.3v3.8h-3.3zM147.0 237.7h3.3v3.8h-3.3zM168.0 237.7h3.3v3.8h-3.3zM177.0 237.7h6.3v3.8h-6.3zM317.8 237.7h3.3v3.8h-3.3zM407.8 237.7h3.3v3.8h-3.3zM413.7 237.7h3.3v3.8h-3.3zM419.7 237.7h6.3v3.8h-6.3zM446.7 237.7h3.3v3.8h-3.3zM138.0 241.2h6.3v3.8h-6.3zM150.0 241.2h3.3v3.8h-3.3zM156.0 241.2h3.3v3.8h-3.3zM314.8 241.2h6.3v3.8h-6.3zM323.8 241.2h3.3v3.8h-3.3zM413.7 241.2h3.3v3.8h-3.3zM419.7 241.2h3.3v3.8h-3.3zM437.7 241.2h3.3v3.8h-3.3zM320.8 244.7h12.3v3.8h-12.3zM317.8 248.2h3.3v3.8h-3.3zM401.8 248.2h9.3v3.8h-9.3zM69.1 251.8h3.3v3.8h-3.3zM329.8 251.8h6.3v3.8h-6.3zM132.0 255.3h3.3v3.8h-3.3zM332.8 255.3h6.3v3.8h-6.3zM377.8 255.3h6.3v3.8h-6.3zM81.1 258.8h3.3v3.8h-3.3zM123.0 258.8h3.3v3.8h-3.3zM129.0 258.8h3.3v3.8h-3.3zM233.9 258.8h3.3v3.8h-3.3zM260.9 258.8h3.3v3.8h-3.3zM371.8 258.8h3.3v3.8h-3.3zM386.8 258.8h3.3v3.8h-3.3zM78.1 262.3h3.3v3.8h-3.3zM117.1 262.3h3.3v3.8h-3.3zM242.9 262.3h3.3v3.8h-3.3zM254.9 262.3h3.3v3.8h-3.3zM350.8 262.3h3.3v3.8h-3.3zM356.8 262.3h6.3v3.8h-6.3zM365.8 262.3h3.3v3.8h-3.3zM371.8 262.3h3.3v3.8h-3.3zM380.8 262.3h6.3v3.8h-6.3zM392.8 262.3h3.3v3.8h-3.3zM90.1 265.8h3.3v3.8h-3.3zM108.1 265.8h3.3v3.8h-3.3zM114.1 265.8h6.3v3.8h-6.3zM236.9 265.8h6.3v3.8h-6.3zM350.8 265.8h3.3v3.8h-3.3zM365.8 265.8h3.3v3.8h-3.3zM371.8 265.8h3.3v3.8h-3.3zM87.1 269.4h3.3v3.8h-3.3zM102.1 269.4h3.3v3.8h-3.3zM111.1 269.4h6.3v3.8h-6.3z"/>
<path fill="#a40000" d="M201.0 230.6h6.3v3.8h-6.3zM284.9 230.6h3.3v3.8h-3.3zM296.9 230.6h6.3v3.8h-6.3zM305.9 230.6h3.3v3.8h-3.3zM317.8 230.6h3.3v3.8h-3.3zM401.8 230.6h6.3v3.8h-6.3zM449.7 230.6h3.3v3.8h-3.3zM278.9 234.1h3.3v3.8h-3.3zM293.9 234.1h6.3v3.8h-6.3zM317.8 234.1h3.3v3.8h-3.3zM329.8 234.1h3.3v3.8h-3.3zM458.7 234.1h3.3v3.8h-3.3zM186.0 237.7h3.3v3.8h-3.3zM198.0 237.7h9.3v3.8h-9.3zM275.9 237.7h3.3v3.8h-3.3zM326.8 237.7h6.3v3.8h-6.3zM398.8 237.7h6.3v3.8h-6.3zM165.0 241.2h3.3v3.8h-3.3zM189.0 241.2h3.3v3.8h-3.3zM210.0 241.2h3.3v3.8h-3.3zM287.9 241.2h3.3v3.8h-3.3zM296.9 241.2h3.3v3.8h-3.3zM338.8 241.2h6.3v3.8h-6.3zM458.7 241.2h3.3v3.8h-3.3zM192.0 244.7h3.3v3.8h-3.3zM201.0 244.7h3.3v3.8h-3.3zM210.0 244.7h9.3v3.8h-9.3zM272.9 244.7h3.3v3.8h-3.3zM281.9 244.7h3.3v3.8h-3.3zM287.9 244.7h3.3v3.8h-3.3zM299.9 244.7h3.3v3.8h-3.3zM335.8 244.7h3.3v3.8h-3.3zM341.8 244.7h3.3v3.8h-3.3zM347.8 244.7h3.3v3.8h-3.3zM386.8 244.7h3.3v3.8h-3.3zM458.7 244.7h3.3v3.8h-3.3zM144.0 248.2h3.3v3.8h-3.3zM186.0 248.2h3.3v3.8h-3.3zM201.0 248.2h3.3v3.8h-3.3zM207.0 248.2h9.3v3.8h-9.3zM224.9 248.2h3.3v3.8h-3.3zM230.9 248.2h3.3v3.8h-3.3zM275.9 248.2h3.3v3.8h-3.3zM281.9 248.2h3.3v3.8h-3.3zM287.9 248.2h3.3v3.8h-3.3zM296.9 248.2h3.3v3.8h-3.3zM305.9 248.2h3.3v3.8h-3.3zM353.8 248.2h3.3v3.8h-3.3zM374.8 248.2h3.3v3.8h-3.3zM383.8 248.2h3.3v3.8h-3.3zM425.7 248.2h3.3v3.8h-3.3zM431.7 248.2h3.3v3.8h-3.3zM437.7 248.2h3.3v3.8h-3.3zM443.7 248.2h3.3v3.8h-3.3zM449.7 248.2h3.3v3.8h-3.3zM192.0 251.8h3.3v3.8h-3.3zM198.0 251.8h3.3v3.8h-3.3zM204.0 251.8h6.3v3.8h-6.3zM213.0 251.8h3.3v3.8h-3.3zM254.9 251.8h3.3v3.8h-3.3zM272.9 251.8h3.3v3.8h-3.3zM284.9 251.8h3.3v3.8h-3.3zM305.9 251.8h3.3v3.8h-3.3zM359.8 251.8h6.3v3.8h-6.3zM380.8 251.8h3.3v3.8h-3.3zM413.7 251.8h3.3v3.8h-3.3zM428.7 251.8h3.3v3.8h-3.3zM434.7 251.8h3.3v3.8h-3.3zM446.7 251.8h3.3v3.8h-3.3zM69.1 255.3h3.3v3.8h-3.3zM78.1 255.3h6.3v3.8h-6.3zM195.0 255.3h3.3v3.8h-3.3zM204.0 255.3h3.3v3.8h-3.3zM216.0 255.3h3.3v3.8h-3.3zM236.9 255.3h6.3v3.8h-6.3zM245.9 255.3h3.3v3.8h-3.3zM254.9 255.3h3.3v3.8h-3.3zM281.9 255.3h6.3v3.8h-6.3zM299.9 255.3h3.3v3.8h-3.3zM305.9 255.3h3.3v3.8h-3.3zM323.8 255.3h3.3v3.8h-3.3zM404.8 255.3h6.3v3.8h-6.3zM452.7 255.3h3.3v3.8h-3.3zM72.1 258.8h3.3v3.8h-3.3zM132.0 258.8h3.3v3.8h-3.3zM204.0 258.8h3.3v3.8h-3.3zM218.9 258.8h3.3v3.8h-3.3zM278.9 258.8h6.3v3.8h-6.3zM293.9 258.8h3.3v3.8h-3.3zM401.8 258.8h3.3v3.8h-3.3zM407.8 258.8h3.3v3.8h-3.3zM455.7 258.8h3.3v3.8h-3.3zM216.0 262.3h3.3v3.8h-3.3zM269.9 262.3h3.3v3.8h-3.3zM281.9 262.3h3.3v3.8h-3.3zM455.7 262.3h3.3v3.8h-3.3zM123.0 265.8h3.3v3.8h-3.3zM272.9 265.8h3.3v3.8h-3.3zM278.9 265.8h3.3v3.8h-3.3zM287.9 265.8h6.3v3.8h-6.3zM332.8 265.8h3.3v3.8h-3.3zM458.7 265.8h3.3v3.8h-3.3zM117.1 269.4h3.3v3.8h-3.3zM233.9 269.4h3.3v3.8h-3.3zM257.9 269.4h3.3v3.8h-3.3zM284.9 269.4h3.3v3.8h-3.3z"/>
<path fill="#880000" d="M210.0 230.6h3.3v3.8h-3.3zM278.9 230.6h3.3v3.8h-3.3zM332.8 230.6h3.3v3.8h-3.3zM141.0 234.1h3.3v3.8h-3.3zM335.8 234.1h3.3v3.8h-3.3zM389.8 234.1h6.3v3.8h-6.3zM138.0 237.7h3.3v3.8h-3.3zM218.9 237.7h3.3v3.8h-3.3zM338.8 237.7h6.3v3.8h-6.3zM201.0 241.2h6.3v3.8h-6.3zM263.9 241.2h6.3v3.8h-6.3zM344.8 241.2h3.3v3.8h-3.3zM380.8 241.2h3.3v3.8h-3.3zM386.8 241.2h3.3v3.8h-3.3zM162.0 244.7h12.3v3.8h-12.3zM227.9 244.7h3.3v3.8h-3.3zM263.9 244.7h3.3v3.8h-3.3zM374.8 244.7h3.3v3.8h-3.3zM380.8 244.7h3.3v3.8h-3.3zM147.0 248.2h3.3v3.8h-3.3zM183.0 248.2h3.3v3.8h-3.3zM254.9 248.2h3.3v3.8h-3.3zM284.9 248.2h3.3v3.8h-3.3zM362.8 248.2h6.3v3.8h-6.3zM78.1 251.8h3.3v3.8h-3.3zM278.9 251.8h6.3v3.8h-6.3zM419.7 251.8h3.3v3.8h-3.3zM425.7 251.8h3.3v3.8h-3.3zM117.1 255.3h3.3v3.8h-3.3zM242.9 255.3h3.3v3.8h-3.3zM278.9 255.3h3.3v3.8h-3.3zM308.9 255.3h3.3v3.8h-3.3zM314.8 255.3h3.3v3.8h-3.3zM416.7 255.3h9.3v3.8h-9.3zM434.7 255.3h3.3v3.8h-3.3zM440.7 255.3h3.3v3.8h-3.3zM90.1 258.8h3.3v3.8h-3.3zM198.0 258.8h3.3v3.8h-3.3zM302.9 258.8h3.3v3.8h-3.3zM410.8 258.8h6.3v3.8h-6.3zM422.7 258.8h3.3v3.8h-3.3zM431.7 258.8h3.3v3.8h-3.3zM446.7 258.8h3.3v3.8h-3.3zM207.0 262.3h6.3v3.8h-6.3zM296.9 262.3h3.3v3.8h-3.3zM326.8 262.3h3.3v3.8h-3.3zM410.8 262.3h3.3v3.8h-3.3zM446.7 262.3h3.3v3.8h-3.3zM452.7 262.3h3.3v3.8h-3.3zM126.0 265.8h3.3v3.8h-3.3zM213.0 265.8h3.3v3.8h-3.3zM326.8 265.8h3.3v3.8h-3.3zM404.8 265.8h6.3v3.8h-6.3zM81.1 269.4h3.3v3.8h-3.3zM120.0 269.4h3.3v3.8h-3.3zM221.9 269.4h3.3v3.8h-3.3zM398.8 269.4h6.3v3.8h-6.3zM455.7 269.4h3.3v3.8h-3.3z"/>
<path fill="#ea0000" d="M174.0 234.1h3.3v3.8h-3.3zM419.7 234.1h3.3v3.8h-3.3zM153.0 237.7h6.3v3.8h-6.3zM311.9 237.7h3.3v3.8h-3.3zM72.1 255.3h3.3v3.8h-3.3zM126.0 255.3h3.3v3.8h-3.3zM84.1 262.3h3.3v3.8h-3.3zM120.0 262.3h3.3v3.8h-3.3zM251.9 262.3h3.3v3.8h-3.3zM111.1 265.8h3.3v3.8h-3.3zM242.9 265.8h3.3v3.8h-3.3zM248.9 265.8h3.3v3.8h-3.3zM93.1 269.4h3.3v3.8h-3.3zM99.1 269.4h3.3v3.8h-3.3zM105.1 269.4h3.3v3.8h-3.3z"/></g>
<g shape-rendering="crispEdges"><path fill="#0b0000" d="M70.8 285.3h392.7v1.5h-392.7zM70.8 286.5h392.7v1.5h-392.7zM70.8 287.8h392.7v1.5h-392.7zM70.8 289.0h392.7v1.5h-392.7zM70.8 290.2h392.7v1.5h-392.7zM70.8 291.5h392.7v1.5h-392.7zM70.8 292.7h392.7v1.5h-392.7zM70.8 293.9h392.7v1.5h-392.7zM70.8 295.2h392.7v1.5h-392.7zM70.8 296.4h392.7v1.5h-392.7zM70.8 297.6h392.7v1.5h-392.7zM70.8 298.9h392.7v1.5h-392.7zM70.8 300.1h392.7v1.5h-392.7zM70.8 301.3h392.7v1.5h-392.7zM70.8 302.6h392.7v1.5h-392.7zM79.8 303.8h383.7v1.5h-383.7zM124.7 305.0h12.3v1.5h-12.3zM70.8 311.2h3.3v1.5h-3.3zM70.8 312.4h12.3v1.5h-12.3zM247.5 312.4h18.3v1.5h-18.3zM403.3 312.4h60.2v1.5h-60.2zM70.8 313.6h392.7v1.5h-392.7zM70.8 314.9h392.7v1.5h-392.7zM70.8 316.1h392.7v1.5h-392.7zM70.8 317.3h392.7v1.5h-392.7zM70.8 318.6h392.7v1.5h-392.7zM70.8 319.8h392.7v1.5h-392.7zM70.8 321.0h392.7v1.5h-392.7zM70.8 322.3h392.7v1.5h-392.7zM70.8 323.5h392.7v1.5h-392.7zM70.8 324.7h392.7v1.5h-392.7zM70.8 326.0h392.7v1.5h-392.7zM70.8 327.2h392.7v1.5h-392.7zM70.8 328.4h392.7v1.5h-392.7zM70.8 329.7h392.7v1.5h-392.7zM70.8 330.9h392.7v1.5h-392.7zM70.8 332.1h392.7v1.5h-392.7zM70.8 333.4h392.7v1.5h-392.7z"/>
<path fill="#340000" d="M70.8 303.8h3.3v1.5h-3.3zM79.8 305.0h3.3v1.5h-3.3zM250.5 305.0h12.3v1.5h-12.3zM409.3 305.0h45.2v1.5h-45.2zM70.8 310.0h3.3v1.5h-3.3zM79.8 311.2h3.3v1.5h-3.3zM421.3 311.2h42.2v1.5h-42.2z"/>
<path fill="#190000" d="M73.8 303.8h6.3v1.5h-6.3zM85.8 305.0h39.2v1.5h-39.2zM136.7 305.0h78.2v1.5h-78.2zM277.5 305.0h87.2v1.5h-87.2zM73.8 311.2h3.3v1.5h-3.3zM82.8 312.4h15.3v1.5h-15.3zM172.6 312.4h75.2v1.5h-75.2zM265.5 312.4h30.3v1.5h-30.3zM316.4 312.4h87.2v1.5h-87.2z"/>
<path fill="#a40000" d="M70.8 305.0h3.3v1.5h-3.3zM79.8 306.3h3.3v1.5h-3.3zM424.3 306.3h33.2v1.5h-33.2zM70.8 308.7h3.3v1.5h-3.3zM79.8 310.0h3.3v1.5h-3.3zM418.3 310.0h33.2v1.5h-33.2z"/>
<path fill="#5e0000" d="M73.8 305.0h3.3v1.5h-3.3zM88.8 306.3h12.3v1.5h-12.3zM169.6 306.3h24.3v1.5h-24.3zM286.5 306.3h9.3v1.5h-9.3zM313.4 306.3h24.3v1.5h-24.3zM85.8 311.2h3.3v1.5h-3.3zM199.6 311.2h18.3v1.5h-18.3zM277.5 311.2h9.3v1.5h-9.3zM343.4 311.2h24.3v1.5h-24.3z"/>
<path fill="#420000" d="M76.8 305.0h3.3v1.5h-3.3zM454.2 305.0h9.3v1.5h-9.3zM118.7 306.3h27.3v1.5h-27.3zM82.8 311.2h3.3v1.5h-3.3zM238.5 311.2h30.3v1.5h-30.3zM391.3 311.2h30.3v1.5h-30.3z"/>
<path fill="#270000" d="M82.8 305.0h3.3v1.5h-3.3zM214.6 305.0h36.2v1.5h-36.2zM262.5 305.0h15.3v1.5h-15.3zM364.4 305.0h45.2v1.5h-45.2zM76.8 311.2h3.3v1.5h-3.3zM97.8 312.4h75.2v1.5h-75.2zM295.5 312.4h21.3v1.5h-21.3z"/>
<path fill="#ea0000" d="M70.8 306.3h3.3v1.5h-3.3zM70.8 307.5h3.3v1.5h-3.3zM76.8 307.5h9.3v1.5h-9.3zM238.5 307.5h30.3v1.5h-30.3zM394.3 307.5h69.2v1.5h-69.2zM76.8 308.7h9.3v1.5h-9.3zM109.7 308.7h48.2v1.5h-48.2zM229.6 308.7h42.2v1.5h-42.2zM382.3 308.7h81.2v1.5h-81.2zM118.7 310.0h27.3v1.5h-27.3z"/>
<path fill="#ce0000" d="M73.8 306.3h3.3v1.5h-3.3zM88.8 307.5h12.3v1.5h-12.3zM172.6 307.5h30.3v1.5h-30.3zM283.5 307.5h12.3v1.5h-12.3zM316.4 307.5h33.2v1.5h-33.2zM85.8 310.0h3.3v1.5h-3.3zM187.6 310.0h27.3v1.5h-27.3zM277.5 310.0h12.3v1.5h-12.3zM331.4 310.0h33.2v1.5h-33.2z"/>
<path fill="#b20000" d="M76.8 306.3h3.3v1.5h-3.3zM457.2 306.3h6.3v1.5h-6.3zM118.7 307.5h27.3v1.5h-27.3zM82.8 310.0h3.3v1.5h-3.3zM238.5 310.0h30.3v1.5h-30.3zM394.3 310.0h24.3v1.5h-24.3z"/>
<path fill="#880000" d="M82.8 306.3h3.3v1.5h-3.3zM229.6 306.3h15.3v1.5h-15.3zM265.5 306.3h9.3v1.5h-9.3zM379.3 306.3h24.3v1.5h-24.3zM76.8 310.0h3.3v1.5h-3.3zM109.7 311.2h15.3v1.5h-15.3zM136.7 311.2h21.3v1.5h-21.3z"/>
<path fill="#7a0000" d="M85.8 306.3h3.3v1.5h-3.3zM211.6 306.3h18.3v1.5h-18.3zM274.5 306.3h6.3v1.5h-6.3zM358.4 306.3h21.3v1.5h-21.3zM94.8 311.2h15.3v1.5h-15.3zM157.7 311.2h21.3v1.5h-21.3zM292.5 311.2h30.3v1.5h-30.3z"/>
<path fill="#500000" d="M100.8 306.3h18.3v1.5h-18.3zM145.7 306.3h24.3v1.5h-24.3zM295.5 306.3h18.3v1.5h-18.3zM217.6 311.2h21.3v1.5h-21.3zM268.5 311.2h9.3v1.5h-9.3zM367.3 311.2h24.3v1.5h-24.3z"/>
<path fill="#6c0000" d="M193.6 306.3h18.3v1.5h-18.3zM280.5 306.3h6.3v1.5h-6.3zM337.4 306.3h21.3v1.5h-21.3zM73.8 310.0h3.3v1.5h-3.3zM88.8 311.2h6.3v1.5h-6.3zM178.6 311.2h21.3v1.5h-21.3zM286.5 311.2h6.3v1.5h-6.3zM322.4 311.2h21.3v1.5h-21.3z"/>
<path fill="#960000" d="M244.5 306.3h21.3v1.5h-21.3zM403.3 306.3h21.3v1.5h-21.3zM451.2 310.0h12.3v1.5h-12.3zM124.7 311.2h12.3v1.5h-12.3z"/>
<path fill="#f80000" d="M73.8 307.5h3.3v1.5h-3.3zM85.8 308.7h24.3v1.5h-24.3zM157.7 308.7h72.2v1.5h-72.2zM271.5 308.7h111.1v1.5h-111.1z"/>
<path fill="#dc0000" d="M85.8 307.5h3.3v1.5h-3.3zM202.6 307.5h36.2v1.5h-36.2zM268.5 307.5h15.3v1.5h-15.3zM349.4 307.5h45.2v1.5h-45.2zM73.8 308.7h3.3v1.5h-3.3zM88.8 310.0h30.3v1.5h-30.3zM145.7 310.0h42.2v1.5h-42.2zM289.5 310.0h42.2v1.5h-42.2z"/>
<path fill="#c00000" d="M100.8 307.5h18.3v1.5h-18.3zM145.7 307.5h27.3v1.5h-27.3zM295.5 307.5h21.3v1.5h-21.3zM214.6 310.0h24.3v1.5h-24.3zM268.5 310.0h9.3v1.5h-9.3zM364.4 310.0h30.3v1.5h-30.3z"/></g>
<polyline points="69.7,173.5 79.2,177.4 87.1,183.0 94.9,188.5 101.2,199.5 107.5,204.2 115.4,210.5 124.8,215.2 132.7,213.7 140.6,209.0 148.5,201.1 156.3,191.6 162.6,187.7 167.0,191.0 170.0,192.4 176.0,182.2 180.7,179.0 188.6,175.0 205.9,175.1 215.4,177.4 224.8,179.8 234.3,185.3 240.6,191.6 245.3,202.6 251.6,209.0 259.5,213.7 270.0,216.8 280.0,217.0 290.0,212.0 300.0,199.0 307.0,188.0 314.0,179.5 321.0,175.5 330.0,174.8 338.0,176.5 346.0,180.0 353.2,186.1 358.0,192.0 364.0,198.5 370.0,207.0 377.0,213.0 385.0,215.0 393.0,215.5 401.0,214.0 409.0,210.0 417.0,205.0 423.0,199.0 429.0,193.0 436.0,187.5 442.0,181.5 448.0,177.0 453.0,175.5 458.0,176.5 461.5,176.0" fill="none" stroke="#f4f41c" stroke-width="1.75" stroke-linejoin="round" stroke-dasharray="3.3,2.5"/><polyline points="69.7,173.5 79.2,179.0 88.6,188.5 96.5,199.5 104.4,207.4 112.2,212.9 120.1,216.0 131.0,216.0 140.6,213.7 153.2,209.7 162.6,210.5 170.0,212.1 180.7,210.5 188.6,205.8 196.5,202.6 205.9,197.9 212.2,191.6 218.5,180.6 224.8,175.1 234.3,175.1 242.2,179.0 248.5,183.7 256.3,186.9 265.0,190.0 273.0,193.0 280.7,195.6 288.0,201.0 296.5,211.3 301.2,215.2 308.0,213.0 315.4,208.9 321.0,206.0 326.4,204.2 331.1,196.3 335.9,185.3 342.2,183.0 345.3,179.8 352.0,177.8 360.0,176.8 368.0,178.0 378.9,181.4 386.8,193.0 393.0,201.0 399.4,210.5 408.8,218.4 423.0,216.0 438.7,213.7 449.8,211.3 457.6,207.4 461.5,202.6" fill="none" stroke="#80e46a" stroke-width="1.75" stroke-linejoin="round" stroke-dasharray="3.3,2.5"/><polyline points="69.7,173.5 77.6,174.3 85.5,179.8 93.3,185.3 101.2,191.6 107.5,199.5 115.4,207.4 123.3,212.9 131.1,215.2 139.0,215.2 146.9,212.1 154.8,205.8 161.0,205.0 165.8,204.6 169.7,197.9 174.4,189.3 179.2,187.7 183.9,180.6 188.6,175.9 196.5,174.6 205.9,175.1 213.8,176.7 220.1,178.2 226.4,182.2 232.7,184.5 237.4,191.6 242.2,201.1 246.9,205.8 251.6,209.7 257.9,213.7 265.8,216.0 274.4,217.6 282.3,216.0 288.6,212.9 294.9,206.6 301.2,197.9 307.5,186.9 313.8,179.0 320.1,175.1 328.0,174.3 335.9,175.9 342.2,178.2 346.9,181.4 351.6,186.9 356.3,191.6 362.6,197.1 369.4,205.8 375.7,212.1 383.6,214.5 391.5,215.2 399.4,214.5 407.2,210.5 415.1,205.8 421.4,199.5 427.7,193.2 434.0,188.5 440.3,182.2 446.6,177.4 451.3,175.9 457.6,177.4 461.5,176.7" fill="none" stroke="#f4f41c" stroke-width="1.75" stroke-linejoin="round"/><polyline points="69.7,173.5 80.7,177.4 88.6,183.7 96.5,191.6 106.0,201.0 113.8,207.4 121.7,212.1 131.1,215.2 143.7,217.6 153.2,216.0 162.6,213.7 171.3,211.3 179.2,209.7 188.6,202.6 196.5,198.7 204.4,194.8 210.7,185.3 215.4,178.2 223.3,175.9 231.1,176.2 237.4,179.0 243.7,185.3 250.0,185.3 259.5,190.8 265.0,194.0 271.3,197.1 277.6,197.9 283.9,203.4 290.2,208.2 298.1,214.5 302.8,210.5 310.7,205.8 317.0,200.3 323.3,200.3 328.0,188.5 331.1,182.2 337.4,180.6 343.7,179.0 348.5,177.8 359.5,177.4 367.9,179.0 375.7,182.2 382.0,191.6 388.3,201.1 394.6,208.9 400.9,215.2 407.2,217.6 415.1,216.8 423.0,214.5 432.4,212.1 441.9,210.5 449.8,208.9 454.5,204.2 461.5,198.7" fill="none" stroke="#80e46a" stroke-width="1.75" stroke-linejoin="round"/>
<polyline points="69.8,250.5 79.5,262.5 89.0,268.6 98.7,271.0 113.2,268.6 125.0,254.0 138.0,240.0 150.0,235.0 168.6,234.8 175.4,237.3 185.5,250.5 200.0,260.1 214.4,267.4 228.9,271.0 243.3,272.2 253.0,266.0 260.0,256.0 272.0,244.0 284.7,235.5 297.0,231.5 306.9,233.0 316.8,244.5 326.7,255.0 330.0,256.8 338.6,264.7 347.2,269.8 355.8,271.9 364.4,272.6 373.0,269.0 378.8,261.9 387.4,253.3 397.4,243.9 406.0,238.9 416.0,234.6 425.4,232.0 437.8,235.0 450.0,246.0 461.5,260.0" fill="none" stroke="#f4f41c" stroke-width="1.75" stroke-linejoin="round" stroke-dasharray="3.3,2.5"/><polyline points="69.8,252.0 79.5,262.0 89.0,269.0 98.7,272.0 113.2,270.0 122.8,250.5 132.5,240.9 147.0,234.8 161.4,233.6 190.3,231.2 209.0,232.4 218.5,238.5 233.7,252.9 245.7,266.2 256.0,271.0 265.0,271.5 274.8,270.9 286.0,267.0 297.0,261.0 309.4,251.2 321.7,243.8 330.0,240.3 338.6,244.7 347.2,250.4 356.0,255.5 365.0,260.0 375.0,265.5 384.5,271.9 391.7,272.6 397.4,269.0 404.6,261.9 411.8,254.7 419.0,244.7 437.8,236.3 457.5,232.6 461.5,231.5" fill="none" stroke="#80e46a" stroke-width="1.75" stroke-linejoin="round" stroke-dasharray="3.3,2.5"/><polyline points="69.8,250.5 79.5,262.5 89.0,268.6 98.7,271.0 113.2,268.6 127.7,257.7 142.0,243.3 154.0,237.3 168.6,236.0 178.3,238.5 185.5,245.7 195.0,251.7 204.8,255.3 214.4,260.1 224.0,263.8 233.7,268.6 243.3,268.6 253.0,265.0 260.0,257.3 272.3,246.2 284.7,237.6 297.0,232.6 306.9,233.9 316.8,243.8 326.7,253.6 330.0,255.4 335.7,260.4 341.5,264.7 348.7,268.3 355.8,270.5 364.4,271.2 370.2,269.0 375.9,264.7 383.1,259.0 390.3,251.8 397.4,244.7 404.6,240.3 413.2,236.8 420.0,233.9 425.4,233.9 437.8,236.3 450.0,246.2 461.5,258.6" fill="none" stroke="#f4f41c" stroke-width="1.75" stroke-linejoin="round"/><polyline points="69.8,250.5 79.5,260.1 89.0,267.4 98.7,271.0 113.2,268.6 127.7,260.1 137.3,250.5 147.0,242.0 161.4,238.5 173.4,234.8 190.3,232.4 204.8,233.6 214.4,240.9 228.9,252.9 243.3,267.4 253.0,269.8 260.0,269.7 274.8,268.5 289.6,263.5 302.0,253.6 314.3,243.8 324.2,241.3 330.0,243.2 338.6,247.5 347.2,254.0 355.8,258.3 364.4,261.9 373.0,265.5 381.6,268.3 388.8,269.0 393.1,266.9 398.9,260.4 406.0,253.3 413.2,247.5 420.0,240.3 432.8,238.8 447.7,235.1 461.5,231.4" fill="none" stroke="#80e46a" stroke-width="1.75" stroke-linejoin="round"/>
<polyline points="70.8,308.0 90.0,309.6 150.0,309.8 250.0,309.2 350.0,309.4 463.2,308.8" fill="none" stroke="#f4f41c" stroke-width="2.2" stroke-linejoin="round" stroke-dasharray="4,2.2"/><polyline points="70.8,306.8 80.0,308.6 150.0,309.2 250.0,308.6 350.0,309.0 463.2,308.5" fill="none" stroke="#80e46a" stroke-width="2.2" stroke-linejoin="round"/>
<text x="65.6" y="175.4" font-family='"DejaVu Sans", "Liberation Sans", sans-serif' font-size="9.5" text-anchor="end">1</text>
<text x="65.6" y="222.9" font-family='"DejaVu Sans", "Liberation Sans", sans-serif' font-size="9.5" text-anchor="end">0</text>
<path d="M69.1 172.0h-2.4M69.1 221.0h-2.4" stroke="#555" stroke-width="0.8"/>
<path d="M69.1 221.0v2.2" stroke="#555" stroke-width="0.8"/>
<path d="M167.2 221.0v2.2" stroke="#555" stroke-width="0.8"/>
<path d="M265.4 221.0v2.2" stroke="#555" stroke-width="0.8"/>
<path d="M363.6 221.0v2.2" stroke="#555" stroke-width="0.8"/>
<path d="M461.7 221.0v2.2" stroke="#555" stroke-width="0.8"/>
<text x="65.6" y="232.0" font-family='"DejaVu Sans", "Liberation Sans", sans-serif' font-size="9.5" text-anchor="end">1</text>
<text x="65.6" y="279.7" font-family='"DejaVu Sans", "Liberation Sans", sans-serif' font-size="9.5" text-anchor="end">0</text>
<path d="M69.1 227.1h-2.4M69.1 276.4h-2.4" stroke="#555" stroke-width="0.8"/>
<path d="M69.1 276.4v2.2" stroke="#555" stroke-width="0.8"/>
<path d="M167.2 276.4v2.2" stroke="#555" stroke-width="0.8"/>
<path d="M265.4 276.4v2.2" stroke="#555" stroke-width="0.8"/>
<path d="M363.6 276.4v2.2" stroke="#555" stroke-width="0.8"/>
<path d="M461.7 276.4v2.2" stroke="#555" stroke-width="0.8"/>
<text x="65.6" y="289.3" font-family='"DejaVu Sans", "Liberation Sans", sans-serif' font-size="9.5" text-anchor="end">1</text>
<text x="65.6" y="337.7" font-family='"DejaVu Sans", "Liberation Sans", sans-serif' font-size="9.5" text-anchor="end">0</text>
<path d="M70.8 285.3h-2.4M70.8 334.6h-2.4" stroke="#555" stroke-width="0.8"/>
<path d="M70.8 334.6v2.2" stroke="#555" stroke-width="0.8"/>
<path d="M168.9 334.6v2.2" stroke="#555" stroke-width="0.8"/>
<path d="M267.0 334.6v2.2" stroke="#555" stroke-width="0.8"/>
<path d="M365.1 334.6v2.2" stroke="#555" stroke-width="0.8"/>
<path d="M463.2 334.6v2.2" stroke="#555" stroke-width="0.8"/>
<text x="70.8" y="345.2" font-family='"DejaVu Sans", "Liberation Sans", sans-serif' font-size="9" text-anchor="middle">0</text>
<text x="168.9" y="345.2" font-family='"DejaVu Sans", "Liberation Sans", sans-serif' font-size="9" text-anchor="middle">1</text>
<text x="267.0" y="345.2" font-family='"DejaVu Sans", "Liberation Sans", sans-serif' font-size="9" text-anchor="middle">2</text>
<text x="365.1" y="345.2" font-family='"DejaVu Sans", "Liberation Sans", sans-serif' font-size="9" text-anchor="middle">3</text>
<text x="463.2" y="345.2" font-family='"DejaVu Sans", "Liberation Sans", sans-serif' font-size="9" text-anchor="middle">4</text>
<text x="241.2" y="359.5" font-family='"Liberation Serif", "DejaVu Serif", serif' font-size="14" textLength="63.0" lengthAdjust="spacingAndGlyphs">time (μs)</text>
<text x="38.8" y="201.9" font-family='"Liberation Serif", "DejaVu Serif", serif' font-size="22" font-style="italic" textLength="16.5" lengthAdjust="spacingAndGlyphs">P</text>
<text x="53.6" y="205.8" font-family='"Liberation Serif", "DejaVu Serif", serif' font-size="14" font-style="italic" textLength="10.2" lengthAdjust="spacingAndGlyphs">Z</text>
<text x="38.8" y="259.4" font-family='"Liberation Serif", "DejaVu Serif", serif' font-size="22" font-style="italic" textLength="16.5" lengthAdjust="spacingAndGlyphs">P</text>
<text x="53.6" y="262.8" font-family='"Liberation Serif", "DejaVu Serif", serif' font-size="14" font-style="italic" textLength="10.2" lengthAdjust="spacingAndGlyphs">Y</text>
<text x="38.8" y="315.5" font-family='"Liberation Serif", "DejaVu Serif", serif' font-size="22" font-style="italic" textLength="16.5" lengthAdjust="spacingAndGlyphs">P</text>
<text x="53.6" y="319.0" font-family='"Liberation Serif", "DejaVu Serif", serif' font-size="14" font-style="italic" textLength="10.2" lengthAdjust="spacingAndGlyphs">X</text>
<line x1="471.8" y1="205.6" x2="496.4" y2="205.6" stroke="#000" stroke-width="1.5"/>
<line x1="472.7" y1="217.7" x2="494.3" y2="217.7" stroke="#000" stroke-width="1.5" stroke-dasharray="3.6,2.3"/>
<text x="503.7" y="210.0" font-family='"Liberation Serif", "DejaVu Serif", serif' font-size="12.4" textLength="26.1" lengthAdjust="spacingAndGlyphs">RNN</text>
<text x="503.7" y="221.6" font-family='"Liberation Serif", "DejaVu Serif", serif' font-size="12.4" textLength="25.6" lengthAdjust="spacingAndGlyphs">SME</text>
<rect x="486.3" y="257" width="9.8" height="69.6" fill="url(#gh)" stroke="#222" stroke-width="0.9"/>
<text x="499.6" y="263.6" font-family='"Liberation Serif", "DejaVu Serif", serif' font-size="14">1</text>
<text x="499.4" y="331.9" font-family='"Liberation Serif", "DejaVu Serif", serif' font-size="14">0</text>
<text x="0.0" y="0.0" font-family='"DejaVu Sans", "Liberation Sans", sans-serif' font-size="9" textLength="47.3" lengthAdjust="spacingAndGlyphs" transform="translate(504.6,267.4) rotate(90)">probability</text>
<text x="550.8" y="16.0" font-family='"Liberation Sans", "DejaVu Sans", sans-serif' font-size="15.5" font-weight="bold" textLength="10.8" lengthAdjust="spacingAndGlyphs" stroke="#000" stroke-width="0.35">c.</text>
<text x="577.0" y="26.9" font-family='"Liberation Sans", "DejaVu Sans", sans-serif' font-size="18.5" textLength="155.0" lengthAdjust="spacingAndGlyphs">training validation</text>
<g shape-rendering="crispEdges"><path fill="#880000" d="M576.3 40.0h6.3v3.8h-6.3zM705.4 40.0h3.3v3.8h-3.3zM723.4 43.5h3.3v3.8h-3.3zM585.3 47.1h3.3v3.8h-3.3zM726.4 47.1h9.3v3.8h-9.3zM783.5 47.1h3.3v3.8h-3.3zM591.3 50.6h3.3v3.8h-3.3zM687.4 50.6h3.3v3.8h-3.3zM594.3 54.2h3.3v3.8h-3.3zM687.4 54.2h9.3v3.8h-9.3zM732.4 54.2h3.3v3.8h-3.3zM738.4 54.2h3.3v3.8h-3.3zM663.4 57.7h3.3v3.8h-3.3zM684.4 57.7h3.3v3.8h-3.3zM789.5 57.7h6.3v3.8h-6.3zM660.4 61.3h3.3v3.8h-3.3zM789.5 64.8h3.3v3.8h-3.3zM618.3 68.4h6.3v3.8h-6.3zM639.4 68.4h3.3v3.8h-3.3zM648.4 68.4h3.3v3.8h-3.3zM660.4 68.4h3.3v3.8h-3.3zM726.4 68.4h3.3v3.8h-3.3zM753.5 68.4h3.3v3.8h-3.3zM624.3 71.9h3.3v3.8h-3.3zM630.3 71.9h6.3v3.8h-6.3zM657.4 71.9h3.3v3.8h-3.3zM759.5 71.9h6.3v3.8h-6.3zM783.5 71.9h3.3v3.8h-3.3zM657.4 75.5h3.3v3.8h-3.3zM786.5 75.5h3.3v3.8h-3.3zM780.5 79.0h3.3v3.8h-3.3zM627.3 82.6h6.3v3.8h-6.3zM756.5 82.6h3.3v3.8h-3.3z"/>
<path fill="#960000" d="M582.3 40.0h3.3v3.8h-3.3zM669.4 50.6h3.3v3.8h-3.3zM726.4 50.6h12.3v3.8h-12.3zM603.3 54.2h3.3v3.8h-3.3zM780.5 54.2h3.3v3.8h-3.3zM792.5 54.2h3.3v3.8h-3.3zM738.4 57.7h3.3v3.8h-3.3zM777.5 57.7h3.3v3.8h-3.3zM786.5 57.7h3.3v3.8h-3.3zM795.5 57.7h6.3v3.8h-6.3zM600.3 61.3h3.3v3.8h-3.3zM678.4 61.3h3.3v3.8h-3.3zM744.4 61.3h3.3v3.8h-3.3zM669.4 64.8h3.3v3.8h-3.3zM774.5 64.8h3.3v3.8h-3.3zM750.5 68.4h3.3v3.8h-3.3zM780.5 68.4h3.3v3.8h-3.3zM789.5 68.4h3.3v3.8h-3.3zM732.4 71.9h3.3v3.8h-3.3zM765.5 71.9h3.3v3.8h-3.3zM654.4 75.5h3.3v3.8h-3.3zM783.5 75.5h3.3v3.8h-3.3zM744.4 79.0h3.3v3.8h-3.3zM759.5 82.6h6.3v3.8h-6.3z"/>
<path fill="#7a0000" d="M585.3 40.0h6.3v3.8h-6.3zM675.4 40.0h3.3v3.8h-3.3zM693.4 40.0h6.3v3.8h-6.3zM702.4 40.0h3.3v3.8h-3.3zM708.4 40.0h3.3v3.8h-3.3zM795.5 40.0h3.3v3.8h-3.3zM801.5 40.0h3.3v3.8h-3.3zM663.4 43.5h3.3v3.8h-3.3zM726.4 43.5h6.3v3.8h-6.3zM579.3 47.1h6.3v3.8h-6.3zM660.4 47.1h3.3v3.8h-3.3zM735.4 47.1h3.3v3.8h-3.3zM672.4 50.6h9.3v3.8h-9.3zM684.4 50.6h3.3v3.8h-3.3zM738.4 50.6h3.3v3.8h-3.3zM666.4 54.2h3.3v3.8h-3.3zM696.4 54.2h9.3v3.8h-9.3zM708.4 54.2h3.3v3.8h-3.3zM735.4 54.2h3.3v3.8h-3.3zM741.4 54.2h3.3v3.8h-3.3zM597.3 57.7h3.3v3.8h-3.3zM678.4 57.7h3.3v3.8h-3.3zM687.4 57.7h6.3v3.8h-6.3zM744.4 57.7h3.3v3.8h-3.3zM801.5 57.7h3.3v3.8h-3.3zM669.4 61.3h3.3v3.8h-3.3zM675.4 61.3h3.3v3.8h-3.3zM681.4 61.3h9.3v3.8h-9.3zM747.5 61.3h3.3v3.8h-3.3zM774.5 61.3h3.3v3.8h-3.3zM786.5 61.3h6.3v3.8h-6.3zM795.5 61.3h3.3v3.8h-3.3zM615.3 64.8h3.3v3.8h-3.3zM663.4 64.8h6.3v3.8h-6.3zM672.4 64.8h12.3v3.8h-12.3zM783.5 64.8h3.3v3.8h-3.3zM792.5 64.8h3.3v3.8h-3.3zM633.3 68.4h6.3v3.8h-6.3zM642.4 68.4h3.3v3.8h-3.3zM657.4 68.4h3.3v3.8h-3.3zM663.4 68.4h3.3v3.8h-3.3zM783.5 68.4h6.3v3.8h-6.3zM792.5 68.4h3.3v3.8h-3.3zM627.3 71.9h3.3v3.8h-3.3zM660.4 71.9h3.3v3.8h-3.3zM786.5 71.9h6.3v3.8h-6.3zM735.4 75.5h3.3v3.8h-3.3zM654.4 79.0h3.3v3.8h-3.3zM783.5 79.0h3.3v3.8h-3.3zM624.3 82.6h3.3v3.8h-3.3zM633.3 82.6h12.3v3.8h-12.3zM753.5 82.6h3.3v3.8h-3.3zM765.5 82.6h9.3v3.8h-9.3z"/>
<path fill="#6c0000" d="M591.3 40.0h3.3v3.8h-3.3zM672.4 40.0h3.3v3.8h-3.3zM678.4 40.0h15.3v3.8h-15.3zM699.4 40.0h3.3v3.8h-3.3zM711.4 40.0h6.3v3.8h-6.3zM792.5 40.0h3.3v3.8h-3.3zM798.5 40.0h3.3v3.8h-3.3zM597.3 43.5h3.3v3.8h-3.3zM732.4 43.5h3.3v3.8h-3.3zM603.3 50.6h3.3v3.8h-3.3zM681.4 50.6h3.3v3.8h-3.3zM780.5 50.6h3.3v3.8h-3.3zM678.4 54.2h3.3v3.8h-3.3zM684.4 54.2h3.3v3.8h-3.3zM711.4 54.2h3.3v3.8h-3.3zM609.3 57.7h3.3v3.8h-3.3zM672.4 57.7h6.3v3.8h-6.3zM681.4 57.7h3.3v3.8h-3.3zM717.4 57.7h3.3v3.8h-3.3zM612.3 61.3h3.3v3.8h-3.3zM663.4 61.3h6.3v3.8h-6.3zM672.4 61.3h3.3v3.8h-3.3zM720.4 61.3h3.3v3.8h-3.3zM618.3 64.8h3.3v3.8h-3.3zM651.4 64.8h3.3v3.8h-3.3zM684.4 64.8h3.3v3.8h-3.3zM723.4 64.8h3.3v3.8h-3.3zM750.5 64.8h3.3v3.8h-3.3zM771.5 64.8h3.3v3.8h-3.3zM786.5 64.8h3.3v3.8h-3.3zM795.5 64.8h3.3v3.8h-3.3zM624.3 68.4h3.3v3.8h-3.3zM630.3 68.4h3.3v3.8h-3.3zM645.4 68.4h3.3v3.8h-3.3zM666.4 68.4h9.3v3.8h-9.3zM768.5 68.4h3.3v3.8h-3.3zM663.4 71.9h3.3v3.8h-3.3zM729.4 71.9h3.3v3.8h-3.3zM741.4 79.0h3.3v3.8h-3.3zM786.5 79.0h3.3v3.8h-3.3zM621.3 82.6h3.3v3.8h-3.3zM750.5 82.6h3.3v3.8h-3.3z"/>
<path fill="#420000" d="M594.3 40.0h3.3v3.8h-3.3zM666.4 40.0h3.3v3.8h-3.3zM723.4 40.0h3.3v3.8h-3.3zM786.5 40.0h3.3v3.8h-3.3zM660.4 43.5h3.3v3.8h-3.3zM738.4 43.5h3.3v3.8h-3.3zM741.4 47.1h3.3v3.8h-3.3zM780.5 47.1h3.3v3.8h-3.3zM585.3 50.6h3.3v3.8h-3.3zM612.3 57.7h3.3v3.8h-3.3zM696.4 57.7h12.3v3.8h-12.3zM711.4 57.7h3.3v3.8h-3.3zM747.5 57.7h3.3v3.8h-3.3zM774.5 57.7h3.3v3.8h-3.3zM597.3 61.3h3.3v3.8h-3.3zM717.4 61.3h3.3v3.8h-3.3zM750.5 61.3h3.3v3.8h-3.3zM771.5 61.3h3.3v3.8h-3.3zM801.5 61.3h3.3v3.8h-3.3zM600.3 64.8h3.3v3.8h-3.3zM630.3 64.8h6.3v3.8h-6.3zM645.4 64.8h6.3v3.8h-6.3zM720.4 64.8h3.3v3.8h-3.3zM753.5 64.8h6.3v3.8h-6.3zM768.5 64.8h3.3v3.8h-3.3zM798.5 64.8h3.3v3.8h-3.3zM684.4 68.4h3.3v3.8h-3.3zM723.4 68.4h3.3v3.8h-3.3zM726.4 71.9h3.3v3.8h-3.3zM663.4 75.5h3.3v3.8h-3.3zM729.4 75.5h3.3v3.8h-3.3zM792.5 75.5h3.3v3.8h-3.3zM660.4 79.0h3.3v3.8h-3.3zM735.4 79.0h3.3v3.8h-3.3zM789.5 79.0h3.3v3.8h-3.3zM651.4 82.6h3.3v3.8h-3.3zM744.4 82.6h3.3v3.8h-3.3zM780.5 82.6h6.3v3.8h-6.3z"/>
<path fill="#270000" d="M597.3 40.0h3.3v3.8h-3.3zM663.4 40.0h3.3v3.8h-3.3zM735.4 40.0h3.3v3.8h-3.3zM783.5 40.0h3.3v3.8h-3.3zM603.3 43.5h3.3v3.8h-3.3zM657.4 43.5h3.3v3.8h-3.3zM741.4 43.5h6.3v3.8h-6.3zM777.5 43.5h6.3v3.8h-6.3zM606.3 47.1h3.3v3.8h-3.3zM744.4 47.1h3.3v3.8h-3.3zM774.5 47.1h6.3v3.8h-6.3zM576.3 50.6h3.3v3.8h-3.3zM609.3 50.6h3.3v3.8h-3.3zM654.4 50.6h3.3v3.8h-3.3zM747.5 50.6h6.3v3.8h-6.3zM771.5 50.6h6.3v3.8h-6.3zM579.3 54.2h12.3v3.8h-12.3zM612.3 54.2h3.3v3.8h-3.3zM750.5 54.2h12.3v3.8h-12.3zM765.5 54.2h12.3v3.8h-12.3zM591.3 57.7h3.3v3.8h-3.3zM615.3 57.7h6.3v3.8h-6.3zM639.4 57.7h3.3v3.8h-3.3zM648.4 57.7h6.3v3.8h-6.3zM753.5 57.7h18.3v3.8h-18.3zM594.3 61.3h3.3v3.8h-3.3zM621.3 61.3h18.3v3.8h-18.3zM642.4 61.3h9.3v3.8h-9.3zM699.4 61.3h15.3v3.8h-15.3zM753.5 61.3h15.3v3.8h-15.3zM597.3 64.8h3.3v3.8h-3.3zM693.4 64.8h24.3v3.8h-24.3zM600.3 68.4h3.3v3.8h-3.3zM687.4 68.4h3.3v3.8h-3.3zM708.4 68.4h12.3v3.8h-12.3zM801.5 68.4h3.3v3.8h-3.3zM603.3 71.9h3.3v3.8h-3.3zM678.4 71.9h3.3v3.8h-3.3zM684.4 71.9h3.3v3.8h-3.3zM717.4 71.9h9.3v3.8h-9.3zM798.5 71.9h6.3v3.8h-6.3zM603.3 75.5h6.3v3.8h-6.3zM669.4 75.5h6.3v3.8h-6.3zM720.4 75.5h9.3v3.8h-9.3zM795.5 75.5h3.3v3.8h-3.3zM801.5 75.5h3.3v3.8h-3.3zM606.3 79.0h3.3v3.8h-3.3zM663.4 79.0h6.3v3.8h-6.3zM726.4 79.0h6.3v3.8h-6.3zM792.5 79.0h6.3v3.8h-6.3zM612.3 82.6h3.3v3.8h-3.3zM654.4 82.6h6.3v3.8h-6.3zM738.4 82.6h6.3v3.8h-6.3zM786.5 82.6h6.3v3.8h-6.3z"/>
<path fill="#190000" d="M600.3 40.0h6.3v3.8h-6.3zM657.4 40.0h6.3v3.8h-6.3zM738.4 40.0h12.3v3.8h-12.3zM774.5 40.0h9.3v3.8h-9.3zM606.3 43.5h18.3v3.8h-18.3zM627.3 43.5h6.3v3.8h-6.3zM636.4 43.5h21.3v3.8h-21.3zM747.5 43.5h30.3v3.8h-30.3zM609.3 47.1h18.3v3.8h-18.3zM630.3 47.1h27.3v3.8h-27.3zM747.5 47.1h27.3v3.8h-27.3zM612.3 50.6h42.3v3.8h-42.3zM753.5 50.6h18.3v3.8h-18.3zM576.3 54.2h3.3v3.8h-3.3zM615.3 54.2h39.3v3.8h-39.3zM762.5 54.2h3.3v3.8h-3.3zM576.3 57.7h15.3v3.8h-15.3zM621.3 57.7h18.3v3.8h-18.3zM642.4 57.7h6.3v3.8h-6.3zM576.3 61.3h18.3v3.8h-18.3zM576.3 64.8h21.3v3.8h-21.3zM585.3 68.4h15.3v3.8h-15.3zM690.4 68.4h18.3v3.8h-18.3zM588.3 71.9h3.3v3.8h-3.3zM594.3 71.9h9.3v3.8h-9.3zM687.4 71.9h30.3v3.8h-30.3zM594.3 75.5h9.3v3.8h-9.3zM675.4 75.5h45.3v3.8h-45.3zM798.5 75.5h3.3v3.8h-3.3zM597.3 79.0h9.3v3.8h-9.3zM669.4 79.0h57.4v3.8h-57.4zM798.5 79.0h6.3v3.8h-6.3zM606.3 82.6h6.3v3.8h-6.3zM660.4 82.6h12.3v3.8h-12.3zM720.4 82.6h18.3v3.8h-18.3zM792.5 82.6h12.3v3.8h-12.3z"/>
<path fill="#0b0000" d="M606.3 40.0h51.3v3.8h-51.3zM750.5 40.0h24.3v3.8h-24.3zM624.3 43.5h3.3v3.8h-3.3zM633.3 43.5h3.3v3.8h-3.3zM627.3 47.1h3.3v3.8h-3.3zM576.3 68.4h9.3v3.8h-9.3zM576.3 71.9h12.3v3.8h-12.3zM591.3 71.9h3.3v3.8h-3.3zM576.3 75.5h18.3v3.8h-18.3zM576.3 79.0h21.3v3.8h-21.3zM576.3 82.6h30.3v3.8h-30.3zM672.4 82.6h48.3v3.8h-48.3z"/>
<path fill="#500000" d="M669.4 40.0h3.3v3.8h-3.3zM720.4 40.0h3.3v3.8h-3.3zM789.5 40.0h3.3v3.8h-3.3zM783.5 43.5h3.3v3.8h-3.3zM576.3 47.1h3.3v3.8h-3.3zM672.4 54.2h3.3v3.8h-3.3zM744.4 54.2h3.3v3.8h-3.3zM777.5 54.2h3.3v3.8h-3.3zM666.4 57.7h3.3v3.8h-3.3zM693.4 57.7h3.3v3.8h-3.3zM615.3 61.3h3.3v3.8h-3.3zM690.4 61.3h3.3v3.8h-3.3zM621.3 64.8h3.3v3.8h-3.3zM636.4 64.8h3.3v3.8h-3.3zM642.4 64.8h3.3v3.8h-3.3zM687.4 64.8h3.3v3.8h-3.3zM603.3 68.4h3.3v3.8h-3.3zM675.4 68.4h9.3v3.8h-9.3zM762.5 68.4h6.3v3.8h-6.3zM795.5 68.4h3.3v3.8h-3.3zM669.4 71.9h3.3v3.8h-3.3zM609.3 75.5h3.3v3.8h-3.3zM732.4 75.5h3.3v3.8h-3.3zM648.4 82.6h3.3v3.8h-3.3zM747.5 82.6h3.3v3.8h-3.3zM777.5 82.6h3.3v3.8h-3.3z"/>
<path fill="#5e0000" d="M717.4 40.0h3.3v3.8h-3.3zM735.4 43.5h3.3v3.8h-3.3zM600.3 47.1h3.3v3.8h-3.3zM738.4 47.1h3.3v3.8h-3.3zM588.3 50.6h3.3v3.8h-3.3zM657.4 50.6h3.3v3.8h-3.3zM741.4 50.6h3.3v3.8h-3.3zM606.3 54.2h3.3v3.8h-3.3zM669.4 54.2h3.3v3.8h-3.3zM675.4 54.2h3.3v3.8h-3.3zM681.4 54.2h3.3v3.8h-3.3zM705.4 54.2h3.3v3.8h-3.3zM654.4 57.7h3.3v3.8h-3.3zM669.4 57.7h3.3v3.8h-3.3zM714.4 57.7h3.3v3.8h-3.3zM798.5 61.3h3.3v3.8h-3.3zM639.4 64.8h3.3v3.8h-3.3zM660.4 64.8h3.3v3.8h-3.3zM627.3 68.4h3.3v3.8h-3.3zM756.5 68.4h6.3v3.8h-6.3zM606.3 71.9h3.3v3.8h-3.3zM666.4 71.9h3.3v3.8h-3.3zM792.5 71.9h3.3v3.8h-3.3zM660.4 75.5h3.3v3.8h-3.3zM789.5 75.5h3.3v3.8h-3.3zM612.3 79.0h3.3v3.8h-3.3zM657.4 79.0h3.3v3.8h-3.3zM738.4 79.0h3.3v3.8h-3.3zM618.3 82.6h3.3v3.8h-3.3zM645.4 82.6h3.3v3.8h-3.3zM774.5 82.6h3.3v3.8h-3.3z"/>
<path fill="#340000" d="M726.4 40.0h9.3v3.8h-9.3zM600.3 43.5h3.3v3.8h-3.3zM603.3 47.1h3.3v3.8h-3.3zM657.4 47.1h3.3v3.8h-3.3zM579.3 50.6h6.3v3.8h-6.3zM606.3 50.6h3.3v3.8h-3.3zM744.4 50.6h3.3v3.8h-3.3zM777.5 50.6h3.3v3.8h-3.3zM591.3 54.2h3.3v3.8h-3.3zM609.3 54.2h3.3v3.8h-3.3zM654.4 54.2h3.3v3.8h-3.3zM747.5 54.2h3.3v3.8h-3.3zM594.3 57.7h3.3v3.8h-3.3zM708.4 57.7h3.3v3.8h-3.3zM750.5 57.7h3.3v3.8h-3.3zM771.5 57.7h3.3v3.8h-3.3zM618.3 61.3h3.3v3.8h-3.3zM639.4 61.3h3.3v3.8h-3.3zM651.4 61.3h3.3v3.8h-3.3zM693.4 61.3h6.3v3.8h-6.3zM714.4 61.3h3.3v3.8h-3.3zM768.5 61.3h3.3v3.8h-3.3zM624.3 64.8h6.3v3.8h-6.3zM690.4 64.8h3.3v3.8h-3.3zM717.4 64.8h3.3v3.8h-3.3zM759.5 64.8h9.3v3.8h-9.3zM801.5 64.8h3.3v3.8h-3.3zM720.4 68.4h3.3v3.8h-3.3zM798.5 68.4h3.3v3.8h-3.3zM672.4 71.9h6.3v3.8h-6.3zM681.4 71.9h3.3v3.8h-3.3zM795.5 71.9h3.3v3.8h-3.3zM666.4 75.5h3.3v3.8h-3.3zM609.3 79.0h3.3v3.8h-3.3zM732.4 79.0h3.3v3.8h-3.3zM615.3 82.6h3.3v3.8h-3.3z"/>
<path fill="#ce0000" d="M576.3 43.5h3.3v3.8h-3.3zM681.4 43.5h6.3v3.8h-6.3zM690.4 43.5h3.3v3.8h-3.3zM717.4 43.5h3.3v3.8h-3.3zM789.5 43.5h3.3v3.8h-3.3zM798.5 43.5h3.3v3.8h-3.3zM597.3 47.1h3.3v3.8h-3.3zM696.4 47.1h3.3v3.8h-3.3zM711.4 47.1h3.3v3.8h-3.3zM720.4 47.1h3.3v3.8h-3.3zM786.5 47.1h3.3v3.8h-3.3zM792.5 47.1h3.3v3.8h-3.3zM594.3 50.6h6.3v3.8h-6.3zM660.4 50.6h3.3v3.8h-3.3zM666.4 50.6h3.3v3.8h-3.3zM723.4 50.6h3.3v3.8h-3.3zM786.5 50.6h6.3v3.8h-6.3zM660.4 54.2h3.3v3.8h-3.3zM603.3 57.7h3.3v3.8h-3.3zM657.4 57.7h3.3v3.8h-3.3zM723.4 57.7h3.3v3.8h-3.3zM606.3 61.3h3.3v3.8h-3.3zM657.4 61.3h3.3v3.8h-3.3zM732.4 61.3h3.3v3.8h-3.3zM780.5 61.3h3.3v3.8h-3.3zM609.3 64.8h3.3v3.8h-3.3zM729.4 64.8h3.3v3.8h-3.3zM738.4 64.8h3.3v3.8h-3.3zM744.4 64.8h3.3v3.8h-3.3zM609.3 68.4h6.3v3.8h-6.3zM738.4 68.4h6.3v3.8h-6.3zM747.5 68.4h3.3v3.8h-3.3zM774.5 68.4h3.3v3.8h-3.3zM615.3 71.9h3.3v3.8h-3.3zM645.4 71.9h3.3v3.8h-3.3zM741.4 71.9h3.3v3.8h-3.3zM777.5 71.9h3.3v3.8h-3.3zM759.5 75.5h3.3v3.8h-3.3zM765.5 75.5h6.3v3.8h-6.3zM774.5 75.5h3.3v3.8h-3.3zM618.3 79.0h3.3v3.8h-3.3zM642.4 79.0h3.3v3.8h-3.3zM759.5 79.0h3.3v3.8h-3.3z"/>
<path fill="#dc0000" d="M579.3 43.5h9.3v3.8h-9.3zM675.4 43.5h6.3v3.8h-6.3zM696.4 43.5h6.3v3.8h-6.3zM705.4 43.5h3.3v3.8h-3.3zM792.5 43.5h6.3v3.8h-6.3zM801.5 43.5h3.3v3.8h-3.3zM699.4 47.1h9.3v3.8h-9.3zM789.5 47.1h3.3v3.8h-3.3zM597.3 54.2h3.3v3.8h-3.3zM786.5 54.2h3.3v3.8h-3.3zM780.5 57.7h3.3v3.8h-3.3zM603.3 61.3h3.3v3.8h-3.3zM726.4 61.3h3.3v3.8h-3.3zM777.5 64.8h3.3v3.8h-3.3zM735.4 68.4h3.3v3.8h-3.3zM744.4 68.4h3.3v3.8h-3.3zM777.5 68.4h3.3v3.8h-3.3zM612.3 71.9h3.3v3.8h-3.3zM747.5 71.9h3.3v3.8h-3.3zM771.5 71.9h6.3v3.8h-6.3zM618.3 75.5h3.3v3.8h-3.3zM645.4 75.5h3.3v3.8h-3.3zM771.5 75.5h3.3v3.8h-3.3zM624.3 79.0h3.3v3.8h-3.3zM636.4 79.0h3.3v3.8h-3.3zM753.5 79.0h3.3v3.8h-3.3zM774.5 79.0h3.3v3.8h-3.3z"/>
<path fill="#f80000" d="M588.3 43.5h6.3v3.8h-6.3zM702.4 43.5h3.3v3.8h-3.3zM714.4 43.5h3.3v3.8h-3.3zM798.5 47.1h3.3v3.8h-3.3zM744.4 71.9h3.3v3.8h-3.3zM750.5 75.5h3.3v3.8h-3.3zM750.5 79.0h3.3v3.8h-3.3zM762.5 79.0h6.3v3.8h-6.3z"/>
<path fill="#b20000" d="M594.3 43.5h3.3v3.8h-3.3zM786.5 43.5h3.3v3.8h-3.3zM588.3 47.1h3.3v3.8h-3.3zM669.4 47.1h15.3v3.8h-15.3zM687.4 47.1h6.3v3.8h-6.3zM600.3 50.6h3.3v3.8h-3.3zM699.4 50.6h9.3v3.8h-9.3zM657.4 54.2h3.3v3.8h-3.3zM789.5 54.2h3.3v3.8h-3.3zM801.5 54.2h3.3v3.8h-3.3zM660.4 57.7h3.3v3.8h-3.3zM783.5 57.7h3.3v3.8h-3.3zM783.5 61.3h3.3v3.8h-3.3zM603.3 64.8h3.3v3.8h-3.3zM741.4 64.8h3.3v3.8h-3.3zM747.5 64.8h3.3v3.8h-3.3zM780.5 64.8h3.3v3.8h-3.3zM729.4 68.4h3.3v3.8h-3.3zM618.3 71.9h6.3v3.8h-6.3zM639.4 71.9h6.3v3.8h-6.3zM648.4 71.9h3.3v3.8h-3.3zM768.5 71.9h3.3v3.8h-3.3zM615.3 75.5h3.3v3.8h-3.3zM624.3 75.5h6.3v3.8h-6.3zM639.4 75.5h3.3v3.8h-3.3zM633.3 79.0h3.3v3.8h-3.3zM651.4 79.0h3.3v3.8h-3.3z"/>
<path fill="#a40000" d="M666.4 43.5h3.3v3.8h-3.3zM720.4 43.5h3.3v3.8h-3.3zM684.4 47.1h3.3v3.8h-3.3zM690.4 50.6h6.3v3.8h-6.3zM711.4 50.6h3.3v3.8h-3.3zM783.5 50.6h3.3v3.8h-3.3zM792.5 50.6h3.3v3.8h-3.3zM714.4 54.2h6.3v3.8h-6.3zM729.4 54.2h3.3v3.8h-3.3zM798.5 54.2h3.3v3.8h-3.3zM606.3 57.7h3.3v3.8h-3.3zM720.4 57.7h3.3v3.8h-3.3zM732.4 57.7h6.3v3.8h-6.3zM741.4 57.7h3.3v3.8h-3.3zM609.3 61.3h3.3v3.8h-3.3zM654.4 61.3h3.3v3.8h-3.3zM723.4 61.3h3.3v3.8h-3.3zM738.4 61.3h6.3v3.8h-6.3zM792.5 61.3h3.3v3.8h-3.3zM612.3 64.8h3.3v3.8h-3.3zM657.4 64.8h3.3v3.8h-3.3zM606.3 68.4h3.3v3.8h-3.3zM651.4 68.4h3.3v3.8h-3.3zM771.5 68.4h3.3v3.8h-3.3zM636.4 71.9h3.3v3.8h-3.3zM735.4 71.9h3.3v3.8h-3.3zM753.5 71.9h6.3v3.8h-6.3zM780.5 71.9h3.3v3.8h-3.3zM612.3 75.5h3.3v3.8h-3.3zM630.3 75.5h9.3v3.8h-9.3zM738.4 75.5h6.3v3.8h-6.3zM777.5 75.5h6.3v3.8h-6.3zM615.3 79.0h3.3v3.8h-3.3zM747.5 79.0h3.3v3.8h-3.3zM777.5 79.0h3.3v3.8h-3.3z"/>
<path fill="#c00000" d="M669.4 43.5h6.3v3.8h-6.3zM591.3 47.1h3.3v3.8h-3.3zM663.4 47.1h6.3v3.8h-6.3zM693.4 47.1h3.3v3.8h-3.3zM723.4 47.1h3.3v3.8h-3.3zM795.5 47.1h3.3v3.8h-3.3zM663.4 50.6h3.3v3.8h-3.3zM696.4 50.6h3.3v3.8h-3.3zM708.4 50.6h3.3v3.8h-3.3zM714.4 50.6h3.3v3.8h-3.3zM795.5 50.6h6.3v3.8h-6.3zM600.3 54.2h3.3v3.8h-3.3zM663.4 54.2h3.3v3.8h-3.3zM726.4 54.2h3.3v3.8h-3.3zM783.5 54.2h3.3v3.8h-3.3zM795.5 54.2h3.3v3.8h-3.3zM600.3 57.7h3.3v3.8h-3.3zM726.4 57.7h6.3v3.8h-6.3zM729.4 61.3h3.3v3.8h-3.3zM735.4 61.3h3.3v3.8h-3.3zM777.5 61.3h3.3v3.8h-3.3zM726.4 64.8h3.3v3.8h-3.3zM735.4 64.8h3.3v3.8h-3.3zM615.3 68.4h3.3v3.8h-3.3zM732.4 68.4h3.3v3.8h-3.3zM609.3 71.9h3.3v3.8h-3.3zM654.4 71.9h3.3v3.8h-3.3zM738.4 71.9h3.3v3.8h-3.3zM621.3 75.5h3.3v3.8h-3.3zM744.4 75.5h6.3v3.8h-6.3zM762.5 75.5h3.3v3.8h-3.3zM627.3 79.0h6.3v3.8h-6.3zM639.4 79.0h3.3v3.8h-3.3z"/>
<path fill="#ea0000" d="M687.4 43.5h3.3v3.8h-3.3zM693.4 43.5h3.3v3.8h-3.3zM708.4 43.5h6.3v3.8h-6.3zM594.3 47.1h3.3v3.8h-3.3zM708.4 47.1h3.3v3.8h-3.3zM717.4 47.1h3.3v3.8h-3.3zM717.4 50.6h6.3v3.8h-6.3zM801.5 50.6h3.3v3.8h-3.3zM720.4 54.2h6.3v3.8h-6.3zM606.3 64.8h3.3v3.8h-3.3zM654.4 64.8h3.3v3.8h-3.3zM732.4 64.8h3.3v3.8h-3.3zM654.4 68.4h3.3v3.8h-3.3zM651.4 71.9h3.3v3.8h-3.3zM750.5 71.9h3.3v3.8h-3.3zM642.4 75.5h3.3v3.8h-3.3zM648.4 75.5h6.3v3.8h-6.3zM753.5 75.5h6.3v3.8h-6.3zM621.3 79.0h3.3v3.8h-3.3zM645.4 79.0h6.3v3.8h-6.3zM756.5 79.0h3.3v3.8h-3.3zM771.5 79.0h3.3v3.8h-3.3z"/>
<path fill="#ff0700" d="M714.4 47.1h3.3v3.8h-3.3zM801.5 47.1h3.3v3.8h-3.3zM768.5 79.0h3.3v3.8h-3.3z"/></g>
<polyline points="576.7,41.7 585.0,43.5 592.4,49.4 599.9,59.9 607.3,70.3 614.8,77.8 622.2,82.3 629.7,83.8 637.2,82.3 644.6,76.0 647.6,71.8 653.6,62.9 659.6,53.9 665.5,44.2 674.0,42.3 685.0,42.7 700.0,45.0 715.0,48.0 722.6,54.0 730.0,61.6 737.7,69.1 745.2,73.6 752.8,79.7 763.3,83.4 772.3,81.2 778.3,72.1 784.4,61.6 790.4,51.1 796.4,43.5 802.0,42.8" fill="none" stroke="#f4f41c" stroke-width="1.75" stroke-linejoin="round" stroke-dasharray="3.3,2.5"/><polyline points="576.7,41.7 585.0,42.7 596.9,44.2 602.8,46.4 608.8,55.4 614.8,62.9 622.2,68.8 629.7,76.3 637.2,77.8 647.6,69.6 653.6,71.8 662.5,76.3 671.5,68.8 680.5,62.9 691.0,63.9 698.5,52.6 706.0,46.5 715.0,43.5 727.0,46.5 742.0,51.0 749.7,60.0 755.8,72.1 760.3,81.2 769.0,84.2 784.4,82.7 793.4,76.7 799.5,66.1 804.0,51.0" fill="none" stroke="#80e46a" stroke-width="1.75" stroke-linejoin="round" stroke-dasharray="3.3,2.5"/><polyline points="576.7,41.7 585.0,42.7 592.4,46.4 599.9,55.4 607.3,65.9 614.8,74.8 622.2,80.8 629.7,84.5 637.2,83.8 644.6,80.8 652.0,76.3 656.6,65.9 659.6,58.4 665.5,50.9 671.5,46.4 677.5,44.2 685.0,43.5 694.0,44.3 703.0,46.5 712.0,46.5 718.0,50.3 724.0,57.0 730.0,64.6 737.7,69.1 745.2,73.6 752.8,79.7 760.3,82.7 767.8,82.7 775.4,73.6 781.4,63.1 787.4,52.6 793.4,47.3 799.5,46.5 804.0,48.0" fill="none" stroke="#f4f41c" stroke-width="1.75" stroke-linejoin="round"/><polyline points="576.7,41.7 592.4,45.0 599.9,50.9 607.3,59.9 614.8,67.3 622.2,71.8 628.2,75.6 634.2,72.6 641.6,71.8 647.6,76.3 653.6,78.5 659.6,74.8 665.5,70.3 671.5,67.3 677.5,63.6 685.0,63.9 691.0,57.0 697.0,51.0 706.0,45.8 715.0,45.0 727.0,48.0 736.0,51.0 742.0,57.0 748.0,67.6 754.0,78.2 760.0,82.7 769.0,84.2 778.0,82.7 787.4,76.7 793.4,67.6 799.5,55.6 804.0,48.0" fill="none" stroke="#80e46a" stroke-width="1.75" stroke-linejoin="round"/>
<text x="572.8" y="43.4" font-family='"DejaVu Sans", "Liberation Sans", sans-serif' font-size="8.5" text-anchor="end">1</text>
<text x="573.6" y="90.0" font-family='"DejaVu Sans", "Liberation Sans", sans-serif' font-size="8.5" text-anchor="end">0</text>
<text x="576.9" y="96.6" font-family='"DejaVu Sans", "Liberation Sans", sans-serif' font-size="8.5" text-anchor="middle">0</text>
<text x="761.5" y="96.6" font-family='"DejaVu Sans", "Liberation Sans", sans-serif' font-size="8.5" text-anchor="middle">2</text>
<text x="666.0" y="96.2" font-family='"Liberation Serif", "DejaVu Serif", serif' font-size="8" textLength="23.0" lengthAdjust="spacingAndGlyphs"><tspan font-style="italic">t</tspan> (μs)</text>
<path d="M576.3 40.0h-2.2M576.3 86.1h-2.2M576.3 86.1v2.2M761.5 86.1v2.2M669.0 86.1v2.2" stroke="#555" stroke-width="0.8"/>
<text x="548.0" y="69.0" font-family='"Liberation Serif", "DejaVu Serif", serif' font-size="17" font-style="italic">P</text>
<text x="558.8" y="71.6" font-family='"Liberation Serif", "DejaVu Serif", serif' font-size="11" font-style="italic" textLength="7.6" lengthAdjust="spacingAndGlyphs">Z</text>
<text x="625.6" y="57.8" font-family='"DejaVu Math TeX Gyre", "Liberation Serif", serif' font-size="19" fill="#fff">𝒮</text>
<text x="638.2" y="61.6" font-family='"Liberation Serif", "DejaVu Serif", serif' font-size="12" font-style="italic" fill="#fff">p</text>
<polygon points="805.8,48.8 813.6,44.9 813.6,52.7" fill="#ec1c1c" stroke="#7a0000" stroke-width="0.6"/>
<text x="816.2" y="52.4" font-family='"Liberation Serif", "DejaVu Serif", serif' font-size="15.5" font-style="italic">p</text>
<text x="548.4" y="117.9" font-family='"Liberation Sans", "DejaVu Sans", sans-serif' font-size="15.5" font-weight="bold" textLength="12.9" lengthAdjust="spacingAndGlyphs" stroke="#000" stroke-width="0.35">d.</text>
<line x1="582.1" y1="217.6" x2="692.8" y2="106.4" stroke="#333" stroke-width="0.9"/>
<line x1="582.1" y1="129.4" x2="692.8" y2="129.4" stroke="#000" stroke-width="1.1"/>
<line x1="669.8" y1="106.4" x2="669.8" y2="186.6" stroke="#000" stroke-width="0.9"/>
<g fill="#3d8fe8"><circle cx="584.3" cy="206.9" r="2.00"/><circle cx="588.1" cy="204.1" r="2.00"/><circle cx="591.9" cy="201.2" r="2.00"/><circle cx="595.7" cy="198.4" r="2.00"/><circle cx="599.5" cy="195.5" r="2.00"/><circle cx="603.3" cy="192.7" r="2.00"/><circle cx="607.1" cy="189.8" r="2.00"/><circle cx="610.9" cy="187.0" r="2.00"/><circle cx="614.7" cy="184.1" r="2.00"/><circle cx="618.5" cy="181.3" r="2.00"/><circle cx="622.3" cy="178.4" r="2.00"/><circle cx="626.1" cy="175.6" r="2.00"/><circle cx="629.9" cy="172.7" r="2.00"/><circle cx="633.7" cy="169.9" r="2.00"/><circle cx="637.5" cy="167.0" r="2.00"/><circle cx="641.2" cy="164.1" r="2.00"/><circle cx="645.0" cy="160.8" r="2.00"/><circle cx="648.8" cy="157.1" r="2.00"/><circle cx="652.6" cy="153.3" r="2.00"/><circle cx="656.4" cy="149.6" r="2.00"/><circle cx="660.2" cy="145.8" r="2.00"/><circle cx="664.0" cy="142.1" r="2.00"/><circle cx="667.8" cy="138.3" r="2.00"/><circle cx="671.6" cy="134.6" r="2.00"/><circle cx="675.4" cy="130.9" r="2.00"/><circle cx="679.2" cy="127.1" r="2.00"/><circle cx="683.0" cy="123.4" r="2.00"/><circle cx="686.8" cy="119.6" r="2.00"/><circle cx="690.6" cy="117.6" r="2.00"/></g>
<g fill="#f8661c"><circle cx="587.4" cy="211.5" r="2.00"/><circle cx="591.3" cy="207.6" r="2.00"/><circle cx="595.1" cy="203.7" r="2.00"/><circle cx="599.0" cy="199.9" r="2.00"/><circle cx="602.8" cy="196.0" r="2.00"/><circle cx="606.7" cy="192.1" r="2.00"/><circle cx="610.5" cy="188.3" r="2.00"/><circle cx="614.4" cy="184.4" r="2.00"/><circle cx="618.2" cy="180.5" r="2.00"/><circle cx="622.1" cy="176.7" r="2.00"/><circle cx="625.9" cy="172.8" r="2.00"/><circle cx="629.8" cy="168.9" r="2.00"/><circle cx="633.6" cy="165.1" r="2.00"/><circle cx="637.4" cy="161.2" r="2.00"/><circle cx="641.3" cy="157.3" r="2.00"/><circle cx="645.1" cy="153.5" r="2.00"/><circle cx="649.0" cy="149.6" r="2.00"/><circle cx="652.8" cy="145.7" r="2.00"/><circle cx="656.7" cy="141.9" r="2.00"/><circle cx="660.5" cy="138.0" r="2.00"/><circle cx="664.4" cy="134.1" r="2.00"/><circle cx="668.2" cy="130.3" r="2.00"/><circle cx="672.1" cy="126.4" r="2.00"/><circle cx="675.9" cy="122.5" r="2.00"/><circle cx="679.8" cy="118.7" r="2.00"/><circle cx="683.6" cy="114.8" r="2.00"/><circle cx="687.5" cy="110.9" r="2.00"/></g>
<line x1="582.1" y1="328.0" x2="692.8" y2="217.6" stroke="#333" stroke-width="0.9"/>
<g stroke="#3d8fe8" stroke-width="0.8"><line x1="683.9" y1="229.1" x2="683.9" y2="235.1"/><line x1="673.9" y1="230.9" x2="673.9" y2="236.9"/><line x1="668.4" y1="238.0" x2="668.4" y2="244.0"/><line x1="665.0" y1="240.6" x2="665.0" y2="246.6"/><line x1="661.8" y1="244.6" x2="661.8" y2="250.6"/><line x1="658.4" y1="246.4" x2="658.4" y2="252.4"/><line x1="655.1" y1="247.9" x2="655.1" y2="253.9"/><line x1="651.8" y1="246.8" x2="651.8" y2="252.8"/><line x1="648.5" y1="255.6" x2="648.5" y2="261.6"/><line x1="645.2" y1="256.1" x2="645.2" y2="262.1"/><line x1="640.7" y1="259.0" x2="640.7" y2="265.0"/><line x1="633.0" y1="277.3" x2="633.0" y2="283.3"/><line x1="626.4" y1="284.4" x2="626.4" y2="290.4"/><line x1="623.2" y1="291.7" x2="623.2" y2="297.7"/><line x1="618.7" y1="295.1" x2="618.7" y2="301.1"/><line x1="611.9" y1="295.1" x2="611.9" y2="301.1"/><line x1="608.5" y1="305.3" x2="608.5" y2="311.3"/><line x1="605.1" y1="311.0" x2="605.1" y2="317.0"/><line x1="601.7" y1="301.9" x2="601.7" y2="307.9"/><line x1="597.2" y1="308.7" x2="597.2" y2="314.7"/><line x1="593.8" y1="312.1" x2="593.8" y2="318.1"/><line x1="590.4" y1="316.6" x2="590.4" y2="322.6"/></g>
<g fill="#3d8fe8"><circle cx="683.9" cy="232.1" r="2.00"/><circle cx="673.9" cy="233.9" r="2.00"/><circle cx="668.4" cy="241.0" r="2.00"/><circle cx="665.0" cy="243.6" r="2.00"/><circle cx="661.8" cy="247.6" r="2.00"/><circle cx="658.4" cy="249.4" r="2.00"/><circle cx="655.1" cy="250.9" r="2.00"/><circle cx="651.8" cy="249.8" r="2.00"/><circle cx="648.5" cy="258.6" r="2.00"/><circle cx="645.2" cy="259.1" r="2.00"/><circle cx="640.7" cy="262.0" r="2.00"/><circle cx="633.0" cy="280.3" r="2.00"/><circle cx="626.4" cy="287.4" r="2.00"/><circle cx="623.2" cy="294.7" r="2.00"/><circle cx="618.7" cy="298.1" r="2.00"/><circle cx="611.9" cy="298.1" r="2.00"/><circle cx="608.5" cy="308.3" r="2.00"/><circle cx="605.1" cy="314.0" r="2.00"/><circle cx="601.7" cy="304.9" r="2.00"/><circle cx="597.2" cy="311.7" r="2.00"/><circle cx="593.8" cy="315.1" r="2.00"/><circle cx="590.4" cy="319.6" r="2.00"/></g>
<g stroke="#f8661c" stroke-width="0.8"><line x1="680.5" y1="227.0" x2="680.5" y2="232.0"/><line x1="677.2" y1="228.5" x2="677.2" y2="233.5"/><line x1="673.5" y1="233.0" x2="673.5" y2="238.0"/><line x1="669.5" y1="237.3" x2="669.5" y2="242.3"/><line x1="666.2" y1="241.8" x2="666.2" y2="246.8"/><line x1="662.9" y1="245.1" x2="662.9" y2="250.1"/><line x1="659.5" y1="248.4" x2="659.5" y2="253.4"/><line x1="655.1" y1="253.9" x2="655.1" y2="258.9"/><line x1="651.8" y1="258.4" x2="651.8" y2="263.4"/><line x1="648.5" y1="260.6" x2="648.5" y2="265.6"/><line x1="644.1" y1="262.8" x2="644.1" y2="267.8"/><line x1="640.7" y1="267.2" x2="640.7" y2="272.2"/><line x1="637.4" y1="270.5" x2="637.4" y2="275.5"/><line x1="634.1" y1="273.8" x2="634.1" y2="278.8"/><line x1="629.7" y1="278.2" x2="629.7" y2="283.2"/><line x1="626.4" y1="279.0" x2="626.4" y2="284.0"/><line x1="622.1" y1="285.4" x2="622.1" y2="290.4"/><line x1="617.6" y1="290.0" x2="617.6" y2="295.0"/><line x1="614.2" y1="293.4" x2="614.2" y2="298.4"/><line x1="608.5" y1="297.9" x2="608.5" y2="302.9"/><line x1="605.1" y1="303.5" x2="605.1" y2="308.5"/><line x1="600.6" y1="306.9" x2="600.6" y2="311.9"/><line x1="597.2" y1="309.2" x2="597.2" y2="314.2"/><line x1="593.8" y1="314.9" x2="593.8" y2="319.9"/><line x1="590.4" y1="319.4" x2="590.4" y2="324.4"/></g>
<g fill="#f8661c"><circle cx="680.5" cy="229.5" r="2.00"/><circle cx="677.2" cy="231.0" r="2.00"/><circle cx="673.5" cy="235.5" r="2.00"/><circle cx="669.5" cy="239.8" r="2.00"/><circle cx="666.2" cy="244.3" r="2.00"/><circle cx="662.9" cy="247.6" r="2.00"/><circle cx="659.5" cy="250.9" r="2.00"/><circle cx="655.1" cy="256.4" r="2.00"/><circle cx="651.8" cy="260.9" r="2.00"/><circle cx="648.5" cy="263.1" r="2.00"/><circle cx="644.1" cy="265.3" r="2.00"/><circle cx="640.7" cy="269.7" r="2.00"/><circle cx="637.4" cy="273.0" r="2.00"/><circle cx="634.1" cy="276.3" r="2.00"/><circle cx="629.7" cy="280.7" r="2.00"/><circle cx="626.4" cy="281.5" r="2.00"/><circle cx="622.1" cy="287.9" r="2.00"/><circle cx="617.6" cy="292.5" r="2.00"/><circle cx="614.2" cy="295.9" r="2.00"/><circle cx="608.5" cy="300.4" r="2.00"/><circle cx="605.1" cy="306.0" r="2.00"/><circle cx="600.6" cy="309.4" r="2.00"/><circle cx="597.2" cy="311.7" r="2.00"/><circle cx="593.8" cy="317.4" r="2.00"/><circle cx="590.4" cy="321.9" r="2.00"/></g>
<line x1="692.8" y1="328.0" x2="803.5" y2="217.6" stroke="#333" stroke-width="0.9"/>
<g fill="#3d8fe8"><circle cx="698.0" cy="311.5" r="2.00"/><circle cx="701.6" cy="308.7" r="2.00"/><circle cx="705.1" cy="306.0" r="2.00"/><circle cx="708.7" cy="303.2" r="2.00"/><circle cx="712.3" cy="300.5" r="2.00"/><circle cx="715.9" cy="297.7" r="2.00"/><circle cx="719.4" cy="295.0" r="2.00"/><circle cx="723.0" cy="292.2" r="2.00"/><circle cx="726.6" cy="289.5" r="2.00"/><circle cx="730.1" cy="286.7" r="2.00"/><circle cx="733.7" cy="283.9" r="2.00"/><circle cx="737.3" cy="281.2" r="2.00"/><circle cx="740.8" cy="278.4" r="2.00"/><circle cx="744.4" cy="275.7" r="2.00"/><circle cx="748.0" cy="272.9" r="2.00"/><circle cx="751.6" cy="270.2" r="2.00"/><circle cx="755.1" cy="267.4" r="2.00"/><circle cx="758.7" cy="264.7" r="2.00"/><circle cx="762.3" cy="261.9" r="2.00"/><circle cx="765.8" cy="259.2" r="2.00"/><circle cx="769.4" cy="256.4" r="2.00"/><circle cx="773.0" cy="253.6" r="2.00"/><circle cx="776.5" cy="250.9" r="2.00"/><circle cx="780.1" cy="248.1" r="2.00"/><circle cx="783.7" cy="245.4" r="2.00"/><circle cx="787.3" cy="242.6" r="2.00"/><circle cx="790.8" cy="239.9" r="2.00"/><circle cx="794.4" cy="237.1" r="2.00"/><circle cx="798.0" cy="234.4" r="2.00"/></g>
<g fill="#f8661c"><circle cx="701.3" cy="319.0" r="2.00"/><circle cx="704.9" cy="315.4" r="2.00"/><circle cx="708.5" cy="311.8" r="2.00"/><circle cx="712.1" cy="308.3" r="2.00"/><circle cx="715.7" cy="304.7" r="2.00"/><circle cx="719.3" cy="301.1" r="2.00"/><circle cx="722.9" cy="297.5" r="2.00"/><circle cx="726.4" cy="293.9" r="2.00"/><circle cx="730.0" cy="290.4" r="2.00"/><circle cx="733.6" cy="286.8" r="2.00"/><circle cx="737.2" cy="283.2" r="2.00"/><circle cx="740.8" cy="279.6" r="2.00"/><circle cx="744.4" cy="276.0" r="2.00"/><circle cx="748.0" cy="272.5" r="2.00"/><circle cx="751.6" cy="268.9" r="2.00"/><circle cx="755.2" cy="265.3" r="2.00"/><circle cx="758.8" cy="261.7" r="2.00"/><circle cx="762.3" cy="258.1" r="2.00"/><circle cx="765.9" cy="254.6" r="2.00"/><circle cx="769.5" cy="251.0" r="2.00"/><circle cx="773.1" cy="247.4" r="2.00"/><circle cx="776.7" cy="243.8" r="2.00"/><circle cx="780.3" cy="240.3" r="2.00"/><circle cx="783.9" cy="236.7" r="2.00"/><circle cx="787.5" cy="233.1" r="2.00"/><circle cx="791.1" cy="229.5" r="2.00"/><circle cx="794.6" cy="225.9" r="2.00"/></g>
<rect x="582.1" y="106.4" width="110.7" height="111.2" fill="none" stroke="#000" stroke-width="2"/>
<rect x="582.1" y="217.6" width="110.7" height="110.4" fill="none" stroke="#000" stroke-width="2"/>
<rect x="692.8" y="217.6" width="110.7" height="110.4" fill="none" stroke="#000" stroke-width="2"/>
<text x="589.6" y="124.2" font-family='"Liberation Serif", "DejaVu Serif", serif' font-size="19" font-style="italic">P</text>
<text x="602.6" y="128.0" font-family='"Liberation Serif", "DejaVu Serif", serif' font-size="12" font-style="italic" textLength="7.6" lengthAdjust="spacingAndGlyphs">Z</text>
<text x="588.6" y="240.6" font-family='"Liberation Serif", "DejaVu Serif", serif' font-size="19" font-style="italic">P</text>
<text x="601.8" y="244.0" font-family='"Liberation Serif", "DejaVu Serif", serif' font-size="12" font-style="italic" textLength="9.2" lengthAdjust="spacingAndGlyphs">X</text>
<text x="700.8" y="240.6" font-family='"Liberation Serif", "DejaVu Serif", serif' font-size="19" font-style="italic">P</text>
<text x="713.8" y="244.0" font-family='"Liberation Serif", "DejaVu Serif", serif' font-size="12" font-style="italic" textLength="8.4" lengthAdjust="spacingAndGlyphs">Y</text>
<circle cx="591.2" cy="141.6" r="2.4" fill="#f8661c"/><circle cx="591.2" cy="151.8" r="2.4" fill="#3d8fe8"/>
<text x="598.0" y="145.5" font-family='"Liberation Serif", "DejaVu Serif", serif' font-size="10" textLength="21.6" lengthAdjust="spacingAndGlyphs">RNN</text>
<text x="598.0" y="155.1" font-family='"Liberation Serif", "DejaVu Serif", serif' font-size="10" textLength="20.8" lengthAdjust="spacingAndGlyphs">SME</text>
<text x="571.6" y="117.2" font-family='"Liberation Serif", "DejaVu Serif", serif' font-size="13.8">1</text>
<text x="571.4" y="216.6" font-family='"Liberation Serif", "DejaVu Serif", serif' font-size="14">0</text>
<text x="571.6" y="228.2" font-family='"Liberation Serif", "DejaVu Serif", serif' font-size="14">1</text>
<text x="570.8" y="328.8" font-family='"Liberation Serif", "DejaVu Serif", serif' font-size="14">0</text>
<text x="581.0" y="341.4" font-family='"Liberation Serif", "DejaVu Serif", serif' font-size="14">0</text>
<text x="686.6" y="341.4" font-family='"Liberation Serif", "DejaVu Serif", serif' font-size="14" textLength="13.8" lengthAdjust="spacingAndGlyphs">10</text>
<text x="797.4" y="341.4" font-family='"Liberation Serif", "DejaVu Serif", serif' font-size="14">1</text>
<text x="656.5" y="357.8" font-family='"Liberation Sans", "DejaVu Sans", sans-serif' font-size="14.5" textLength="74.3" lengthAdjust="spacingAndGlyphs">Predictions</text>
<text x="0.0" y="0.0" font-family='"Liberation Sans", "DejaVu Sans", sans-serif' font-size="14" textLength="87.2" lengthAdjust="spacingAndGlyphs" transform="translate(561.8,257.4) rotate(-90)">Tomography</text>
<text x="539.6" y="160.2" font-family='"Liberation Serif", "DejaVu Serif", serif' font-size="19">⟨</text>
<text x="545.2" y="158.2" font-family='"Liberation Serif", "DejaVu Serif", serif' font-size="14.5" font-style="italic">y</text>
<text x="552.8" y="159.8" font-family='"Liberation Serif", "DejaVu Serif", serif' font-size="9.5" font-style="italic">T</text>
<text x="559.6" y="160.2" font-family='"Liberation Serif", "DejaVu Serif", serif' font-size="19">⟩</text>
<text x="565.6" y="162.4" font-family='"DejaVu Math TeX Gyre", "Liberation Serif", serif' font-size="11">𝒮</text>
<text x="573.2" y="163.8" font-family='"Liberation Serif", "DejaVu Serif", serif' font-size="8" font-style="italic">p</text>
<text x="618.2" y="197.5" font-family='"Liberation Serif", "DejaVu Serif", serif' font-size="10.5" font-style="italic">ϵ</text><text x="622.2" y="192.1" font-family='"Liberation Serif", "DejaVu Serif", serif' font-size="5.6" textLength="13.4" lengthAdjust="spacingAndGlyphs">RNN</text><text x="622.0" y="199.5" font-family='"Liberation Serif", "DejaVu Serif", serif' font-size="7" font-style="italic">Z</text><text x="636.6" y="197.5" font-family='"Liberation Serif", "DejaVu Serif", serif' font-size="9.8" textLength="41.0" lengthAdjust="spacingAndGlyphs">= 0.6 × 10</text><text x="678.6" y="193.7" font-family='"Liberation Serif", "DejaVu Serif", serif' font-size="6.8" textLength="9.4" lengthAdjust="spacingAndGlyphs">−2</text>
<text x="618.2" y="212.9" font-family='"Liberation Serif", "DejaVu Serif", serif' font-size="10.5" font-style="italic">ϵ</text><text x="622.2" y="207.5" font-family='"Liberation Serif", "DejaVu Serif", serif' font-size="5.6" textLength="13.4" lengthAdjust="spacingAndGlyphs">SME</text><text x="622.0" y="214.9" font-family='"Liberation Serif", "DejaVu Serif", serif' font-size="7" font-style="italic">Z</text><text x="636.6" y="212.9" font-family='"Liberation Serif", "DejaVu Serif", serif' font-size="9.8" textLength="41.8" lengthAdjust="spacingAndGlyphs">= 4.2 × 10</text><text x="679.4" y="209.1" font-family='"Liberation Serif", "DejaVu Serif", serif' font-size="6.8" textLength="9.4" lengthAdjust="spacingAndGlyphs">−2</text>
<text x="618.6" y="311.4" font-family='"Liberation Serif", "DejaVu Serif", serif' font-size="10.5" font-style="italic">ϵ</text><text x="622.6" y="306.0" font-family='"Liberation Serif", "DejaVu Serif", serif' font-size="5.6" textLength="13.4" lengthAdjust="spacingAndGlyphs">RNN</text><text x="622.4" y="313.4" font-family='"Liberation Serif", "DejaVu Serif", serif' font-size="7" font-style="italic">X</text><text x="637.3" y="311.4" font-family='"Liberation Serif", "DejaVu Serif", serif' font-size="9.8" textLength="40.2" lengthAdjust="spacingAndGlyphs">= 0.8 × 10</text><text x="678.5" y="307.6" font-family='"Liberation Serif", "DejaVu Serif", serif' font-size="6.8" textLength="9.4" lengthAdjust="spacingAndGlyphs">−2</text>
<text x="619.6" y="322.0" font-family='"Liberation Serif", "DejaVu Serif", serif' font-size="10.5" font-style="italic">ϵ</text><text x="623.6" y="316.6" font-family='"Liberation Serif", "DejaVu Serif", serif' font-size="5.6" textLength="13.4" lengthAdjust="spacingAndGlyphs">SME</text><text x="623.4" y="324.0" font-family='"Liberation Serif", "DejaVu Serif", serif' font-size="7" font-style="italic">X</text><text x="637.5" y="322.0" font-family='"Liberation Serif", "DejaVu Serif", serif' font-size="9.8" textLength="40.0" lengthAdjust="spacingAndGlyphs">= 2.1 × 10</text><text x="678.5" y="318.2" font-family='"Liberation Serif", "DejaVu Serif", serif' font-size="6.8" textLength="9.4" lengthAdjust="spacingAndGlyphs">−2</text>
<text x="724.1" y="308.0" font-family='"Liberation Serif", "DejaVu Serif", serif' font-size="10.5" font-style="italic">ϵ</text><text x="728.1" y="302.6" font-family='"Liberation Serif", "DejaVu Serif", serif' font-size="5.6" textLength="13.4" lengthAdjust="spacingAndGlyphs">RNN</text><text x="727.9" y="310.0" font-family='"Liberation Serif", "DejaVu Serif", serif' font-size="7" font-style="italic">Y</text><text x="744.4" y="308.0" font-family='"Liberation Serif", "DejaVu Serif", serif' font-size="9.8" textLength="44.5" lengthAdjust="spacingAndGlyphs">= 0.7 × 10</text><text x="789.9" y="304.2" font-family='"Liberation Serif", "DejaVu Serif", serif' font-size="6.8" textLength="9.4" lengthAdjust="spacingAndGlyphs">−2</text>
<text x="724.1" y="322.0" font-family='"Liberation Serif", "DejaVu Serif", serif' font-size="10.5" font-style="italic">ϵ</text><text x="728.1" y="316.6" font-family='"Liberation Serif", "DejaVu Serif", serif' font-size="5.6" textLength="13.4" lengthAdjust="spacingAndGlyphs">SME</text><text x="727.9" y="324.0" font-family='"Liberation Serif", "DejaVu Serif", serif' font-size="7" font-style="italic">Y</text><text x="743.8" y="322.0" font-family='"Liberation Serif", "DejaVu Serif", serif' font-size="9.8" textLength="45.1" lengthAdjust="spacingAndGlyphs">= 6.3 × 10</text><text x="789.9" y="318.2" font-family='"Liberation Serif", "DejaVu Serif", serif' font-size="6.8" textLength="9.4" lengthAdjust="spacingAndGlyphs">−2</text>
<polygon points="693.2,129.6 711.8,114.6 711.8,208.0" fill="#c8c8c8" stroke="#222" stroke-width="0.9"/>
<rect x="711.8" y="114.6" width="104.0" height="93.4" fill="#fff"/>
<path d="M711.8 117.50H717.9V120.82H711.8zM711.8 120.82H731.2V124.14H711.8zM711.8 124.14H754.0V127.46H711.8zM711.8 127.46H782.0V130.78H711.8zM711.8 130.78H804.0V134.10H711.8zM711.8 134.10H810.7V137.42H711.8zM711.8 137.42H804.4V140.74H711.8zM711.8 140.74H786.0V144.06H711.8zM711.8 144.06H763.8V147.38H711.8zM711.8 147.38H744.0V150.70H711.8zM711.8 150.70H728.2V154.02H711.8zM711.8 154.02H720.7V157.34H711.8zM711.8 157.34H715.8V160.66H711.8zM711.8 160.66H714.0V163.98H711.8zM711.8 166.00H714.0V172.20H711.8zM711.8 172.20H715.6V176.00H711.8zM711.8 176.00H720.2V179.00H711.8zM711.8 179.00H724.0V182.80H711.8zM711.8 182.80H726.0V186.60H711.8zM711.8 186.60H727.5V191.90H711.8zM711.8 191.90H724.8V195.00H711.8zM711.8 195.00H721.0V198.80H711.8zM711.8 198.80H717.2V202.60H711.8zM711.8 202.60H714.9V207.10H711.8z" fill="#ff6414"/>
<g stroke="#ff9a66" stroke-width="0.35"><line x1="711.8" y1="120.82" x2="717.9" y2="120.82"/><line x1="711.8" y1="124.14" x2="731.2" y2="124.14"/><line x1="711.8" y1="127.46" x2="754.0" y2="127.46"/><line x1="711.8" y1="130.78" x2="782.0" y2="130.78"/><line x1="711.8" y1="134.10" x2="804.0" y2="134.10"/><line x1="711.8" y1="137.42" x2="804.4" y2="137.42"/><line x1="711.8" y1="140.74" x2="786.0" y2="140.74"/><line x1="711.8" y1="144.06" x2="763.8" y2="144.06"/><line x1="711.8" y1="147.38" x2="744.0" y2="147.38"/><line x1="711.8" y1="150.70" x2="728.2" y2="150.70"/><line x1="711.8" y1="154.02" x2="720.7" y2="154.02"/><line x1="711.8" y1="157.34" x2="715.8" y2="157.34"/><line x1="711.8" y1="160.66" x2="714.0" y2="160.66"/></g>
<line x1="711.8" y1="164.9" x2="815.8" y2="164.9" stroke="#000" stroke-width="1.2" stroke-dasharray="3.2,2"/>
<rect x="711.8" y="114.6" width="104.0" height="93.4" fill="none" stroke="#111" stroke-width="1.3"/>
<text x="742.2" y="142.4" font-family='"Liberation Serif", "DejaVu Serif", serif' font-size="19" fill="#fff">1</text>
<text x="742.4" y="195.4" font-family='"Liberation Serif", "DejaVu Serif", serif' font-size="19">0</text>
<text x="781.2" y="163.2" font-family='"Liberation Sans", "DejaVu Sans", sans-serif' font-size="7" textLength="30.6" lengthAdjust="spacingAndGlyphs">threshold</text>
<text x="720.6" y="112.0" font-family='"Liberation Sans", "DejaVu Sans", sans-serif' font-size="10.5" textLength="84.0" lengthAdjust="spacingAndGlyphs">counts ( <tspan font-family="Liberation Serif" font-style="italic">y</tspan> ∈ <tspan font-family="DejaVu Math TeX Gyre, Liberation Serif, serif">𝒮</tspan><tspan font-family="Liberation Serif" font-style="italic" font-size="7" dy="1.5">p</tspan><tspan dy="-1.5"> )</tspan></text>
</svg>
</body></html>
